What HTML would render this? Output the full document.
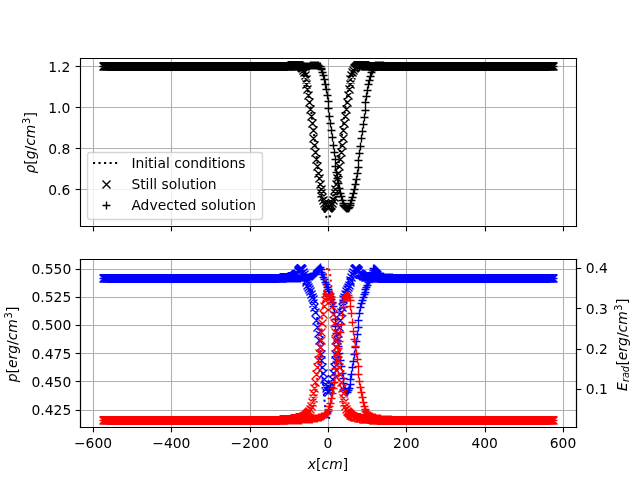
<!DOCTYPE html>
<html><head><meta charset="utf-8"><title>plot</title>
<style>html,body{margin:0;padding:0;background:#fff;overflow:hidden}svg{display:block}</style></head>
<body>
<svg width="640" height="480" viewBox="0 0 460.8 345.6"><defs><style type="text/css">*{stroke-linejoin: round; stroke-linecap: butt}</style></defs><g id="figure_1"><g id="patch_1"><path d="M 0 345.6  L 460.8 345.6  L 460.8 0  L 0 0  z " style="fill: #ffffff"/></g><g id="axes_1"><g id="patch_2"><path d="M 57.6 162.432  L 414.72 162.432  L 414.72 41.472  L 57.6 41.472  z " style="fill: #ffffff"/></g><g id="matplotlib.axis_1"><g id="xtick_1"><g id="line2d_1"><path d="M67.32 163.08L67.32 42.12" clip-path="url(#p5a04fdbafb)" style="fill: none; stroke: #b0b0b0; stroke-width: 0.8; stroke-linecap: square"/></g><g id="line2d_2"><defs><path id="mcf58b00b4e" d="M 0 0  L 0 3.5  " style="stroke: #000000; stroke-width: 0.8"/></defs><g><use href="#mcf58b00b4e" x="67.32" y="163.08" style="stroke: #000000; stroke-width: 0.8"/></g></g></g><g id="xtick_2"><g id="line2d_3"><path d="M123.48 163.08L123.48 42.12" clip-path="url(#p5a04fdbafb)" style="fill: none; stroke: #b0b0b0; stroke-width: 0.8; stroke-linecap: square"/></g><g id="line2d_4"><g><use href="#mcf58b00b4e" x="123.48" y="163.08" style="stroke: #000000; stroke-width: 0.8"/></g></g></g><g id="xtick_3"><g id="line2d_5"><path d="M180.36 163.08L180.36 42.12" clip-path="url(#p5a04fdbafb)" style="fill: none; stroke: #b0b0b0; stroke-width: 0.8; stroke-linecap: square"/></g><g id="line2d_6"><g><use href="#mcf58b00b4e" x="180.36" y="163.08" style="stroke: #000000; stroke-width: 0.8"/></g></g></g><g id="xtick_4"><g id="line2d_7"><path d="M236.52 163.08L236.52 42.12" clip-path="url(#p5a04fdbafb)" style="fill: none; stroke: #b0b0b0; stroke-width: 0.8; stroke-linecap: square"/></g><g id="line2d_8"><g><use href="#mcf58b00b4e" x="236.52" y="163.08" style="stroke: #000000; stroke-width: 0.8"/></g></g></g><g id="xtick_5"><g id="line2d_9"><path d="M292.68 163.08L292.68 42.12" clip-path="url(#p5a04fdbafb)" style="fill: none; stroke: #b0b0b0; stroke-width: 0.8; stroke-linecap: square"/></g><g id="line2d_10"><g><use href="#mcf58b00b4e" x="292.68" y="163.08" style="stroke: #000000; stroke-width: 0.8"/></g></g></g><g id="xtick_6"><g id="line2d_11"><path d="M349.56 163.08L349.56 42.12" clip-path="url(#p5a04fdbafb)" style="fill: none; stroke: #b0b0b0; stroke-width: 0.8; stroke-linecap: square"/></g><g id="line2d_12"><g><use href="#mcf58b00b4e" x="349.56" y="163.08" style="stroke: #000000; stroke-width: 0.8"/></g></g></g><g id="xtick_7"><g id="line2d_13"><path d="M405.72 163.08L405.72 42.12" clip-path="url(#p5a04fdbafb)" style="fill: none; stroke: #b0b0b0; stroke-width: 0.8; stroke-linecap: square"/></g><g id="line2d_14"><g><use href="#mcf58b00b4e" x="405.72" y="163.08" style="stroke: #000000; stroke-width: 0.8"/></g></g></g></g><g id="matplotlib.axis_2"><g id="ytick_1"><g id="line2d_15"><path d="M57.96 136.44L415.08 136.44" clip-path="url(#p5a04fdbafb)" style="fill: none; stroke: #b0b0b0; stroke-width: 0.8; stroke-linecap: square"/></g><g id="line2d_16"><defs><path id="m69bea41861" d="M 0 0  L -3.5 0  " style="stroke: #000000; stroke-width: 0.8"/></defs><g><use href="#m69bea41861" x="57.96" y="136.44" style="stroke: #000000; stroke-width: 0.8"/></g></g><g id="text_1"><text style="font-size: 10px; font-family: 'DejaVu Sans', sans-serif; text-anchor: end" x="50.6" y="140.061">0.6</text></g></g><g id="ytick_2"><g id="line2d_17"><path d="M57.96 106.92L415.08 106.92" clip-path="url(#p5a04fdbafb)" style="fill: none; stroke: #b0b0b0; stroke-width: 0.8; stroke-linecap: square"/></g><g id="line2d_18"><g><use href="#m69bea41861" x="57.96" y="106.92" style="stroke: #000000; stroke-width: 0.8"/></g></g><g id="text_2"><text style="font-size: 10px; font-family: 'DejaVu Sans', sans-serif; text-anchor: end" x="50.6" y="110.541">0.8</text></g></g><g id="ytick_3"><g id="line2d_19"><path d="M57.96 77.4L415.08 77.4" clip-path="url(#p5a04fdbafb)" style="fill: none; stroke: #b0b0b0; stroke-width: 0.8; stroke-linecap: square"/></g><g id="line2d_20"><g><use href="#m69bea41861" x="57.96" y="77.4" style="stroke: #000000; stroke-width: 0.8"/></g></g><g id="text_3"><text style="font-size: 10px; font-family: 'DejaVu Sans', sans-serif; text-anchor: end" x="50.6" y="81.02">1.0</text></g></g><g id="ytick_4"><g id="line2d_21"><path d="M57.96 47.88L415.08 47.88" clip-path="url(#p5a04fdbafb)" style="fill: none; stroke: #b0b0b0; stroke-width: 0.8; stroke-linecap: square"/></g><g id="line2d_22"><g><use href="#m69bea41861" x="57.96" y="47.88" style="stroke: #000000; stroke-width: 0.8"/></g></g><g id="text_4"><text style="font-size: 10px; font-family: 'DejaVu Sans', sans-serif; text-anchor: end" x="50.6" y="51.5">1.2</text></g></g><g id="text_5"><g transform="translate(26.437 124.966) rotate(-90)"><text><tspan x="0" y="-0.976" style="font-style: oblique; font-size: 10px; font-family: 'DejaVu Sans', sans-serif">ρ</tspan><tspan x="10.249" y="-0.976" style="font-style: oblique; font-size: 10px; font-family: 'DejaVu Sans', sans-serif">g</tspan><tspan x="19.965" y="-0.976" style="font-style: oblique; font-size: 10px; font-family: 'DejaVu Sans', sans-serif">c</tspan><tspan x="25.463" y="-0.976" style="font-style: oblique; font-size: 10px; font-family: 'DejaVu Sans', sans-serif">m</tspan><tspan x="6.347" y="-0.976" style="font-size: 10px; font-family: 'DejaVu Sans', sans-serif">[</tspan><tspan x="16.596" y="-0.976" style="font-size: 10px; font-family: 'DejaVu Sans', sans-serif">/</tspan><tspan x="40.396" y="-0.976" style="font-size: 10px; font-family: 'DejaVu Sans', sans-serif">]</tspan><tspan x="35.669" y="-4.804" style="font-size: 7px; font-family: 'DejaVu Sans', sans-serif">3</tspan></text></g></g></g><g id="line2d_23"><path d="M 73.842 47.700  L 209.795 47.797  L 211.701 47.978  L 212.971 48.238  L 214.242 48.702  L 215.513 49.502  L 216.148 50.082  L 216.783 50.818  L 217.418 51.743  L 218.054 52.891  L 218.689 54.297  L 219.324 55.998  L 220.595 60.419  L 221.865 66.367  L 223.136 73.915  L 224.407 82.935  L 226.312 98.472  L 230.124 130.635  L 231.395 139.865  L 232.665 147.574  L 233.936 153.303  L 234.571 155.293  L 235.207 156.644  L 235.842 157.327  L 236.477 157.327  L 237.112 156.644  L 237.748 155.293  L 238.383 153.303  L 239.018 150.714  L 240.289 143.939  L 241.559 135.411  L 243.465 120.345  L 247.912 82.935  L 249.183 73.915  L 250.454 66.367  L 251.724 60.419  L 252.995 55.998  L 254.265 52.891  L 255.536 50.818  L 256.806 49.502  L 258.077 48.702  L 259.348 48.238  L 261.254 47.897  L 263.795 47.746  L 270.148 47.701  L 398.477 47.700  L 398.477 47.700  " clip-path="url(#p5a04fdbafb)" style="fill: none; stroke-dasharray: 1.5,2.475; stroke-dashoffset: 0; stroke: #000000; stroke-width: 1.5"/></g><g id="line2d_24"><path clip-path="url(#p5a04fdbafb)" d="M71.64 45l5.76 5.76m-5.76 0l5.76 -5.76M71.64 45l5.76 5.76m-5.76 0l5.76 -5.76M72.36 45l5.76 5.76m-5.76 0l5.76 -5.76M73.08 45l5.76 5.76m-5.76 0l5.76 -5.76M73.8 45l5.76 5.76m-5.76 0l5.76 -5.76M74.52 45l5.76 5.76m-5.76 0l5.76 -5.76M75.24 45l5.76 5.76m-5.76 0l5.76 -5.76M75.96 45l5.76 5.76m-5.76 0l5.76 -5.76M76.68 45l5.76 5.76m-5.76 0l5.76 -5.76M77.4 45l5.76 5.76m-5.76 0l5.76 -5.76M77.4 45l5.76 5.76m-5.76 0l5.76 -5.76M78.12 45l5.76 5.76m-5.76 0l5.76 -5.76M78.84 45l5.76 5.76m-5.76 0l5.76 -5.76M79.56 45l5.76 5.76m-5.76 0l5.76 -5.76M80.28 45l5.76 5.76m-5.76 0l5.76 -5.76M81 45l5.76 5.76m-5.76 0l5.76 -5.76M81.72 45l5.76 5.76m-5.76 0l5.76 -5.76M82.44 45l5.76 5.76m-5.76 0l5.76 -5.76M82.44 45l5.76 5.76m-5.76 0l5.76 -5.76M83.16 45l5.76 5.76m-5.76 0l5.76 -5.76M83.88 45l5.76 5.76m-5.76 0l5.76 -5.76M84.6 45l5.76 5.76m-5.76 0l5.76 -5.76M85.32 45l5.76 5.76m-5.76 0l5.76 -5.76M86.04 45l5.76 5.76m-5.76 0l5.76 -5.76M86.76 45l5.76 5.76m-5.76 0l5.76 -5.76M87.48 45l5.76 5.76m-5.76 0l5.76 -5.76M88.2 45l5.76 5.76m-5.76 0l5.76 -5.76M88.2 45l5.76 5.76m-5.76 0l5.76 -5.76M88.92 45l5.76 5.76m-5.76 0l5.76 -5.76M89.64 45l5.76 5.76m-5.76 0l5.76 -5.76M90.36 45l5.76 5.76m-5.76 0l5.76 -5.76M91.08 45l5.76 5.76m-5.76 0l5.76 -5.76M91.8 45l5.76 5.76m-5.76 0l5.76 -5.76M92.52 45l5.76 5.76m-5.76 0l5.76 -5.76M93.24 45l5.76 5.76m-5.76 0l5.76 -5.76M93.24 45l5.76 5.76m-5.76 0l5.76 -5.76M93.96 45l5.76 5.76m-5.76 0l5.76 -5.76M94.68 45l5.76 5.76m-5.76 0l5.76 -5.76M95.4 45l5.76 5.76m-5.76 0l5.76 -5.76M96.12 45l5.76 5.76m-5.76 0l5.76 -5.76M96.84 45l5.76 5.76m-5.76 0l5.76 -5.76M97.56 45l5.76 5.76m-5.76 0l5.76 -5.76M98.28 45l5.76 5.76m-5.76 0l5.76 -5.76M99 45l5.76 5.76m-5.76 0l5.76 -5.76M99 45l5.76 5.76m-5.76 0l5.76 -5.76M99.72 45l5.76 5.76m-5.76 0l5.76 -5.76M100.44 45l5.76 5.76m-5.76 0l5.76 -5.76M101.16 45l5.76 5.76m-5.76 0l5.76 -5.76M101.88 45l5.76 5.76m-5.76 0l5.76 -5.76M102.6 45l5.76 5.76m-5.76 0l5.76 -5.76M103.32 45l5.76 5.76m-5.76 0l5.76 -5.76M104.04 45l5.76 5.76m-5.76 0l5.76 -5.76M104.04 45l5.76 5.76m-5.76 0l5.76 -5.76M104.76 45l5.76 5.76m-5.76 0l5.76 -5.76M105.48 45l5.76 5.76m-5.76 0l5.76 -5.76M106.2 45l5.76 5.76m-5.76 0l5.76 -5.76M106.92 45l5.76 5.76m-5.76 0l5.76 -5.76M107.64 45l5.76 5.76m-5.76 0l5.76 -5.76M108.36 45l5.76 5.76m-5.76 0l5.76 -5.76M109.08 45l5.76 5.76m-5.76 0l5.76 -5.76M109.8 45l5.76 5.76m-5.76 0l5.76 -5.76M109.8 45l5.76 5.76m-5.76 0l5.76 -5.76M110.52 45l5.76 5.76m-5.76 0l5.76 -5.76M111.24 45l5.76 5.76m-5.76 0l5.76 -5.76M111.96 45l5.76 5.76m-5.76 0l5.76 -5.76M112.68 45l5.76 5.76m-5.76 0l5.76 -5.76M113.4 45l5.76 5.76m-5.76 0l5.76 -5.76M114.12 45l5.76 5.76m-5.76 0l5.76 -5.76M114.84 45l5.76 5.76m-5.76 0l5.76 -5.76M114.84 45l5.76 5.76m-5.76 0l5.76 -5.76M115.56 45l5.76 5.76m-5.76 0l5.76 -5.76M116.28 45l5.76 5.76m-5.76 0l5.76 -5.76M117 45l5.76 5.76m-5.76 0l5.76 -5.76M117.72 45l5.76 5.76m-5.76 0l5.76 -5.76M118.44 45l5.76 5.76m-5.76 0l5.76 -5.76M119.16 45l5.76 5.76m-5.76 0l5.76 -5.76M119.88 45l5.76 5.76m-5.76 0l5.76 -5.76M120.6 45l5.76 5.76m-5.76 0l5.76 -5.76M120.6 45l5.76 5.76m-5.76 0l5.76 -5.76M121.32 45l5.76 5.76m-5.76 0l5.76 -5.76M122.04 45l5.76 5.76m-5.76 0l5.76 -5.76M122.76 45l5.76 5.76m-5.76 0l5.76 -5.76M123.48 45l5.76 5.76m-5.76 0l5.76 -5.76M124.2 45l5.76 5.76m-5.76 0l5.76 -5.76M124.92 45l5.76 5.76m-5.76 0l5.76 -5.76M125.64 45l5.76 5.76m-5.76 0l5.76 -5.76M125.64 45l5.76 5.76m-5.76 0l5.76 -5.76M126.36 45l5.76 5.76m-5.76 0l5.76 -5.76M127.08 45l5.76 5.76m-5.76 0l5.76 -5.76M127.8 45l5.76 5.76m-5.76 0l5.76 -5.76M128.52 45l5.76 5.76m-5.76 0l5.76 -5.76M129.24 45l5.76 5.76m-5.76 0l5.76 -5.76M129.96 45l5.76 5.76m-5.76 0l5.76 -5.76M130.68 45l5.76 5.76m-5.76 0l5.76 -5.76M131.4 45l5.76 5.76m-5.76 0l5.76 -5.76M131.4 45l5.76 5.76m-5.76 0l5.76 -5.76M132.12 45l5.76 5.76m-5.76 0l5.76 -5.76M132.84 45l5.76 5.76m-5.76 0l5.76 -5.76M133.56 45l5.76 5.76m-5.76 0l5.76 -5.76M134.28 45l5.76 5.76m-5.76 0l5.76 -5.76M135 45l5.76 5.76m-5.76 0l5.76 -5.76M135.72 45l5.76 5.76m-5.76 0l5.76 -5.76M136.44 45l5.76 5.76m-5.76 0l5.76 -5.76M136.44 45l5.76 5.76m-5.76 0l5.76 -5.76M137.16 45l5.76 5.76m-5.76 0l5.76 -5.76M137.88 45l5.76 5.76m-5.76 0l5.76 -5.76M138.6 45l5.76 5.76m-5.76 0l5.76 -5.76M139.32 45l5.76 5.76m-5.76 0l5.76 -5.76M140.04 45l5.76 5.76m-5.76 0l5.76 -5.76M140.76 45l5.76 5.76m-5.76 0l5.76 -5.76M141.48 45l5.76 5.76m-5.76 0l5.76 -5.76M142.2 45l5.76 5.76m-5.76 0l5.76 -5.76M142.2 45l5.76 5.76m-5.76 0l5.76 -5.76M142.92 45l5.76 5.76m-5.76 0l5.76 -5.76M143.64 45l5.76 5.76m-5.76 0l5.76 -5.76M144.36 45l5.76 5.76m-5.76 0l5.76 -5.76M145.08 45l5.76 5.76m-5.76 0l5.76 -5.76M145.8 45l5.76 5.76m-5.76 0l5.76 -5.76M146.52 45l5.76 5.76m-5.76 0l5.76 -5.76M147.24 45l5.76 5.76m-5.76 0l5.76 -5.76M147.24 45l5.76 5.76m-5.76 0l5.76 -5.76M147.96 45l5.76 5.76m-5.76 0l5.76 -5.76M148.68 45l5.76 5.76m-5.76 0l5.76 -5.76M149.4 45l5.76 5.76m-5.76 0l5.76 -5.76M150.12 45l5.76 5.76m-5.76 0l5.76 -5.76M150.84 45l5.76 5.76m-5.76 0l5.76 -5.76M151.56 45l5.76 5.76m-5.76 0l5.76 -5.76M152.28 45l5.76 5.76m-5.76 0l5.76 -5.76M153 45l5.76 5.76m-5.76 0l5.76 -5.76M153 45l5.76 5.76m-5.76 0l5.76 -5.76M153.72 45l5.76 5.76m-5.76 0l5.76 -5.76M154.44 45l5.76 5.76m-5.76 0l5.76 -5.76M155.16 45l5.76 5.76m-5.76 0l5.76 -5.76M155.88 45l5.76 5.76m-5.76 0l5.76 -5.76M156.6 45l5.76 5.76m-5.76 0l5.76 -5.76M157.32 45l5.76 5.76m-5.76 0l5.76 -5.76M158.04 45l5.76 5.76m-5.76 0l5.76 -5.76M158.04 45l5.76 5.76m-5.76 0l5.76 -5.76M158.76 45l5.76 5.76m-5.76 0l5.76 -5.76M159.48 45l5.76 5.76m-5.76 0l5.76 -5.76M160.2 45l5.76 5.76m-5.76 0l5.76 -5.76M160.92 45l5.76 5.76m-5.76 0l5.76 -5.76M161.64 45l5.76 5.76m-5.76 0l5.76 -5.76M162.36 45l5.76 5.76m-5.76 0l5.76 -5.76M163.08 45l5.76 5.76m-5.76 0l5.76 -5.76M163.8 45l5.76 5.76m-5.76 0l5.76 -5.76M163.8 45l5.76 5.76m-5.76 0l5.76 -5.76M164.52 45l5.76 5.76m-5.76 0l5.76 -5.76M165.24 45l5.76 5.76m-5.76 0l5.76 -5.76M165.96 45l5.76 5.76m-5.76 0l5.76 -5.76M166.68 45l5.76 5.76m-5.76 0l5.76 -5.76M167.4 45l5.76 5.76m-5.76 0l5.76 -5.76M168.12 45l5.76 5.76m-5.76 0l5.76 -5.76M168.84 45l5.76 5.76m-5.76 0l5.76 -5.76M168.84 45l5.76 5.76m-5.76 0l5.76 -5.76M169.56 45l5.76 5.76m-5.76 0l5.76 -5.76M170.28 45l5.76 5.76m-5.76 0l5.76 -5.76M171 45l5.76 5.76m-5.76 0l5.76 -5.76M171.72 45l5.76 5.76m-5.76 0l5.76 -5.76M172.44 45l5.76 5.76m-5.76 0l5.76 -5.76M173.16 45l5.76 5.76m-5.76 0l5.76 -5.76M173.88 45l5.76 5.76m-5.76 0l5.76 -5.76M174.6 45l5.76 5.76m-5.76 0l5.76 -5.76M174.6 45l5.76 5.76m-5.76 0l5.76 -5.76M175.32 45l5.76 5.76m-5.76 0l5.76 -5.76M176.04 45l5.76 5.76m-5.76 0l5.76 -5.76M176.76 45l5.76 5.76m-5.76 0l5.76 -5.76M177.48 45l5.76 5.76m-5.76 0l5.76 -5.76M178.2 45l5.76 5.76m-5.76 0l5.76 -5.76M178.92 45l5.76 5.76m-5.76 0l5.76 -5.76M179.64 45l5.76 5.76m-5.76 0l5.76 -5.76M179.64 45l5.76 5.76m-5.76 0l5.76 -5.76M180.36 45l5.76 5.76m-5.76 0l5.76 -5.76M181.08 45l5.76 5.76m-5.76 0l5.76 -5.76M181.8 45l5.76 5.76m-5.76 0l5.76 -5.76M182.52 45l5.76 5.76m-5.76 0l5.76 -5.76M183.24 45l5.76 5.76m-5.76 0l5.76 -5.76M183.96 45l5.76 5.76m-5.76 0l5.76 -5.76M184.68 45l5.76 5.76m-5.76 0l5.76 -5.76M185.4 45l5.76 5.76m-5.76 0l5.76 -5.76M185.4 45l5.76 5.76m-5.76 0l5.76 -5.76M186.12 45l5.76 5.76m-5.76 0l5.76 -5.76M186.84 45l5.76 5.76m-5.76 0l5.76 -5.76M187.56 45l5.76 5.76m-5.76 0l5.76 -5.76M188.28 45l5.76 5.76m-5.76 0l5.76 -5.76M189 45l5.76 5.76m-5.76 0l5.76 -5.76M189.72 45l5.76 5.76m-5.76 0l5.76 -5.76M190.44 45l5.76 5.76m-5.76 0l5.76 -5.76M190.44 45l5.76 5.76m-5.76 0l5.76 -5.76M191.16 45l5.76 5.76m-5.76 0l5.76 -5.76M191.88 45l5.76 5.76m-5.76 0l5.76 -5.76M192.6 45l5.76 5.76m-5.76 0l5.76 -5.76M193.32 45l5.76 5.76m-5.76 0l5.76 -5.76M194.04 45l5.76 5.76m-5.76 0l5.76 -5.76M194.76 45l5.76 5.76m-5.76 0l5.76 -5.76M195.48 45l5.76 5.76m-5.76 0l5.76 -5.76M196.2 45l5.76 5.76m-5.76 0l5.76 -5.76M196.2 45l5.76 5.76m-5.76 0l5.76 -5.76M196.92 45l5.76 5.76m-5.76 0l5.76 -5.76M197.64 45l5.76 5.76m-5.76 0l5.76 -5.76M198.36 45l5.76 5.76m-5.76 0l5.76 -5.76M199.08 45l5.76 5.76m-5.76 0l5.76 -5.76M199.8 45l5.76 5.76m-5.76 0l5.76 -5.76M200.52 45l5.76 5.76m-5.76 0l5.76 -5.76M201.24 45l5.76 5.76m-5.76 0l5.76 -5.76M201.24 45l5.76 5.76m-5.76 0l5.76 -5.76M201.96 45l5.76 5.76m-5.76 0l5.76 -5.76M202.68 45l5.76 5.76m-5.76 0l5.76 -5.76M203.4 45l5.76 5.76m-5.76 0l5.76 -5.76M204.12 45l5.76 5.76m-5.76 0l5.76 -5.76M204.84 45l5.76 5.76m-5.76 0l5.76 -5.76M205.56 45l5.76 5.76m-5.76 0l5.76 -5.76M206.28 45l5.76 5.76m-5.76 0l5.76 -5.76M207 45l5.76 5.76m-5.76 0l5.76 -5.76M207 44.28l5.76 5.76m-5.76 0l5.76 -5.76M207.72 44.28l5.76 5.76m-5.76 0l5.76 -5.76M208.44 44.28l5.76 5.76m-5.76 0l5.76 -5.76M209.16 44.28l5.76 5.76m-5.76 0l5.76 -5.76M209.88 44.28l5.76 5.76m-5.76 0l5.76 -5.76M210.6 44.28l5.76 5.76m-5.76 0l5.76 -5.76M211.32 44.28l5.76 5.76m-5.76 0l5.76 -5.76M212.04 44.28l5.76 5.76m-5.76 0l5.76 -5.76M212.04 44.28l5.76 5.76m-5.76 0l5.76 -5.76M212.76 44.28l5.76 5.76m-5.76 0l5.76 -5.76M213.48 45l5.76 5.76m-5.76 0l5.76 -5.76M214.2 45.72l5.76 5.76m-5.76 0l5.76 -5.76M214.92 46.44l5.76 5.76m-5.76 0l5.76 -5.76M215.64 47.88l5.76 5.76m-5.76 0l5.76 -5.76M216.36 49.32l5.76 5.76m-5.76 0l5.76 -5.76M217.08 51.48l5.76 5.76m-5.76 0l5.76 -5.76M217.8 54.36l5.76 5.76m-5.76 0l5.76 -5.76M217.8 57.96l5.76 5.76m-5.76 0l5.76 -5.76M218.52 61.56l5.76 5.76m-5.76 0l5.76 -5.76M219.24 65.88l5.76 5.76m-5.76 0l5.76 -5.76M219.96 70.92l5.76 5.76m-5.76 0l5.76 -5.76M220.68 75.96l5.76 5.76m-5.76 0l5.76 -5.76M221.4 81l5.76 5.76m-5.76 0l5.76 -5.76M222.12 86.04l5.76 5.76m-5.76 0l5.76 -5.76M222.84 91.08l5.76 5.76m-5.76 0l5.76 -5.76M222.84 96.84l5.76 5.76m-5.76 0l5.76 -5.76M223.56 101.88l5.76 5.76m-5.76 0l5.76 -5.76M224.28 106.92l5.76 5.76m-5.76 0l5.76 -5.76M225 111.96l5.76 5.76m-5.76 0l5.76 -5.76M225.72 117l5.76 5.76m-5.76 0l5.76 -5.76M226.44 122.04l5.76 5.76m-5.76 0l5.76 -5.76M227.16 125.64l5.76 5.76m-5.76 0l5.76 -5.76M227.88 129.96l5.76 5.76m-5.76 0l5.76 -5.76M228.6 133.56l5.76 5.76m-5.76 0l5.76 -5.76M228.6 136.44l5.76 5.76m-5.76 0l5.76 -5.76M229.32 139.32l5.76 5.76m-5.76 0l5.76 -5.76M230.04 141.48l5.76 5.76m-5.76 0l5.76 -5.76M230.76 143.64l5.76 5.76m-5.76 0l5.76 -5.76M231.48 145.08l5.76 5.76m-5.76 0l5.76 -5.76M232.2 145.8l5.76 5.76m-5.76 0l5.76 -5.76M232.92 146.52l5.76 5.76m-5.76 0l5.76 -5.76M233.64 147.24l5.76 5.76m-5.76 0l5.76 -5.76M233.64 147.24l5.76 5.76m-5.76 0l5.76 -5.76M234.36 146.52l5.76 5.76m-5.76 0l5.76 -5.76M235.08 145.8l5.76 5.76m-5.76 0l5.76 -5.76M235.8 145.08l5.76 5.76m-5.76 0l5.76 -5.76M236.52 143.64l5.76 5.76m-5.76 0l5.76 -5.76M237.24 141.48l5.76 5.76m-5.76 0l5.76 -5.76M237.96 139.32l5.76 5.76m-5.76 0l5.76 -5.76M238.68 136.44l5.76 5.76m-5.76 0l5.76 -5.76M238.68 133.56l5.76 5.76m-5.76 0l5.76 -5.76M239.4 129.96l5.76 5.76m-5.76 0l5.76 -5.76M240.12 125.64l5.76 5.76m-5.76 0l5.76 -5.76M240.84 122.04l5.76 5.76m-5.76 0l5.76 -5.76M241.56 117l5.76 5.76m-5.76 0l5.76 -5.76M242.28 111.96l5.76 5.76m-5.76 0l5.76 -5.76M243 106.92l5.76 5.76m-5.76 0l5.76 -5.76M243.72 101.88l5.76 5.76m-5.76 0l5.76 -5.76M244.44 96.84l5.76 5.76m-5.76 0l5.76 -5.76M244.44 91.08l5.76 5.76m-5.76 0l5.76 -5.76M245.16 86.04l5.76 5.76m-5.76 0l5.76 -5.76M245.88 81l5.76 5.76m-5.76 0l5.76 -5.76M246.6 75.96l5.76 5.76m-5.76 0l5.76 -5.76M247.32 70.92l5.76 5.76m-5.76 0l5.76 -5.76M248.04 65.88l5.76 5.76m-5.76 0l5.76 -5.76M248.76 61.56l5.76 5.76m-5.76 0l5.76 -5.76M249.48 57.96l5.76 5.76m-5.76 0l5.76 -5.76M249.48 54.36l5.76 5.76m-5.76 0l5.76 -5.76M250.2 51.48l5.76 5.76m-5.76 0l5.76 -5.76M250.92 49.32l5.76 5.76m-5.76 0l5.76 -5.76M251.64 47.88l5.76 5.76m-5.76 0l5.76 -5.76M252.36 46.44l5.76 5.76m-5.76 0l5.76 -5.76M253.08 45.72l5.76 5.76m-5.76 0l5.76 -5.76M253.8 45l5.76 5.76m-5.76 0l5.76 -5.76M254.52 44.28l5.76 5.76m-5.76 0l5.76 -5.76M255.24 44.28l5.76 5.76m-5.76 0l5.76 -5.76M255.24 44.28l5.76 5.76m-5.76 0l5.76 -5.76M255.96 44.28l5.76 5.76m-5.76 0l5.76 -5.76M256.68 44.28l5.76 5.76m-5.76 0l5.76 -5.76M257.4 44.28l5.76 5.76m-5.76 0l5.76 -5.76M258.12 44.28l5.76 5.76m-5.76 0l5.76 -5.76M258.84 44.28l5.76 5.76m-5.76 0l5.76 -5.76M259.56 44.28l5.76 5.76m-5.76 0l5.76 -5.76M260.28 44.28l5.76 5.76m-5.76 0l5.76 -5.76M260.28 45l5.76 5.76m-5.76 0l5.76 -5.76M261 45l5.76 5.76m-5.76 0l5.76 -5.76M261.72 45l5.76 5.76m-5.76 0l5.76 -5.76M262.44 45l5.76 5.76m-5.76 0l5.76 -5.76M263.16 45l5.76 5.76m-5.76 0l5.76 -5.76M263.88 45l5.76 5.76m-5.76 0l5.76 -5.76M264.6 45l5.76 5.76m-5.76 0l5.76 -5.76M265.32 45l5.76 5.76m-5.76 0l5.76 -5.76M266.04 45l5.76 5.76m-5.76 0l5.76 -5.76M266.04 45l5.76 5.76m-5.76 0l5.76 -5.76M266.76 45l5.76 5.76m-5.76 0l5.76 -5.76M267.48 45l5.76 5.76m-5.76 0l5.76 -5.76M268.2 45l5.76 5.76m-5.76 0l5.76 -5.76M268.92 45l5.76 5.76m-5.76 0l5.76 -5.76M269.64 45l5.76 5.76m-5.76 0l5.76 -5.76M270.36 45l5.76 5.76m-5.76 0l5.76 -5.76M271.08 45l5.76 5.76m-5.76 0l5.76 -5.76M271.08 45l5.76 5.76m-5.76 0l5.76 -5.76M271.8 45l5.76 5.76m-5.76 0l5.76 -5.76M272.52 45l5.76 5.76m-5.76 0l5.76 -5.76M273.24 45l5.76 5.76m-5.76 0l5.76 -5.76M273.96 45l5.76 5.76m-5.76 0l5.76 -5.76M274.68 45l5.76 5.76m-5.76 0l5.76 -5.76M275.4 45l5.76 5.76m-5.76 0l5.76 -5.76M276.12 45l5.76 5.76m-5.76 0l5.76 -5.76M276.84 45l5.76 5.76m-5.76 0l5.76 -5.76M276.84 45l5.76 5.76m-5.76 0l5.76 -5.76M277.56 45l5.76 5.76m-5.76 0l5.76 -5.76M278.28 45l5.76 5.76m-5.76 0l5.76 -5.76M279 45l5.76 5.76m-5.76 0l5.76 -5.76M279.72 45l5.76 5.76m-5.76 0l5.76 -5.76M280.44 45l5.76 5.76m-5.76 0l5.76 -5.76M281.16 45l5.76 5.76m-5.76 0l5.76 -5.76M281.88 45l5.76 5.76m-5.76 0l5.76 -5.76M281.88 45l5.76 5.76m-5.76 0l5.76 -5.76M282.6 45l5.76 5.76m-5.76 0l5.76 -5.76M283.32 45l5.76 5.76m-5.76 0l5.76 -5.76M284.04 45l5.76 5.76m-5.76 0l5.76 -5.76M284.76 45l5.76 5.76m-5.76 0l5.76 -5.76M285.48 45l5.76 5.76m-5.76 0l5.76 -5.76M286.2 45l5.76 5.76m-5.76 0l5.76 -5.76M286.92 45l5.76 5.76m-5.76 0l5.76 -5.76M287.64 45l5.76 5.76m-5.76 0l5.76 -5.76M287.64 45l5.76 5.76m-5.76 0l5.76 -5.76M288.36 45l5.76 5.76m-5.76 0l5.76 -5.76M289.08 45l5.76 5.76m-5.76 0l5.76 -5.76M289.8 45l5.76 5.76m-5.76 0l5.76 -5.76M290.52 45l5.76 5.76m-5.76 0l5.76 -5.76M291.24 45l5.76 5.76m-5.76 0l5.76 -5.76M291.96 45l5.76 5.76m-5.76 0l5.76 -5.76M292.68 45l5.76 5.76m-5.76 0l5.76 -5.76M292.68 45l5.76 5.76m-5.76 0l5.76 -5.76M293.4 45l5.76 5.76m-5.76 0l5.76 -5.76M294.12 45l5.76 5.76m-5.76 0l5.76 -5.76M294.84 45l5.76 5.76m-5.76 0l5.76 -5.76M295.56 45l5.76 5.76m-5.76 0l5.76 -5.76M296.28 45l5.76 5.76m-5.76 0l5.76 -5.76M297 45l5.76 5.76m-5.76 0l5.76 -5.76M297.72 45l5.76 5.76m-5.76 0l5.76 -5.76M298.44 45l5.76 5.76m-5.76 0l5.76 -5.76M298.44 45l5.76 5.76m-5.76 0l5.76 -5.76M299.16 45l5.76 5.76m-5.76 0l5.76 -5.76M299.88 45l5.76 5.76m-5.76 0l5.76 -5.76M300.6 45l5.76 5.76m-5.76 0l5.76 -5.76M301.32 45l5.76 5.76m-5.76 0l5.76 -5.76M302.04 45l5.76 5.76m-5.76 0l5.76 -5.76M302.76 45l5.76 5.76m-5.76 0l5.76 -5.76M303.48 45l5.76 5.76m-5.76 0l5.76 -5.76M303.48 45l5.76 5.76m-5.76 0l5.76 -5.76M304.2 45l5.76 5.76m-5.76 0l5.76 -5.76M304.92 45l5.76 5.76m-5.76 0l5.76 -5.76M305.64 45l5.76 5.76m-5.76 0l5.76 -5.76M306.36 45l5.76 5.76m-5.76 0l5.76 -5.76M307.08 45l5.76 5.76m-5.76 0l5.76 -5.76M307.8 45l5.76 5.76m-5.76 0l5.76 -5.76M308.52 45l5.76 5.76m-5.76 0l5.76 -5.76M309.24 45l5.76 5.76m-5.76 0l5.76 -5.76M309.24 45l5.76 5.76m-5.76 0l5.76 -5.76M309.96 45l5.76 5.76m-5.76 0l5.76 -5.76M310.68 45l5.76 5.76m-5.76 0l5.76 -5.76M311.4 45l5.76 5.76m-5.76 0l5.76 -5.76M312.12 45l5.76 5.76m-5.76 0l5.76 -5.76M312.84 45l5.76 5.76m-5.76 0l5.76 -5.76M313.56 45l5.76 5.76m-5.76 0l5.76 -5.76M314.28 45l5.76 5.76m-5.76 0l5.76 -5.76M314.28 45l5.76 5.76m-5.76 0l5.76 -5.76M315 45l5.76 5.76m-5.76 0l5.76 -5.76M315.72 45l5.76 5.76m-5.76 0l5.76 -5.76M316.44 45l5.76 5.76m-5.76 0l5.76 -5.76M317.16 45l5.76 5.76m-5.76 0l5.76 -5.76M317.88 45l5.76 5.76m-5.76 0l5.76 -5.76M318.6 45l5.76 5.76m-5.76 0l5.76 -5.76M319.32 45l5.76 5.76m-5.76 0l5.76 -5.76M320.04 45l5.76 5.76m-5.76 0l5.76 -5.76M320.04 45l5.76 5.76m-5.76 0l5.76 -5.76M320.76 45l5.76 5.76m-5.76 0l5.76 -5.76M321.48 45l5.76 5.76m-5.76 0l5.76 -5.76M322.2 45l5.76 5.76m-5.76 0l5.76 -5.76M322.92 45l5.76 5.76m-5.76 0l5.76 -5.76M323.64 45l5.76 5.76m-5.76 0l5.76 -5.76M324.36 45l5.76 5.76m-5.76 0l5.76 -5.76M325.08 45l5.76 5.76m-5.76 0l5.76 -5.76M325.08 45l5.76 5.76m-5.76 0l5.76 -5.76M325.8 45l5.76 5.76m-5.76 0l5.76 -5.76M326.52 45l5.76 5.76m-5.76 0l5.76 -5.76M327.24 45l5.76 5.76m-5.76 0l5.76 -5.76M327.96 45l5.76 5.76m-5.76 0l5.76 -5.76M328.68 45l5.76 5.76m-5.76 0l5.76 -5.76M329.4 45l5.76 5.76m-5.76 0l5.76 -5.76M330.12 45l5.76 5.76m-5.76 0l5.76 -5.76M330.84 45l5.76 5.76m-5.76 0l5.76 -5.76M330.84 45l5.76 5.76m-5.76 0l5.76 -5.76M331.56 45l5.76 5.76m-5.76 0l5.76 -5.76M332.28 45l5.76 5.76m-5.76 0l5.76 -5.76M333 45l5.76 5.76m-5.76 0l5.76 -5.76M333.72 45l5.76 5.76m-5.76 0l5.76 -5.76M334.44 45l5.76 5.76m-5.76 0l5.76 -5.76M335.16 45l5.76 5.76m-5.76 0l5.76 -5.76M335.88 45l5.76 5.76m-5.76 0l5.76 -5.76M335.88 45l5.76 5.76m-5.76 0l5.76 -5.76M336.6 45l5.76 5.76m-5.76 0l5.76 -5.76M337.32 45l5.76 5.76m-5.76 0l5.76 -5.76M338.04 45l5.76 5.76m-5.76 0l5.76 -5.76M338.76 45l5.76 5.76m-5.76 0l5.76 -5.76M339.48 45l5.76 5.76m-5.76 0l5.76 -5.76M340.2 45l5.76 5.76m-5.76 0l5.76 -5.76M340.92 45l5.76 5.76m-5.76 0l5.76 -5.76M341.64 45l5.76 5.76m-5.76 0l5.76 -5.76M341.64 45l5.76 5.76m-5.76 0l5.76 -5.76M342.36 45l5.76 5.76m-5.76 0l5.76 -5.76M343.08 45l5.76 5.76m-5.76 0l5.76 -5.76M343.8 45l5.76 5.76m-5.76 0l5.76 -5.76M344.52 45l5.76 5.76m-5.76 0l5.76 -5.76M345.24 45l5.76 5.76m-5.76 0l5.76 -5.76M345.96 45l5.76 5.76m-5.76 0l5.76 -5.76M346.68 45l5.76 5.76m-5.76 0l5.76 -5.76M346.68 45l5.76 5.76m-5.76 0l5.76 -5.76M347.4 45l5.76 5.76m-5.76 0l5.76 -5.76M348.12 45l5.76 5.76m-5.76 0l5.76 -5.76M348.84 45l5.76 5.76m-5.76 0l5.76 -5.76M349.56 45l5.76 5.76m-5.76 0l5.76 -5.76M350.28 45l5.76 5.76m-5.76 0l5.76 -5.76M351 45l5.76 5.76m-5.76 0l5.76 -5.76M351.72 45l5.76 5.76m-5.76 0l5.76 -5.76M352.44 45l5.76 5.76m-5.76 0l5.76 -5.76M352.44 45l5.76 5.76m-5.76 0l5.76 -5.76M353.16 45l5.76 5.76m-5.76 0l5.76 -5.76M353.88 45l5.76 5.76m-5.76 0l5.76 -5.76M354.6 45l5.76 5.76m-5.76 0l5.76 -5.76M355.32 45l5.76 5.76m-5.76 0l5.76 -5.76M356.04 45l5.76 5.76m-5.76 0l5.76 -5.76M356.76 45l5.76 5.76m-5.76 0l5.76 -5.76M357.48 45l5.76 5.76m-5.76 0l5.76 -5.76M357.48 45l5.76 5.76m-5.76 0l5.76 -5.76M358.2 45l5.76 5.76m-5.76 0l5.76 -5.76M358.92 45l5.76 5.76m-5.76 0l5.76 -5.76M359.64 45l5.76 5.76m-5.76 0l5.76 -5.76M360.36 45l5.76 5.76m-5.76 0l5.76 -5.76M361.08 45l5.76 5.76m-5.76 0l5.76 -5.76M361.8 45l5.76 5.76m-5.76 0l5.76 -5.76M362.52 45l5.76 5.76m-5.76 0l5.76 -5.76M363.24 45l5.76 5.76m-5.76 0l5.76 -5.76M363.24 45l5.76 5.76m-5.76 0l5.76 -5.76M363.96 45l5.76 5.76m-5.76 0l5.76 -5.76M364.68 45l5.76 5.76m-5.76 0l5.76 -5.76M365.4 45l5.76 5.76m-5.76 0l5.76 -5.76M366.12 45l5.76 5.76m-5.76 0l5.76 -5.76M366.84 45l5.76 5.76m-5.76 0l5.76 -5.76M367.56 45l5.76 5.76m-5.76 0l5.76 -5.76M368.28 45l5.76 5.76m-5.76 0l5.76 -5.76M368.28 45l5.76 5.76m-5.76 0l5.76 -5.76M369 45l5.76 5.76m-5.76 0l5.76 -5.76M369.72 45l5.76 5.76m-5.76 0l5.76 -5.76M370.44 45l5.76 5.76m-5.76 0l5.76 -5.76M371.16 45l5.76 5.76m-5.76 0l5.76 -5.76M371.88 45l5.76 5.76m-5.76 0l5.76 -5.76M372.6 45l5.76 5.76m-5.76 0l5.76 -5.76M373.32 45l5.76 5.76m-5.76 0l5.76 -5.76M374.04 45l5.76 5.76m-5.76 0l5.76 -5.76M374.04 45l5.76 5.76m-5.76 0l5.76 -5.76M374.76 45l5.76 5.76m-5.76 0l5.76 -5.76M375.48 45l5.76 5.76m-5.76 0l5.76 -5.76M376.2 45l5.76 5.76m-5.76 0l5.76 -5.76M376.92 45l5.76 5.76m-5.76 0l5.76 -5.76M377.64 45l5.76 5.76m-5.76 0l5.76 -5.76M378.36 45l5.76 5.76m-5.76 0l5.76 -5.76M379.08 45l5.76 5.76m-5.76 0l5.76 -5.76M379.08 45l5.76 5.76m-5.76 0l5.76 -5.76M379.8 45l5.76 5.76m-5.76 0l5.76 -5.76M380.52 45l5.76 5.76m-5.76 0l5.76 -5.76M381.24 45l5.76 5.76m-5.76 0l5.76 -5.76M381.96 45l5.76 5.76m-5.76 0l5.76 -5.76M382.68 45l5.76 5.76m-5.76 0l5.76 -5.76M383.4 45l5.76 5.76m-5.76 0l5.76 -5.76M384.12 45l5.76 5.76m-5.76 0l5.76 -5.76M384.84 45l5.76 5.76m-5.76 0l5.76 -5.76M384.84 45l5.76 5.76m-5.76 0l5.76 -5.76M385.56 45l5.76 5.76m-5.76 0l5.76 -5.76M386.28 45l5.76 5.76m-5.76 0l5.76 -5.76M387 45l5.76 5.76m-5.76 0l5.76 -5.76M387.72 45l5.76 5.76m-5.76 0l5.76 -5.76M388.44 45l5.76 5.76m-5.76 0l5.76 -5.76M389.16 45l5.76 5.76m-5.76 0l5.76 -5.76M389.88 45l5.76 5.76m-5.76 0l5.76 -5.76M389.88 45l5.76 5.76m-5.76 0l5.76 -5.76M390.6 45l5.76 5.76m-5.76 0l5.76 -5.76M391.32 45l5.76 5.76m-5.76 0l5.76 -5.76M392.04 45l5.76 5.76m-5.76 0l5.76 -5.76M392.76 45l5.76 5.76m-5.76 0l5.76 -5.76M393.48 45l5.76 5.76m-5.76 0l5.76 -5.76M394.2 45l5.76 5.76m-5.76 0l5.76 -5.76M394.92 45l5.76 5.76m-5.76 0l5.76 -5.76M395.64 45l5.76 5.76m-5.76 0l5.76 -5.76M395.64 45l5.76 5.76m-5.76 0l5.76 -5.76" style="fill: none; stroke: #000000; stroke-width: 1"/></g><g id="line2d_25"><path clip-path="url(#p5a04fdbafb)" d="M71.64 47.88h5.76m-2.88 -2.88v5.76M71.64 47.88h5.76m-2.88 -2.88v5.76M72.36 47.88h5.76m-2.88 -2.88v5.76M73.08 47.88h5.76m-2.88 -2.88v5.76M73.8 47.88h5.76m-2.88 -2.88v5.76M74.52 47.88h5.76m-2.88 -2.88v5.76M75.24 47.88h5.76m-2.88 -2.88v5.76M75.96 47.88h5.76m-2.88 -2.88v5.76M76.68 47.88h5.76m-2.88 -2.88v5.76M77.4 47.88h5.76m-2.88 -2.88v5.76M77.4 47.88h5.76m-2.88 -2.88v5.76M78.12 47.88h5.76m-2.88 -2.88v5.76M78.84 47.88h5.76m-2.88 -2.88v5.76M79.56 47.88h5.76m-2.88 -2.88v5.76M80.28 47.88h5.76m-2.88 -2.88v5.76M81 47.88h5.76m-2.88 -2.88v5.76M81.72 47.88h5.76m-2.88 -2.88v5.76M82.44 47.88h5.76m-2.88 -2.88v5.76M82.44 47.88h5.76m-2.88 -2.88v5.76M83.16 47.88h5.76m-2.88 -2.88v5.76M83.88 47.88h5.76m-2.88 -2.88v5.76M84.6 47.88h5.76m-2.88 -2.88v5.76M85.32 47.88h5.76m-2.88 -2.88v5.76M86.04 47.88h5.76m-2.88 -2.88v5.76M86.76 47.88h5.76m-2.88 -2.88v5.76M87.48 47.88h5.76m-2.88 -2.88v5.76M88.2 47.88h5.76m-2.88 -2.88v5.76M88.2 47.88h5.76m-2.88 -2.88v5.76M88.92 47.88h5.76m-2.88 -2.88v5.76M89.64 47.88h5.76m-2.88 -2.88v5.76M90.36 47.88h5.76m-2.88 -2.88v5.76M91.08 47.88h5.76m-2.88 -2.88v5.76M91.8 47.88h5.76m-2.88 -2.88v5.76M92.52 47.88h5.76m-2.88 -2.88v5.76M93.24 47.88h5.76m-2.88 -2.88v5.76M93.24 47.88h5.76m-2.88 -2.88v5.76M93.96 47.88h5.76m-2.88 -2.88v5.76M94.68 47.88h5.76m-2.88 -2.88v5.76M95.4 47.88h5.76m-2.88 -2.88v5.76M96.12 47.88h5.76m-2.88 -2.88v5.76M96.84 47.88h5.76m-2.88 -2.88v5.76M97.56 47.88h5.76m-2.88 -2.88v5.76M98.28 47.88h5.76m-2.88 -2.88v5.76M99 47.88h5.76m-2.88 -2.88v5.76M99 47.88h5.76m-2.88 -2.88v5.76M99.72 47.88h5.76m-2.88 -2.88v5.76M100.44 47.88h5.76m-2.88 -2.88v5.76M101.16 47.88h5.76m-2.88 -2.88v5.76M101.88 47.88h5.76m-2.88 -2.88v5.76M102.6 47.88h5.76m-2.88 -2.88v5.76M103.32 47.88h5.76m-2.88 -2.88v5.76M104.04 47.88h5.76m-2.88 -2.88v5.76M104.04 47.88h5.76m-2.88 -2.88v5.76M104.76 47.88h5.76m-2.88 -2.88v5.76M105.48 47.88h5.76m-2.88 -2.88v5.76M106.2 47.88h5.76m-2.88 -2.88v5.76M106.92 47.88h5.76m-2.88 -2.88v5.76M107.64 47.88h5.76m-2.88 -2.88v5.76M108.36 47.88h5.76m-2.88 -2.88v5.76M109.08 47.88h5.76m-2.88 -2.88v5.76M109.8 47.88h5.76m-2.88 -2.88v5.76M109.8 47.88h5.76m-2.88 -2.88v5.76M110.52 47.88h5.76m-2.88 -2.88v5.76M111.24 47.88h5.76m-2.88 -2.88v5.76M111.96 47.88h5.76m-2.88 -2.88v5.76M112.68 47.88h5.76m-2.88 -2.88v5.76M113.4 47.88h5.76m-2.88 -2.88v5.76M114.12 47.88h5.76m-2.88 -2.88v5.76M114.84 47.88h5.76m-2.88 -2.88v5.76M114.84 47.88h5.76m-2.88 -2.88v5.76M115.56 47.88h5.76m-2.88 -2.88v5.76M116.28 47.88h5.76m-2.88 -2.88v5.76M117 47.88h5.76m-2.88 -2.88v5.76M117.72 47.88h5.76m-2.88 -2.88v5.76M118.44 47.88h5.76m-2.88 -2.88v5.76M119.16 47.88h5.76m-2.88 -2.88v5.76M119.88 47.88h5.76m-2.88 -2.88v5.76M120.6 47.88h5.76m-2.88 -2.88v5.76M120.6 47.88h5.76m-2.88 -2.88v5.76M121.32 47.88h5.76m-2.88 -2.88v5.76M122.04 47.88h5.76m-2.88 -2.88v5.76M122.76 47.88h5.76m-2.88 -2.88v5.76M123.48 47.88h5.76m-2.88 -2.88v5.76M124.2 47.88h5.76m-2.88 -2.88v5.76M124.92 47.88h5.76m-2.88 -2.88v5.76M125.64 47.88h5.76m-2.88 -2.88v5.76M125.64 47.88h5.76m-2.88 -2.88v5.76M126.36 47.88h5.76m-2.88 -2.88v5.76M127.08 47.88h5.76m-2.88 -2.88v5.76M127.8 47.88h5.76m-2.88 -2.88v5.76M128.52 47.88h5.76m-2.88 -2.88v5.76M129.24 47.88h5.76m-2.88 -2.88v5.76M129.96 47.88h5.76m-2.88 -2.88v5.76M130.68 47.88h5.76m-2.88 -2.88v5.76M131.4 47.88h5.76m-2.88 -2.88v5.76M131.4 47.88h5.76m-2.88 -2.88v5.76M132.12 47.88h5.76m-2.88 -2.88v5.76M132.84 47.88h5.76m-2.88 -2.88v5.76M133.56 47.88h5.76m-2.88 -2.88v5.76M134.28 47.88h5.76m-2.88 -2.88v5.76M135 47.88h5.76m-2.88 -2.88v5.76M135.72 47.88h5.76m-2.88 -2.88v5.76M136.44 47.88h5.76m-2.88 -2.88v5.76M136.44 47.88h5.76m-2.88 -2.88v5.76M137.16 47.88h5.76m-2.88 -2.88v5.76M137.88 47.88h5.76m-2.88 -2.88v5.76M138.6 47.88h5.76m-2.88 -2.88v5.76M139.32 47.88h5.76m-2.88 -2.88v5.76M140.04 47.88h5.76m-2.88 -2.88v5.76M140.76 47.88h5.76m-2.88 -2.88v5.76M141.48 47.88h5.76m-2.88 -2.88v5.76M142.2 47.88h5.76m-2.88 -2.88v5.76M142.2 47.88h5.76m-2.88 -2.88v5.76M142.92 47.88h5.76m-2.88 -2.88v5.76M143.64 47.88h5.76m-2.88 -2.88v5.76M144.36 47.88h5.76m-2.88 -2.88v5.76M145.08 47.88h5.76m-2.88 -2.88v5.76M145.8 47.88h5.76m-2.88 -2.88v5.76M146.52 47.88h5.76m-2.88 -2.88v5.76M147.24 47.88h5.76m-2.88 -2.88v5.76M147.24 47.88h5.76m-2.88 -2.88v5.76M147.96 47.88h5.76m-2.88 -2.88v5.76M148.68 47.88h5.76m-2.88 -2.88v5.76M149.4 47.88h5.76m-2.88 -2.88v5.76M150.12 47.88h5.76m-2.88 -2.88v5.76M150.84 47.88h5.76m-2.88 -2.88v5.76M151.56 47.88h5.76m-2.88 -2.88v5.76M152.28 47.88h5.76m-2.88 -2.88v5.76M153 47.88h5.76m-2.88 -2.88v5.76M153 47.88h5.76m-2.88 -2.88v5.76M153.72 47.88h5.76m-2.88 -2.88v5.76M154.44 47.88h5.76m-2.88 -2.88v5.76M155.16 47.88h5.76m-2.88 -2.88v5.76M155.88 47.88h5.76m-2.88 -2.88v5.76M156.6 47.88h5.76m-2.88 -2.88v5.76M157.32 47.88h5.76m-2.88 -2.88v5.76M158.04 47.88h5.76m-2.88 -2.88v5.76M158.04 47.88h5.76m-2.88 -2.88v5.76M158.76 47.88h5.76m-2.88 -2.88v5.76M159.48 47.88h5.76m-2.88 -2.88v5.76M160.2 47.88h5.76m-2.88 -2.88v5.76M160.92 47.88h5.76m-2.88 -2.88v5.76M161.64 47.88h5.76m-2.88 -2.88v5.76M162.36 47.88h5.76m-2.88 -2.88v5.76M163.08 47.88h5.76m-2.88 -2.88v5.76M163.8 47.88h5.76m-2.88 -2.88v5.76M163.8 47.88h5.76m-2.88 -2.88v5.76M164.52 47.88h5.76m-2.88 -2.88v5.76M165.24 47.88h5.76m-2.88 -2.88v5.76M165.96 47.88h5.76m-2.88 -2.88v5.76M166.68 47.88h5.76m-2.88 -2.88v5.76M167.4 47.88h5.76m-2.88 -2.88v5.76M168.12 47.88h5.76m-2.88 -2.88v5.76M168.84 47.88h5.76m-2.88 -2.88v5.76M168.84 47.88h5.76m-2.88 -2.88v5.76M169.56 47.88h5.76m-2.88 -2.88v5.76M170.28 47.88h5.76m-2.88 -2.88v5.76M171 47.88h5.76m-2.88 -2.88v5.76M171.72 47.88h5.76m-2.88 -2.88v5.76M172.44 47.88h5.76m-2.88 -2.88v5.76M173.16 47.88h5.76m-2.88 -2.88v5.76M173.88 47.88h5.76m-2.88 -2.88v5.76M174.6 47.88h5.76m-2.88 -2.88v5.76M174.6 47.88h5.76m-2.88 -2.88v5.76M175.32 47.88h5.76m-2.88 -2.88v5.76M176.04 47.88h5.76m-2.88 -2.88v5.76M176.76 47.88h5.76m-2.88 -2.88v5.76M177.48 47.88h5.76m-2.88 -2.88v5.76M178.2 47.88h5.76m-2.88 -2.88v5.76M178.92 47.88h5.76m-2.88 -2.88v5.76M179.64 47.88h5.76m-2.88 -2.88v5.76M179.64 47.88h5.76m-2.88 -2.88v5.76M180.36 47.88h5.76m-2.88 -2.88v5.76M181.08 47.88h5.76m-2.88 -2.88v5.76M181.8 47.88h5.76m-2.88 -2.88v5.76M182.52 47.88h5.76m-2.88 -2.88v5.76M183.24 47.88h5.76m-2.88 -2.88v5.76M183.96 47.88h5.76m-2.88 -2.88v5.76M184.68 47.88h5.76m-2.88 -2.88v5.76M185.4 47.88h5.76m-2.88 -2.88v5.76M185.4 47.88h5.76m-2.88 -2.88v5.76M186.12 47.88h5.76m-2.88 -2.88v5.76M186.84 47.88h5.76m-2.88 -2.88v5.76M187.56 47.88h5.76m-2.88 -2.88v5.76M188.28 47.88h5.76m-2.88 -2.88v5.76M189 47.88h5.76m-2.88 -2.88v5.76M189.72 47.88h5.76m-2.88 -2.88v5.76M190.44 47.88h5.76m-2.88 -2.88v5.76M190.44 47.88h5.76m-2.88 -2.88v5.76M191.16 47.88h5.76m-2.88 -2.88v5.76M191.88 47.88h5.76m-2.88 -2.88v5.76M192.6 47.88h5.76m-2.88 -2.88v5.76M193.32 47.88h5.76m-2.88 -2.88v5.76M194.04 47.88h5.76m-2.88 -2.88v5.76M194.76 47.88h5.76m-2.88 -2.88v5.76M195.48 47.88h5.76m-2.88 -2.88v5.76M196.2 47.88h5.76m-2.88 -2.88v5.76M196.2 47.88h5.76m-2.88 -2.88v5.76M196.92 47.88h5.76m-2.88 -2.88v5.76M197.64 47.88h5.76m-2.88 -2.88v5.76M198.36 47.88h5.76m-2.88 -2.88v5.76M199.08 47.88h5.76m-2.88 -2.88v5.76M199.8 47.88h5.76m-2.88 -2.88v5.76M200.52 47.88h5.76m-2.88 -2.88v5.76M201.24 47.88h5.76m-2.88 -2.88v5.76M201.24 47.88h5.76m-2.88 -2.88v5.76M201.96 47.88h5.76m-2.88 -2.88v5.76M202.68 47.88h5.76m-2.88 -2.88v5.76M203.4 47.88h5.76m-2.88 -2.88v5.76M204.12 47.88h5.76m-2.88 -2.88v5.76M204.84 47.88h5.76m-2.88 -2.88v5.76M205.56 47.88h5.76m-2.88 -2.88v5.76M206.28 47.88h5.76m-2.88 -2.88v5.76M207 47.88h5.76m-2.88 -2.88v5.76M207 47.88h5.76m-2.88 -2.88v5.76M207.72 47.88h5.76m-2.88 -2.88v5.76M208.44 47.88h5.76m-2.88 -2.88v5.76M209.16 47.88h5.76m-2.88 -2.88v5.76M209.88 47.88h5.76m-2.88 -2.88v5.76M210.6 47.88h5.76m-2.88 -2.88v5.76M211.32 47.88h5.76m-2.88 -2.88v5.76M212.04 47.88h5.76m-2.88 -2.88v5.76M212.04 47.88h5.76m-2.88 -2.88v5.76M212.76 47.88h5.76m-2.88 -2.88v5.76M213.48 47.88h5.76m-2.88 -2.88v5.76M214.2 47.88h5.76m-2.88 -2.88v5.76M214.92 47.88h5.76m-2.88 -2.88v5.76M215.64 47.88h5.76m-2.88 -2.88v5.76M216.36 47.88h5.76m-2.88 -2.88v5.76M217.08 47.88h5.76m-2.88 -2.88v5.76M217.8 47.88h5.76m-2.88 -2.88v5.76M217.8 47.88h5.76m-2.88 -2.88v5.76M218.52 47.88h5.76m-2.88 -2.88v5.76M219.24 47.88h5.76m-2.88 -2.88v5.76M219.96 47.88h5.76m-2.88 -2.88v5.76M220.68 47.16h5.76m-2.88 -2.88v5.76M221.4 47.16h5.76m-2.88 -2.88v5.76M222.12 47.16h5.76m-2.88 -2.88v5.76M222.84 47.16h5.76m-2.88 -2.88v5.76M222.84 47.16h5.76m-2.88 -2.88v5.76M223.56 47.16h5.76m-2.88 -2.88v5.76M224.28 47.16h5.76m-2.88 -2.88v5.76M225 47.16h5.76m-2.88 -2.88v5.76M225.72 47.16h5.76m-2.88 -2.88v5.76M226.44 47.16h5.76m-2.88 -2.88v5.76M227.16 47.88h5.76m-2.88 -2.88v5.76M227.88 47.88h5.76m-2.88 -2.88v5.76M228.6 49.32h5.76m-2.88 -2.88v5.76M228.6 50.04h5.76m-2.88 -2.88v5.76M229.32 52.2h5.76m-2.88 -2.88v5.76M230.04 54.36h5.76m-2.88 -2.88v5.76M230.76 57.24h5.76m-2.88 -2.88v5.76M231.48 60.84h5.76m-2.88 -2.88v5.76M232.2 64.44h5.76m-2.88 -2.88v5.76M232.92 68.76h5.76m-2.88 -2.88v5.76M233.64 73.08h5.76m-2.88 -2.88v5.76M233.64 78.12h5.76m-2.88 -2.88v5.76M234.36 83.88h5.76m-2.88 -2.88v5.76M235.08 88.92h5.76m-2.88 -2.88v5.76M235.8 93.96h5.76m-2.88 -2.88v5.76M236.52 99h5.76m-2.88 -2.88v5.76M237.24 104.76h5.76m-2.88 -2.88v5.76M237.96 109.8h5.76m-2.88 -2.88v5.76M238.68 114.84h5.76m-2.88 -2.88v5.76M238.68 119.88h5.76m-2.88 -2.88v5.76M239.4 124.2h5.76m-2.88 -2.88v5.76M240.12 128.52h5.76m-2.88 -2.88v5.76M240.84 132.12h5.76m-2.88 -2.88v5.76M241.56 135.72h5.76m-2.88 -2.88v5.76M242.28 139.32h5.76m-2.88 -2.88v5.76M243 141.48h5.76m-2.88 -2.88v5.76M243.72 144.36h5.76m-2.88 -2.88v5.76M244.44 146.52h5.76m-2.88 -2.88v5.76M244.44 147.96h5.76m-2.88 -2.88v5.76M245.16 148.68h5.76m-2.88 -2.88v5.76M245.88 149.4h5.76m-2.88 -2.88v5.76M246.6 150.12h5.76m-2.88 -2.88v5.76M247.32 150.12h5.76m-2.88 -2.88v5.76M248.04 150.12h5.76m-2.88 -2.88v5.76M248.76 149.4h5.76m-2.88 -2.88v5.76M249.48 147.96h5.76m-2.88 -2.88v5.76M249.48 146.52h5.76m-2.88 -2.88v5.76M250.2 144.36h5.76m-2.88 -2.88v5.76M250.92 142.2h5.76m-2.88 -2.88v5.76M251.64 139.32h5.76m-2.88 -2.88v5.76M252.36 136.44h5.76m-2.88 -2.88v5.76M253.08 132.84h5.76m-2.88 -2.88v5.76M253.8 129.24h5.76m-2.88 -2.88v5.76M254.52 124.92h5.76m-2.88 -2.88v5.76M255.24 120.6h5.76m-2.88 -2.88v5.76M255.24 115.56h5.76m-2.88 -2.88v5.76M255.96 110.52h5.76m-2.88 -2.88v5.76M256.68 105.48h5.76m-2.88 -2.88v5.76M257.4 99.72h5.76m-2.88 -2.88v5.76M258.12 94.68h5.76m-2.88 -2.88v5.76M258.84 89.64h5.76m-2.88 -2.88v5.76M259.56 84.6h5.76m-2.88 -2.88v5.76M260.28 79.56h5.76m-2.88 -2.88v5.76M260.28 73.8h5.76m-2.88 -2.88v5.76M261 69.48h5.76m-2.88 -2.88v5.76M261.72 65.16h5.76m-2.88 -2.88v5.76M262.44 60.84h5.76m-2.88 -2.88v5.76M263.16 57.96h5.76m-2.88 -2.88v5.76M263.88 55.08h5.76m-2.88 -2.88v5.76M264.6 52.2h5.76m-2.88 -2.88v5.76M265.32 50.76h5.76m-2.88 -2.88v5.76M266.04 49.32h5.76m-2.88 -2.88v5.76M266.04 48.6h5.76m-2.88 -2.88v5.76M266.76 47.88h5.76m-2.88 -2.88v5.76M267.48 47.16h5.76m-2.88 -2.88v5.76M268.2 47.16h5.76m-2.88 -2.88v5.76M268.92 47.16h5.76m-2.88 -2.88v5.76M269.64 47.16h5.76m-2.88 -2.88v5.76M270.36 47.16h5.76m-2.88 -2.88v5.76M271.08 47.16h5.76m-2.88 -2.88v5.76M271.08 47.16h5.76m-2.88 -2.88v5.76M271.8 47.16h5.76m-2.88 -2.88v5.76M272.52 47.16h5.76m-2.88 -2.88v5.76M273.24 47.16h5.76m-2.88 -2.88v5.76M273.96 47.88h5.76m-2.88 -2.88v5.76M274.68 47.88h5.76m-2.88 -2.88v5.76M275.4 47.88h5.76m-2.88 -2.88v5.76M276.12 47.88h5.76m-2.88 -2.88v5.76M276.84 47.88h5.76m-2.88 -2.88v5.76M276.84 47.88h5.76m-2.88 -2.88v5.76M277.56 47.88h5.76m-2.88 -2.88v5.76M278.28 47.88h5.76m-2.88 -2.88v5.76M279 47.88h5.76m-2.88 -2.88v5.76M279.72 47.88h5.76m-2.88 -2.88v5.76M280.44 47.88h5.76m-2.88 -2.88v5.76M281.16 47.88h5.76m-2.88 -2.88v5.76M281.88 47.88h5.76m-2.88 -2.88v5.76M281.88 47.88h5.76m-2.88 -2.88v5.76M282.6 47.88h5.76m-2.88 -2.88v5.76M283.32 47.88h5.76m-2.88 -2.88v5.76M284.04 47.88h5.76m-2.88 -2.88v5.76M284.76 47.88h5.76m-2.88 -2.88v5.76M285.48 47.88h5.76m-2.88 -2.88v5.76M286.2 47.88h5.76m-2.88 -2.88v5.76M286.92 47.88h5.76m-2.88 -2.88v5.76M287.64 47.88h5.76m-2.88 -2.88v5.76M287.64 47.88h5.76m-2.88 -2.88v5.76M288.36 47.88h5.76m-2.88 -2.88v5.76M289.08 47.88h5.76m-2.88 -2.88v5.76M289.8 47.88h5.76m-2.88 -2.88v5.76M290.52 47.88h5.76m-2.88 -2.88v5.76M291.24 47.88h5.76m-2.88 -2.88v5.76M291.96 47.88h5.76m-2.88 -2.88v5.76M292.68 47.88h5.76m-2.88 -2.88v5.76M292.68 47.88h5.76m-2.88 -2.88v5.76M293.4 47.88h5.76m-2.88 -2.88v5.76M294.12 47.88h5.76m-2.88 -2.88v5.76M294.84 47.88h5.76m-2.88 -2.88v5.76M295.56 47.88h5.76m-2.88 -2.88v5.76M296.28 47.88h5.76m-2.88 -2.88v5.76M297 47.88h5.76m-2.88 -2.88v5.76M297.72 47.88h5.76m-2.88 -2.88v5.76M298.44 47.88h5.76m-2.88 -2.88v5.76M298.44 47.88h5.76m-2.88 -2.88v5.76M299.16 47.88h5.76m-2.88 -2.88v5.76M299.88 47.88h5.76m-2.88 -2.88v5.76M300.6 47.88h5.76m-2.88 -2.88v5.76M301.32 47.88h5.76m-2.88 -2.88v5.76M302.04 47.88h5.76m-2.88 -2.88v5.76M302.76 47.88h5.76m-2.88 -2.88v5.76M303.48 47.88h5.76m-2.88 -2.88v5.76M303.48 47.88h5.76m-2.88 -2.88v5.76M304.2 47.88h5.76m-2.88 -2.88v5.76M304.92 47.88h5.76m-2.88 -2.88v5.76M305.64 47.88h5.76m-2.88 -2.88v5.76M306.36 47.88h5.76m-2.88 -2.88v5.76M307.08 47.88h5.76m-2.88 -2.88v5.76M307.8 47.88h5.76m-2.88 -2.88v5.76M308.52 47.88h5.76m-2.88 -2.88v5.76M309.24 47.88h5.76m-2.88 -2.88v5.76M309.24 47.88h5.76m-2.88 -2.88v5.76M309.96 47.88h5.76m-2.88 -2.88v5.76M310.68 47.88h5.76m-2.88 -2.88v5.76M311.4 47.88h5.76m-2.88 -2.88v5.76M312.12 47.88h5.76m-2.88 -2.88v5.76M312.84 47.88h5.76m-2.88 -2.88v5.76M313.56 47.88h5.76m-2.88 -2.88v5.76M314.28 47.88h5.76m-2.88 -2.88v5.76M314.28 47.88h5.76m-2.88 -2.88v5.76M315 47.88h5.76m-2.88 -2.88v5.76M315.72 47.88h5.76m-2.88 -2.88v5.76M316.44 47.88h5.76m-2.88 -2.88v5.76M317.16 47.88h5.76m-2.88 -2.88v5.76M317.88 47.88h5.76m-2.88 -2.88v5.76M318.6 47.88h5.76m-2.88 -2.88v5.76M319.32 47.88h5.76m-2.88 -2.88v5.76M320.04 47.88h5.76m-2.88 -2.88v5.76M320.04 47.88h5.76m-2.88 -2.88v5.76M320.76 47.88h5.76m-2.88 -2.88v5.76M321.48 47.88h5.76m-2.88 -2.88v5.76M322.2 47.88h5.76m-2.88 -2.88v5.76M322.92 47.88h5.76m-2.88 -2.88v5.76M323.64 47.88h5.76m-2.88 -2.88v5.76M324.36 47.88h5.76m-2.88 -2.88v5.76M325.08 47.88h5.76m-2.88 -2.88v5.76M325.08 47.88h5.76m-2.88 -2.88v5.76M325.8 47.88h5.76m-2.88 -2.88v5.76M326.52 47.88h5.76m-2.88 -2.88v5.76M327.24 47.88h5.76m-2.88 -2.88v5.76M327.96 47.88h5.76m-2.88 -2.88v5.76M328.68 47.88h5.76m-2.88 -2.88v5.76M329.4 47.88h5.76m-2.88 -2.88v5.76M330.12 47.88h5.76m-2.88 -2.88v5.76M330.84 47.88h5.76m-2.88 -2.88v5.76M330.84 47.88h5.76m-2.88 -2.88v5.76M331.56 47.88h5.76m-2.88 -2.88v5.76M332.28 47.88h5.76m-2.88 -2.88v5.76M333 47.88h5.76m-2.88 -2.88v5.76M333.72 47.88h5.76m-2.88 -2.88v5.76M334.44 47.88h5.76m-2.88 -2.88v5.76M335.16 47.88h5.76m-2.88 -2.88v5.76M335.88 47.88h5.76m-2.88 -2.88v5.76M335.88 47.88h5.76m-2.88 -2.88v5.76M336.6 47.88h5.76m-2.88 -2.88v5.76M337.32 47.88h5.76m-2.88 -2.88v5.76M338.04 47.88h5.76m-2.88 -2.88v5.76M338.76 47.88h5.76m-2.88 -2.88v5.76M339.48 47.88h5.76m-2.88 -2.88v5.76M340.2 47.88h5.76m-2.88 -2.88v5.76M340.92 47.88h5.76m-2.88 -2.88v5.76M341.64 47.88h5.76m-2.88 -2.88v5.76M341.64 47.88h5.76m-2.88 -2.88v5.76M342.36 47.88h5.76m-2.88 -2.88v5.76M343.08 47.88h5.76m-2.88 -2.88v5.76M343.8 47.88h5.76m-2.88 -2.88v5.76M344.52 47.88h5.76m-2.88 -2.88v5.76M345.24 47.88h5.76m-2.88 -2.88v5.76M345.96 47.88h5.76m-2.88 -2.88v5.76M346.68 47.88h5.76m-2.88 -2.88v5.76M346.68 47.88h5.76m-2.88 -2.88v5.76M347.4 47.88h5.76m-2.88 -2.88v5.76M348.12 47.88h5.76m-2.88 -2.88v5.76M348.84 47.88h5.76m-2.88 -2.88v5.76M349.56 47.88h5.76m-2.88 -2.88v5.76M350.28 47.88h5.76m-2.88 -2.88v5.76M351 47.88h5.76m-2.88 -2.88v5.76M351.72 47.88h5.76m-2.88 -2.88v5.76M352.44 47.88h5.76m-2.88 -2.88v5.76M352.44 47.88h5.76m-2.88 -2.88v5.76M353.16 47.88h5.76m-2.88 -2.88v5.76M353.88 47.88h5.76m-2.88 -2.88v5.76M354.6 47.88h5.76m-2.88 -2.88v5.76M355.32 47.88h5.76m-2.88 -2.88v5.76M356.04 47.88h5.76m-2.88 -2.88v5.76M356.76 47.88h5.76m-2.88 -2.88v5.76M357.48 47.88h5.76m-2.88 -2.88v5.76M357.48 47.88h5.76m-2.88 -2.88v5.76M358.2 47.88h5.76m-2.88 -2.88v5.76M358.92 47.88h5.76m-2.88 -2.88v5.76M359.64 47.88h5.76m-2.88 -2.88v5.76M360.36 47.88h5.76m-2.88 -2.88v5.76M361.08 47.88h5.76m-2.88 -2.88v5.76M361.8 47.88h5.76m-2.88 -2.88v5.76M362.52 47.88h5.76m-2.88 -2.88v5.76M363.24 47.88h5.76m-2.88 -2.88v5.76M363.24 47.88h5.76m-2.88 -2.88v5.76M363.96 47.88h5.76m-2.88 -2.88v5.76M364.68 47.88h5.76m-2.88 -2.88v5.76M365.4 47.88h5.76m-2.88 -2.88v5.76M366.12 47.88h5.76m-2.88 -2.88v5.76M366.84 47.88h5.76m-2.88 -2.88v5.76M367.56 47.88h5.76m-2.88 -2.88v5.76M368.28 47.88h5.76m-2.88 -2.88v5.76M368.28 47.88h5.76m-2.88 -2.88v5.76M369 47.88h5.76m-2.88 -2.88v5.76M369.72 47.88h5.76m-2.88 -2.88v5.76M370.44 47.88h5.76m-2.88 -2.88v5.76M371.16 47.88h5.76m-2.88 -2.88v5.76M371.88 47.88h5.76m-2.88 -2.88v5.76M372.6 47.88h5.76m-2.88 -2.88v5.76M373.32 47.88h5.76m-2.88 -2.88v5.76M374.04 47.88h5.76m-2.88 -2.88v5.76M374.04 47.88h5.76m-2.88 -2.88v5.76M374.76 47.88h5.76m-2.88 -2.88v5.76M375.48 47.88h5.76m-2.88 -2.88v5.76M376.2 47.88h5.76m-2.88 -2.88v5.76M376.92 47.88h5.76m-2.88 -2.88v5.76M377.64 47.88h5.76m-2.88 -2.88v5.76M378.36 47.88h5.76m-2.88 -2.88v5.76M379.08 47.88h5.76m-2.88 -2.88v5.76M379.08 47.88h5.76m-2.88 -2.88v5.76M379.8 47.88h5.76m-2.88 -2.88v5.76M380.52 47.88h5.76m-2.88 -2.88v5.76M381.24 47.88h5.76m-2.88 -2.88v5.76M381.96 47.88h5.76m-2.88 -2.88v5.76M382.68 47.88h5.76m-2.88 -2.88v5.76M383.4 47.88h5.76m-2.88 -2.88v5.76M384.12 47.88h5.76m-2.88 -2.88v5.76M384.84 47.88h5.76m-2.88 -2.88v5.76M384.84 47.88h5.76m-2.88 -2.88v5.76M385.56 47.88h5.76m-2.88 -2.88v5.76M386.28 47.88h5.76m-2.88 -2.88v5.76M387 47.88h5.76m-2.88 -2.88v5.76M387.72 47.88h5.76m-2.88 -2.88v5.76M388.44 47.88h5.76m-2.88 -2.88v5.76M389.16 47.88h5.76m-2.88 -2.88v5.76M389.88 47.88h5.76m-2.88 -2.88v5.76M389.88 47.88h5.76m-2.88 -2.88v5.76M390.6 47.88h5.76m-2.88 -2.88v5.76M391.32 47.88h5.76m-2.88 -2.88v5.76M392.04 47.88h5.76m-2.88 -2.88v5.76M392.76 47.88h5.76m-2.88 -2.88v5.76M393.48 47.88h5.76m-2.88 -2.88v5.76M394.2 47.88h5.76m-2.88 -2.88v5.76M394.92 47.88h5.76m-2.88 -2.88v5.76M395.64 47.88h5.76m-2.88 -2.88v5.76M395.64 47.88h5.76m-2.88 -2.88v5.76" style="fill: none; stroke: #000000; stroke-width: 1"/></g><g id="patch_3"><path d="M57.96 163.08L57.96 42.12" style="fill: none; stroke: #000000; stroke-width: 0.8; stroke-linejoin: miter; stroke-linecap: square"/></g><g id="patch_4"><path d="M415.08 163.08L415.08 42.12" style="fill: none; stroke: #000000; stroke-width: 0.8; stroke-linejoin: miter; stroke-linecap: square"/></g><g id="patch_5"><path d="M57.96 163.08L415.08 163.08" style="fill: none; stroke: #000000; stroke-width: 0.8; stroke-linejoin: miter; stroke-linecap: square"/></g><g id="patch_6"><path d="M57.96 42.12L415.08 42.12" style="fill: none; stroke: #000000; stroke-width: 0.8; stroke-linejoin: miter; stroke-linecap: square"/></g><g id="legend_1"><path d="M65 158.04H187Q189 158.04 189 156.04V111.8Q189 109.8 187 109.8H65Q63 109.8 63 111.8V156.04Q63 158.04 65 158.04z" style="fill: #ffffff; opacity: 0.8; stroke: #cccccc; stroke-linejoin: miter"/><path d="M66.96 117.36H86.4" style="fill: none; stroke-dasharray: 1.5,2.475; stroke-dashoffset: 0; stroke: #000000; stroke-width: 1.5"/><path d="M73.8 129.96l5.76 5.76m-5.76 0l5.76 -5.76" style="fill: none; stroke: #000000; stroke-width: 1"/><path d="M73.8 147.96h5.76m-2.88 -2.88v5.76" style="fill: none; stroke: #000000; stroke-width: 1"/><text style="font-size: 10px; font-family: 'DejaVu Sans', sans-serif; text-anchor: start" x="94.6" y="121.112">Initial conditions</text><text style="font-size: 10px; font-family: 'DejaVu Sans', sans-serif; text-anchor: start" x="94.6" y="136.192">Still solution</text><text style="font-size: 10px; font-family: 'DejaVu Sans', sans-serif; text-anchor: start" x="94.6" y="151.272">Advected solution</text></g></g><g id="axes_2"><g id="patch_8"><path d="M 57.6 307.584  L 414.72 307.584  L 414.72 186.624  L 57.6 186.624  z " style="fill: #ffffff"/></g><g id="matplotlib.axis_3"><g id="xtick_8"><g id="line2d_29"><path d="M67.32 307.8L67.32 186.84" clip-path="url(#pf1b9fc8d7d)" style="fill: none; stroke: #b0b0b0; stroke-width: 0.8; stroke-linecap: square"/></g><g id="line2d_30"><g><use href="#mcf58b00b4e" x="67.32" y="307.8" style="stroke: #000000; stroke-width: 0.8"/></g></g><g id="text_9"><text style="font-size: 10px; font-family: 'DejaVu Sans', sans-serif; text-anchor: middle" x="66.962" y="322.902">−600</text></g></g><g id="xtick_9"><g id="line2d_31"><path d="M123.48 307.8L123.48 186.84" clip-path="url(#pf1b9fc8d7d)" style="fill: none; stroke: #b0b0b0; stroke-width: 0.8; stroke-linecap: square"/></g><g id="line2d_32"><g><use href="#mcf58b00b4e" x="123.48" y="307.8" style="stroke: #000000; stroke-width: 0.8"/></g></g><g id="text_10"><text style="font-size: 10px; font-family: 'DejaVu Sans', sans-serif; text-anchor: middle" x="123.362" y="322.902">−400</text></g></g><g id="xtick_10"><g id="line2d_33"><path d="M180.36 307.8L180.36 186.84" clip-path="url(#pf1b9fc8d7d)" style="fill: none; stroke: #b0b0b0; stroke-width: 0.8; stroke-linecap: square"/></g><g id="line2d_34"><g><use href="#mcf58b00b4e" x="180.36" y="307.8" style="stroke: #000000; stroke-width: 0.8"/></g></g><g id="text_11"><text style="font-size: 10px; font-family: 'DejaVu Sans', sans-serif; text-anchor: middle" x="179.761" y="322.902">−200</text></g></g><g id="xtick_11"><g id="line2d_35"><path d="M236.52 307.8L236.52 186.84" clip-path="url(#pf1b9fc8d7d)" style="fill: none; stroke: #b0b0b0; stroke-width: 0.8; stroke-linecap: square"/></g><g id="line2d_36"><g><use href="#mcf58b00b4e" x="236.52" y="307.8" style="stroke: #000000; stroke-width: 0.8"/></g></g><g id="text_12"><text style="font-size: 10px; font-family: 'DejaVu Sans', sans-serif; text-anchor: middle" x="236.16" y="322.902">0</text></g></g><g id="xtick_12"><g id="line2d_37"><path d="M292.68 307.8L292.68 186.84" clip-path="url(#pf1b9fc8d7d)" style="fill: none; stroke: #b0b0b0; stroke-width: 0.8; stroke-linecap: square"/></g><g id="line2d_38"><g><use href="#mcf58b00b4e" x="292.68" y="307.8" style="stroke: #000000; stroke-width: 0.8"/></g></g><g id="text_13"><text style="font-size: 10px; font-family: 'DejaVu Sans', sans-serif; text-anchor: middle" x="292.559" y="322.902">200</text></g></g><g id="xtick_13"><g id="line2d_39"><path d="M349.56 307.8L349.56 186.84" clip-path="url(#pf1b9fc8d7d)" style="fill: none; stroke: #b0b0b0; stroke-width: 0.8; stroke-linecap: square"/></g><g id="line2d_40"><g><use href="#mcf58b00b4e" x="349.56" y="307.8" style="stroke: #000000; stroke-width: 0.8"/></g></g><g id="text_14"><text style="font-size: 10px; font-family: 'DejaVu Sans', sans-serif; text-anchor: middle" x="348.958" y="322.902">400</text></g></g><g id="xtick_14"><g id="line2d_41"><path d="M405.72 307.8L405.72 186.84" clip-path="url(#pf1b9fc8d7d)" style="fill: none; stroke: #b0b0b0; stroke-width: 0.8; stroke-linecap: square"/></g><g id="line2d_42"><g><use href="#mcf58b00b4e" x="405.72" y="307.8" style="stroke: #000000; stroke-width: 0.8"/></g></g><g id="text_15"><text style="font-size: 10px; font-family: 'DejaVu Sans', sans-serif; text-anchor: middle" x="405.358" y="322.902">600</text></g></g><g id="text_16"><g transform="translate(221.66 338.021)"><text><tspan x="0" y="-0.406" style="font-style: oblique; font-size: 10px; font-family: 'DejaVu Sans', sans-serif">x</tspan><tspan x="9.819" y="-0.406" style="font-style: oblique; font-size: 10px; font-family: 'DejaVu Sans', sans-serif">c</tspan><tspan x="15.317" y="-0.406" style="font-style: oblique; font-size: 10px; font-family: 'DejaVu Sans', sans-serif">m</tspan><tspan x="5.917" y="-0.406" style="font-size: 10px; font-family: 'DejaVu Sans', sans-serif">[</tspan><tspan x="25.058" y="-0.406" style="font-size: 10px; font-family: 'DejaVu Sans', sans-serif">]</tspan></text></g></g></g><g id="matplotlib.axis_4"><g id="ytick_5"><g id="line2d_43"><path d="M57.96 295.56L415.08 295.56" clip-path="url(#pf1b9fc8d7d)" style="fill: none; stroke: #b0b0b0; stroke-width: 0.8; stroke-linecap: square"/></g><g id="line2d_44"><g><use href="#m69bea41861" x="57.96" y="295.56" style="stroke: #000000; stroke-width: 0.8"/></g></g><g id="text_17"><text style="font-size: 10px; font-family: 'DejaVu Sans', sans-serif; text-anchor: end" x="51.32" y="298.675">0.425</text></g></g><g id="ytick_6"><g id="line2d_45"><path d="M57.96 274.68L415.08 274.68" clip-path="url(#pf1b9fc8d7d)" style="fill: none; stroke: #b0b0b0; stroke-width: 0.8; stroke-linecap: square"/></g><g id="line2d_46"><g><use href="#m69bea41861" x="57.96" y="274.68" style="stroke: #000000; stroke-width: 0.8"/></g></g><g id="text_18"><text style="font-size: 10px; font-family: 'DejaVu Sans', sans-serif; text-anchor: end" x="51.32" y="278.407">0.450</text></g></g><g id="ytick_7"><g id="line2d_47"><path d="M57.96 254.52L415.08 254.52" clip-path="url(#pf1b9fc8d7d)" style="fill: none; stroke: #b0b0b0; stroke-width: 0.8; stroke-linecap: square"/></g><g id="line2d_48"><g><use href="#m69bea41861" x="57.96" y="254.52" style="stroke: #000000; stroke-width: 0.8"/></g></g><g id="text_19"><text style="font-size: 10px; font-family: 'DejaVu Sans', sans-serif; text-anchor: end" x="51.32" y="258.139">0.475</text></g></g><g id="ytick_8"><g id="line2d_49"><path d="M57.96 234.36L415.08 234.36" clip-path="url(#pf1b9fc8d7d)" style="fill: none; stroke: #b0b0b0; stroke-width: 0.8; stroke-linecap: square"/></g><g id="line2d_50"><g><use href="#m69bea41861" x="57.96" y="234.36" style="stroke: #000000; stroke-width: 0.8"/></g></g><g id="text_20"><text style="font-size: 10px; font-family: 'DejaVu Sans', sans-serif; text-anchor: end" x="51.32" y="237.871">0.500</text></g></g><g id="ytick_9"><g id="line2d_51"><path d="M57.96 214.2L415.08 214.2" clip-path="url(#pf1b9fc8d7d)" style="fill: none; stroke: #b0b0b0; stroke-width: 0.8; stroke-linecap: square"/></g><g id="line2d_52"><g><use href="#m69bea41861" x="57.96" y="214.2" style="stroke: #000000; stroke-width: 0.8"/></g></g><g id="text_21"><text style="font-size: 10px; font-family: 'DejaVu Sans', sans-serif; text-anchor: end" x="51.32" y="217.603">0.525</text></g></g><g id="ytick_10"><g id="line2d_53"><path d="M57.96 194.04L415.08 194.04" clip-path="url(#pf1b9fc8d7d)" style="fill: none; stroke: #b0b0b0; stroke-width: 0.8; stroke-linecap: square"/></g><g id="line2d_54"><g><use href="#m69bea41861" x="57.96" y="194.04" style="stroke: #000000; stroke-width: 0.8"/></g></g><g id="text_22"><text style="font-size: 10px; font-family: 'DejaVu Sans', sans-serif; text-anchor: end" x="51.32" y="197.335">0.550</text></g></g><g id="text_23"><g transform="translate(13.496 275.268) rotate(-90)"><text><tspan x="0" y="-0.976" style="font-style: oblique; font-size: 10px; font-family: 'DejaVu Sans', sans-serif">p</tspan><tspan x="10.249" y="-0.976" style="font-style: oblique; font-size: 10px; font-family: 'DejaVu Sans', sans-serif">e</tspan><tspan x="16.401" y="-0.976" style="font-style: oblique; font-size: 10px; font-family: 'DejaVu Sans', sans-serif">r</tspan><tspan x="20.512" y="-0.976" style="font-style: oblique; font-size: 10px; font-family: 'DejaVu Sans', sans-serif">g</tspan><tspan x="30.229" y="-0.976" style="font-style: oblique; font-size: 10px; font-family: 'DejaVu Sans', sans-serif">c</tspan><tspan x="35.727" y="-0.976" style="font-style: oblique; font-size: 10px; font-family: 'DejaVu Sans', sans-serif">m</tspan><tspan x="6.347" y="-0.976" style="font-size: 10px; font-family: 'DejaVu Sans', sans-serif">[</tspan><tspan x="26.860" y="-0.976" style="font-size: 10px; font-family: 'DejaVu Sans', sans-serif">/</tspan><tspan x="50.659" y="-0.976" style="font-size: 10px; font-family: 'DejaVu Sans', sans-serif">]</tspan><tspan x="45.932" y="-4.804" style="font-size: 7px; font-family: 'DejaVu Sans', sans-serif">3</tspan></text></g></g></g><g id="line2d_55"><path d="M 73.842 200.103  L 213.607 200.207  L 216.148 200.448  L 218.054 200.883  L 219.324 201.403  L 220.595 202.222  L 221.865 203.489  L 222.501 204.357  L 223.136 205.427  L 223.771 206.741  L 224.407 208.352  L 225.042 210.316  L 225.677 212.699  L 226.312 215.571  L 226.948 219.005  L 228.218 227.819  L 229.489 239.484  L 230.760 253.794  L 233.301 284.827  L 233.936 291.304  L 234.571 296.545  L 235.207 300.235  L 235.842 302.142  L 236.477 302.142  L 237.112 300.235  L 237.748 296.545  L 238.383 291.304  L 239.654 277.478  L 242.830 239.484  L 244.101 227.819  L 245.371 219.005  L 246.642 212.699  L 247.912 208.352  L 249.183 205.427  L 250.454 203.489  L 251.724 202.222  L 252.995 201.403  L 254.265 200.883  L 256.171 200.448  L 258.712 200.207  L 263.159 200.112  L 288.571 200.103  L 398.477 200.103  L 398.477 200.103  " clip-path="url(#pf1b9fc8d7d)" style="fill: none; stroke-dasharray: 1.5,2.475; stroke-dashoffset: 0; stroke: #0000ff; stroke-width: 1.5"/></g><g id="line2d_56"><path clip-path="url(#pf1b9fc8d7d)" d="M71.64 197.64l5.76 5.76m-5.76 0l5.76 -5.76M71.64 197.64l5.76 5.76m-5.76 0l5.76 -5.76M72.36 197.64l5.76 5.76m-5.76 0l5.76 -5.76M73.08 197.64l5.76 5.76m-5.76 0l5.76 -5.76M73.8 197.64l5.76 5.76m-5.76 0l5.76 -5.76M74.52 197.64l5.76 5.76m-5.76 0l5.76 -5.76M75.24 197.64l5.76 5.76m-5.76 0l5.76 -5.76M75.96 197.64l5.76 5.76m-5.76 0l5.76 -5.76M76.68 197.64l5.76 5.76m-5.76 0l5.76 -5.76M77.4 197.64l5.76 5.76m-5.76 0l5.76 -5.76M77.4 197.64l5.76 5.76m-5.76 0l5.76 -5.76M78.12 197.64l5.76 5.76m-5.76 0l5.76 -5.76M78.84 197.64l5.76 5.76m-5.76 0l5.76 -5.76M79.56 197.64l5.76 5.76m-5.76 0l5.76 -5.76M80.28 197.64l5.76 5.76m-5.76 0l5.76 -5.76M81 197.64l5.76 5.76m-5.76 0l5.76 -5.76M81.72 197.64l5.76 5.76m-5.76 0l5.76 -5.76M82.44 197.64l5.76 5.76m-5.76 0l5.76 -5.76M82.44 197.64l5.76 5.76m-5.76 0l5.76 -5.76M83.16 197.64l5.76 5.76m-5.76 0l5.76 -5.76M83.88 197.64l5.76 5.76m-5.76 0l5.76 -5.76M84.6 197.64l5.76 5.76m-5.76 0l5.76 -5.76M85.32 197.64l5.76 5.76m-5.76 0l5.76 -5.76M86.04 197.64l5.76 5.76m-5.76 0l5.76 -5.76M86.76 197.64l5.76 5.76m-5.76 0l5.76 -5.76M87.48 197.64l5.76 5.76m-5.76 0l5.76 -5.76M88.2 197.64l5.76 5.76m-5.76 0l5.76 -5.76M88.2 197.64l5.76 5.76m-5.76 0l5.76 -5.76M88.92 197.64l5.76 5.76m-5.76 0l5.76 -5.76M89.64 197.64l5.76 5.76m-5.76 0l5.76 -5.76M90.36 197.64l5.76 5.76m-5.76 0l5.76 -5.76M91.08 197.64l5.76 5.76m-5.76 0l5.76 -5.76M91.8 197.64l5.76 5.76m-5.76 0l5.76 -5.76M92.52 197.64l5.76 5.76m-5.76 0l5.76 -5.76M93.24 197.64l5.76 5.76m-5.76 0l5.76 -5.76M93.24 197.64l5.76 5.76m-5.76 0l5.76 -5.76M93.96 197.64l5.76 5.76m-5.76 0l5.76 -5.76M94.68 197.64l5.76 5.76m-5.76 0l5.76 -5.76M95.4 197.64l5.76 5.76m-5.76 0l5.76 -5.76M96.12 197.64l5.76 5.76m-5.76 0l5.76 -5.76M96.84 197.64l5.76 5.76m-5.76 0l5.76 -5.76M97.56 197.64l5.76 5.76m-5.76 0l5.76 -5.76M98.28 197.64l5.76 5.76m-5.76 0l5.76 -5.76M99 197.64l5.76 5.76m-5.76 0l5.76 -5.76M99 197.64l5.76 5.76m-5.76 0l5.76 -5.76M99.72 197.64l5.76 5.76m-5.76 0l5.76 -5.76M100.44 197.64l5.76 5.76m-5.76 0l5.76 -5.76M101.16 197.64l5.76 5.76m-5.76 0l5.76 -5.76M101.88 197.64l5.76 5.76m-5.76 0l5.76 -5.76M102.6 197.64l5.76 5.76m-5.76 0l5.76 -5.76M103.32 197.64l5.76 5.76m-5.76 0l5.76 -5.76M104.04 197.64l5.76 5.76m-5.76 0l5.76 -5.76M104.04 197.64l5.76 5.76m-5.76 0l5.76 -5.76M104.76 197.64l5.76 5.76m-5.76 0l5.76 -5.76M105.48 197.64l5.76 5.76m-5.76 0l5.76 -5.76M106.2 197.64l5.76 5.76m-5.76 0l5.76 -5.76M106.92 197.64l5.76 5.76m-5.76 0l5.76 -5.76M107.64 197.64l5.76 5.76m-5.76 0l5.76 -5.76M108.36 197.64l5.76 5.76m-5.76 0l5.76 -5.76M109.08 197.64l5.76 5.76m-5.76 0l5.76 -5.76M109.8 197.64l5.76 5.76m-5.76 0l5.76 -5.76M109.8 197.64l5.76 5.76m-5.76 0l5.76 -5.76M110.52 197.64l5.76 5.76m-5.76 0l5.76 -5.76M111.24 197.64l5.76 5.76m-5.76 0l5.76 -5.76M111.96 197.64l5.76 5.76m-5.76 0l5.76 -5.76M112.68 197.64l5.76 5.76m-5.76 0l5.76 -5.76M113.4 197.64l5.76 5.76m-5.76 0l5.76 -5.76M114.12 197.64l5.76 5.76m-5.76 0l5.76 -5.76M114.84 197.64l5.76 5.76m-5.76 0l5.76 -5.76M114.84 197.64l5.76 5.76m-5.76 0l5.76 -5.76M115.56 197.64l5.76 5.76m-5.76 0l5.76 -5.76M116.28 197.64l5.76 5.76m-5.76 0l5.76 -5.76M117 197.64l5.76 5.76m-5.76 0l5.76 -5.76M117.72 197.64l5.76 5.76m-5.76 0l5.76 -5.76M118.44 197.64l5.76 5.76m-5.76 0l5.76 -5.76M119.16 197.64l5.76 5.76m-5.76 0l5.76 -5.76M119.88 197.64l5.76 5.76m-5.76 0l5.76 -5.76M120.6 197.64l5.76 5.76m-5.76 0l5.76 -5.76M120.6 197.64l5.76 5.76m-5.76 0l5.76 -5.76M121.32 197.64l5.76 5.76m-5.76 0l5.76 -5.76M122.04 197.64l5.76 5.76m-5.76 0l5.76 -5.76M122.76 197.64l5.76 5.76m-5.76 0l5.76 -5.76M123.48 197.64l5.76 5.76m-5.76 0l5.76 -5.76M124.2 197.64l5.76 5.76m-5.76 0l5.76 -5.76M124.92 197.64l5.76 5.76m-5.76 0l5.76 -5.76M125.64 197.64l5.76 5.76m-5.76 0l5.76 -5.76M125.64 197.64l5.76 5.76m-5.76 0l5.76 -5.76M126.36 197.64l5.76 5.76m-5.76 0l5.76 -5.76M127.08 197.64l5.76 5.76m-5.76 0l5.76 -5.76M127.8 197.64l5.76 5.76m-5.76 0l5.76 -5.76M128.52 197.64l5.76 5.76m-5.76 0l5.76 -5.76M129.24 197.64l5.76 5.76m-5.76 0l5.76 -5.76M129.96 197.64l5.76 5.76m-5.76 0l5.76 -5.76M130.68 197.64l5.76 5.76m-5.76 0l5.76 -5.76M131.4 197.64l5.76 5.76m-5.76 0l5.76 -5.76M131.4 197.64l5.76 5.76m-5.76 0l5.76 -5.76M132.12 197.64l5.76 5.76m-5.76 0l5.76 -5.76M132.84 197.64l5.76 5.76m-5.76 0l5.76 -5.76M133.56 197.64l5.76 5.76m-5.76 0l5.76 -5.76M134.28 197.64l5.76 5.76m-5.76 0l5.76 -5.76M135 197.64l5.76 5.76m-5.76 0l5.76 -5.76M135.72 197.64l5.76 5.76m-5.76 0l5.76 -5.76M136.44 197.64l5.76 5.76m-5.76 0l5.76 -5.76M136.44 197.64l5.76 5.76m-5.76 0l5.76 -5.76M137.16 197.64l5.76 5.76m-5.76 0l5.76 -5.76M137.88 197.64l5.76 5.76m-5.76 0l5.76 -5.76M138.6 197.64l5.76 5.76m-5.76 0l5.76 -5.76M139.32 197.64l5.76 5.76m-5.76 0l5.76 -5.76M140.04 197.64l5.76 5.76m-5.76 0l5.76 -5.76M140.76 197.64l5.76 5.76m-5.76 0l5.76 -5.76M141.48 197.64l5.76 5.76m-5.76 0l5.76 -5.76M142.2 197.64l5.76 5.76m-5.76 0l5.76 -5.76M142.2 197.64l5.76 5.76m-5.76 0l5.76 -5.76M142.92 197.64l5.76 5.76m-5.76 0l5.76 -5.76M143.64 197.64l5.76 5.76m-5.76 0l5.76 -5.76M144.36 197.64l5.76 5.76m-5.76 0l5.76 -5.76M145.08 197.64l5.76 5.76m-5.76 0l5.76 -5.76M145.8 197.64l5.76 5.76m-5.76 0l5.76 -5.76M146.52 197.64l5.76 5.76m-5.76 0l5.76 -5.76M147.24 197.64l5.76 5.76m-5.76 0l5.76 -5.76M147.24 197.64l5.76 5.76m-5.76 0l5.76 -5.76M147.96 197.64l5.76 5.76m-5.76 0l5.76 -5.76M148.68 197.64l5.76 5.76m-5.76 0l5.76 -5.76M149.4 197.64l5.76 5.76m-5.76 0l5.76 -5.76M150.12 197.64l5.76 5.76m-5.76 0l5.76 -5.76M150.84 197.64l5.76 5.76m-5.76 0l5.76 -5.76M151.56 197.64l5.76 5.76m-5.76 0l5.76 -5.76M152.28 197.64l5.76 5.76m-5.76 0l5.76 -5.76M153 197.64l5.76 5.76m-5.76 0l5.76 -5.76M153 197.64l5.76 5.76m-5.76 0l5.76 -5.76M153.72 197.64l5.76 5.76m-5.76 0l5.76 -5.76M154.44 197.64l5.76 5.76m-5.76 0l5.76 -5.76M155.16 197.64l5.76 5.76m-5.76 0l5.76 -5.76M155.88 197.64l5.76 5.76m-5.76 0l5.76 -5.76M156.6 197.64l5.76 5.76m-5.76 0l5.76 -5.76M157.32 197.64l5.76 5.76m-5.76 0l5.76 -5.76M158.04 197.64l5.76 5.76m-5.76 0l5.76 -5.76M158.04 197.64l5.76 5.76m-5.76 0l5.76 -5.76M158.76 197.64l5.76 5.76m-5.76 0l5.76 -5.76M159.48 197.64l5.76 5.76m-5.76 0l5.76 -5.76M160.2 197.64l5.76 5.76m-5.76 0l5.76 -5.76M160.92 197.64l5.76 5.76m-5.76 0l5.76 -5.76M161.64 197.64l5.76 5.76m-5.76 0l5.76 -5.76M162.36 197.64l5.76 5.76m-5.76 0l5.76 -5.76M163.08 197.64l5.76 5.76m-5.76 0l5.76 -5.76M163.8 197.64l5.76 5.76m-5.76 0l5.76 -5.76M163.8 197.64l5.76 5.76m-5.76 0l5.76 -5.76M164.52 197.64l5.76 5.76m-5.76 0l5.76 -5.76M165.24 197.64l5.76 5.76m-5.76 0l5.76 -5.76M165.96 197.64l5.76 5.76m-5.76 0l5.76 -5.76M166.68 197.64l5.76 5.76m-5.76 0l5.76 -5.76M167.4 197.64l5.76 5.76m-5.76 0l5.76 -5.76M168.12 197.64l5.76 5.76m-5.76 0l5.76 -5.76M168.84 197.64l5.76 5.76m-5.76 0l5.76 -5.76M168.84 197.64l5.76 5.76m-5.76 0l5.76 -5.76M169.56 197.64l5.76 5.76m-5.76 0l5.76 -5.76M170.28 197.64l5.76 5.76m-5.76 0l5.76 -5.76M171 197.64l5.76 5.76m-5.76 0l5.76 -5.76M171.72 197.64l5.76 5.76m-5.76 0l5.76 -5.76M172.44 197.64l5.76 5.76m-5.76 0l5.76 -5.76M173.16 197.64l5.76 5.76m-5.76 0l5.76 -5.76M173.88 197.64l5.76 5.76m-5.76 0l5.76 -5.76M174.6 197.64l5.76 5.76m-5.76 0l5.76 -5.76M174.6 197.64l5.76 5.76m-5.76 0l5.76 -5.76M175.32 197.64l5.76 5.76m-5.76 0l5.76 -5.76M176.04 197.64l5.76 5.76m-5.76 0l5.76 -5.76M176.76 197.64l5.76 5.76m-5.76 0l5.76 -5.76M177.48 197.64l5.76 5.76m-5.76 0l5.76 -5.76M178.2 197.64l5.76 5.76m-5.76 0l5.76 -5.76M178.92 197.64l5.76 5.76m-5.76 0l5.76 -5.76M179.64 197.64l5.76 5.76m-5.76 0l5.76 -5.76M179.64 197.64l5.76 5.76m-5.76 0l5.76 -5.76M180.36 197.64l5.76 5.76m-5.76 0l5.76 -5.76M181.08 197.64l5.76 5.76m-5.76 0l5.76 -5.76M181.8 197.64l5.76 5.76m-5.76 0l5.76 -5.76M182.52 197.64l5.76 5.76m-5.76 0l5.76 -5.76M183.24 197.64l5.76 5.76m-5.76 0l5.76 -5.76M183.96 197.64l5.76 5.76m-5.76 0l5.76 -5.76M184.68 197.64l5.76 5.76m-5.76 0l5.76 -5.76M185.4 197.64l5.76 5.76m-5.76 0l5.76 -5.76M185.4 197.64l5.76 5.76m-5.76 0l5.76 -5.76M186.12 197.64l5.76 5.76m-5.76 0l5.76 -5.76M186.84 197.64l5.76 5.76m-5.76 0l5.76 -5.76M187.56 197.64l5.76 5.76m-5.76 0l5.76 -5.76M188.28 197.64l5.76 5.76m-5.76 0l5.76 -5.76M189 197.64l5.76 5.76m-5.76 0l5.76 -5.76M189.72 197.64l5.76 5.76m-5.76 0l5.76 -5.76M190.44 197.64l5.76 5.76m-5.76 0l5.76 -5.76M190.44 197.64l5.76 5.76m-5.76 0l5.76 -5.76M191.16 197.64l5.76 5.76m-5.76 0l5.76 -5.76M191.88 197.64l5.76 5.76m-5.76 0l5.76 -5.76M192.6 197.64l5.76 5.76m-5.76 0l5.76 -5.76M193.32 197.64l5.76 5.76m-5.76 0l5.76 -5.76M194.04 197.64l5.76 5.76m-5.76 0l5.76 -5.76M194.76 197.64l5.76 5.76m-5.76 0l5.76 -5.76M195.48 197.64l5.76 5.76m-5.76 0l5.76 -5.76M196.2 197.64l5.76 5.76m-5.76 0l5.76 -5.76M196.2 197.64l5.76 5.76m-5.76 0l5.76 -5.76M196.92 197.64l5.76 5.76m-5.76 0l5.76 -5.76M197.64 197.64l5.76 5.76m-5.76 0l5.76 -5.76M198.36 197.64l5.76 5.76m-5.76 0l5.76 -5.76M199.08 197.64l5.76 5.76m-5.76 0l5.76 -5.76M199.8 197.64l5.76 5.76m-5.76 0l5.76 -5.76M200.52 197.64l5.76 5.76m-5.76 0l5.76 -5.76M201.24 196.92l5.76 5.76m-5.76 0l5.76 -5.76M201.24 196.92l5.76 5.76m-5.76 0l5.76 -5.76M201.96 196.92l5.76 5.76m-5.76 0l5.76 -5.76M202.68 196.92l5.76 5.76m-5.76 0l5.76 -5.76M203.4 196.92l5.76 5.76m-5.76 0l5.76 -5.76M204.12 196.92l5.76 5.76m-5.76 0l5.76 -5.76M204.84 196.92l5.76 5.76m-5.76 0l5.76 -5.76M205.56 196.92l5.76 5.76m-5.76 0l5.76 -5.76M206.28 196.92l5.76 5.76m-5.76 0l5.76 -5.76M207 196.92l5.76 5.76m-5.76 0l5.76 -5.76M207 196.2l5.76 5.76m-5.76 0l5.76 -5.76M207.72 196.2l5.76 5.76m-5.76 0l5.76 -5.76M208.44 196.2l5.76 5.76m-5.76 0l5.76 -5.76M209.16 195.48l5.76 5.76m-5.76 0l5.76 -5.76M209.88 194.76l5.76 5.76m-5.76 0l5.76 -5.76M210.6 194.76l5.76 5.76m-5.76 0l5.76 -5.76M211.32 194.04l5.76 5.76m-5.76 0l5.76 -5.76M212.04 192.6l5.76 5.76m-5.76 0l5.76 -5.76M212.04 191.88l5.76 5.76m-5.76 0l5.76 -5.76M212.76 191.16l5.76 5.76m-5.76 0l5.76 -5.76M213.48 190.44l5.76 5.76m-5.76 0l5.76 -5.76M214.2 190.44l5.76 5.76m-5.76 0l5.76 -5.76M214.92 191.16l5.76 5.76m-5.76 0l5.76 -5.76M215.64 193.32l5.76 5.76m-5.76 0l5.76 -5.76M216.36 194.76l5.76 5.76m-5.76 0l5.76 -5.76M217.08 196.92l5.76 5.76m-5.76 0l5.76 -5.76M217.8 199.08l5.76 5.76m-5.76 0l5.76 -5.76M217.8 200.52l5.76 5.76m-5.76 0l5.76 -5.76M218.52 202.68l5.76 5.76m-5.76 0l5.76 -5.76M219.24 204.12l5.76 5.76m-5.76 0l5.76 -5.76M219.96 205.56l5.76 5.76m-5.76 0l5.76 -5.76M220.68 207l5.76 5.76m-5.76 0l5.76 -5.76M221.4 209.16l5.76 5.76m-5.76 0l5.76 -5.76M222.12 211.32l5.76 5.76m-5.76 0l5.76 -5.76M222.84 212.76l5.76 5.76m-5.76 0l5.76 -5.76M222.84 215.64l5.76 5.76m-5.76 0l5.76 -5.76M223.56 218.52l5.76 5.76m-5.76 0l5.76 -5.76M224.28 222.12l5.76 5.76m-5.76 0l5.76 -5.76M225 227.88l5.76 5.76m-5.76 0l5.76 -5.76M225.72 232.92l5.76 5.76m-5.76 0l5.76 -5.76M226.44 237.24l5.76 5.76m-5.76 0l5.76 -5.76M227.16 242.28l5.76 5.76m-5.76 0l5.76 -5.76M227.88 247.32l5.76 5.76m-5.76 0l5.76 -5.76M228.6 252.36l5.76 5.76m-5.76 0l5.76 -5.76M228.6 256.68l5.76 5.76m-5.76 0l5.76 -5.76M229.32 261.72l5.76 5.76m-5.76 0l5.76 -5.76M230.04 266.04l5.76 5.76m-5.76 0l5.76 -5.76M230.76 270.36l5.76 5.76m-5.76 0l5.76 -5.76M231.48 273.96l5.76 5.76m-5.76 0l5.76 -5.76M232.2 276.84l5.76 5.76m-5.76 0l5.76 -5.76M232.92 278.28l5.76 5.76m-5.76 0l5.76 -5.76M233.64 279.72l5.76 5.76m-5.76 0l5.76 -5.76M233.64 279.72l5.76 5.76m-5.76 0l5.76 -5.76M234.36 278.28l5.76 5.76m-5.76 0l5.76 -5.76M235.08 276.84l5.76 5.76m-5.76 0l5.76 -5.76M235.8 273.96l5.76 5.76m-5.76 0l5.76 -5.76M236.52 270.36l5.76 5.76m-5.76 0l5.76 -5.76M237.24 266.04l5.76 5.76m-5.76 0l5.76 -5.76M237.96 261.72l5.76 5.76m-5.76 0l5.76 -5.76M238.68 256.68l5.76 5.76m-5.76 0l5.76 -5.76M238.68 252.36l5.76 5.76m-5.76 0l5.76 -5.76M239.4 247.32l5.76 5.76m-5.76 0l5.76 -5.76M240.12 242.28l5.76 5.76m-5.76 0l5.76 -5.76M240.84 237.24l5.76 5.76m-5.76 0l5.76 -5.76M241.56 232.92l5.76 5.76m-5.76 0l5.76 -5.76M242.28 227.88l5.76 5.76m-5.76 0l5.76 -5.76M243 222.12l5.76 5.76m-5.76 0l5.76 -5.76M243.72 218.52l5.76 5.76m-5.76 0l5.76 -5.76M244.44 215.64l5.76 5.76m-5.76 0l5.76 -5.76M244.44 212.76l5.76 5.76m-5.76 0l5.76 -5.76M245.16 211.32l5.76 5.76m-5.76 0l5.76 -5.76M245.88 209.16l5.76 5.76m-5.76 0l5.76 -5.76M246.6 207l5.76 5.76m-5.76 0l5.76 -5.76M247.32 205.56l5.76 5.76m-5.76 0l5.76 -5.76M248.04 204.12l5.76 5.76m-5.76 0l5.76 -5.76M248.76 202.68l5.76 5.76m-5.76 0l5.76 -5.76M249.48 200.52l5.76 5.76m-5.76 0l5.76 -5.76M249.48 199.08l5.76 5.76m-5.76 0l5.76 -5.76M250.2 196.92l5.76 5.76m-5.76 0l5.76 -5.76M250.92 194.76l5.76 5.76m-5.76 0l5.76 -5.76M251.64 193.32l5.76 5.76m-5.76 0l5.76 -5.76M252.36 191.16l5.76 5.76m-5.76 0l5.76 -5.76M253.08 190.44l5.76 5.76m-5.76 0l5.76 -5.76M253.8 190.44l5.76 5.76m-5.76 0l5.76 -5.76M254.52 191.16l5.76 5.76m-5.76 0l5.76 -5.76M255.24 191.88l5.76 5.76m-5.76 0l5.76 -5.76M255.24 192.6l5.76 5.76m-5.76 0l5.76 -5.76M255.96 194.04l5.76 5.76m-5.76 0l5.76 -5.76M256.68 194.76l5.76 5.76m-5.76 0l5.76 -5.76M257.4 194.76l5.76 5.76m-5.76 0l5.76 -5.76M258.12 195.48l5.76 5.76m-5.76 0l5.76 -5.76M258.84 196.2l5.76 5.76m-5.76 0l5.76 -5.76M259.56 196.2l5.76 5.76m-5.76 0l5.76 -5.76M260.28 196.2l5.76 5.76m-5.76 0l5.76 -5.76M260.28 196.92l5.76 5.76m-5.76 0l5.76 -5.76M261 196.92l5.76 5.76m-5.76 0l5.76 -5.76M261.72 196.92l5.76 5.76m-5.76 0l5.76 -5.76M262.44 196.92l5.76 5.76m-5.76 0l5.76 -5.76M263.16 196.92l5.76 5.76m-5.76 0l5.76 -5.76M263.88 196.92l5.76 5.76m-5.76 0l5.76 -5.76M264.6 196.92l5.76 5.76m-5.76 0l5.76 -5.76M265.32 196.92l5.76 5.76m-5.76 0l5.76 -5.76M266.04 196.92l5.76 5.76m-5.76 0l5.76 -5.76M266.04 196.92l5.76 5.76m-5.76 0l5.76 -5.76M266.76 197.64l5.76 5.76m-5.76 0l5.76 -5.76M267.48 197.64l5.76 5.76m-5.76 0l5.76 -5.76M268.2 197.64l5.76 5.76m-5.76 0l5.76 -5.76M268.92 197.64l5.76 5.76m-5.76 0l5.76 -5.76M269.64 197.64l5.76 5.76m-5.76 0l5.76 -5.76M270.36 197.64l5.76 5.76m-5.76 0l5.76 -5.76M271.08 197.64l5.76 5.76m-5.76 0l5.76 -5.76M271.08 197.64l5.76 5.76m-5.76 0l5.76 -5.76M271.8 197.64l5.76 5.76m-5.76 0l5.76 -5.76M272.52 197.64l5.76 5.76m-5.76 0l5.76 -5.76M273.24 197.64l5.76 5.76m-5.76 0l5.76 -5.76M273.96 197.64l5.76 5.76m-5.76 0l5.76 -5.76M274.68 197.64l5.76 5.76m-5.76 0l5.76 -5.76M275.4 197.64l5.76 5.76m-5.76 0l5.76 -5.76M276.12 197.64l5.76 5.76m-5.76 0l5.76 -5.76M276.84 197.64l5.76 5.76m-5.76 0l5.76 -5.76M276.84 197.64l5.76 5.76m-5.76 0l5.76 -5.76M277.56 197.64l5.76 5.76m-5.76 0l5.76 -5.76M278.28 197.64l5.76 5.76m-5.76 0l5.76 -5.76M279 197.64l5.76 5.76m-5.76 0l5.76 -5.76M279.72 197.64l5.76 5.76m-5.76 0l5.76 -5.76M280.44 197.64l5.76 5.76m-5.76 0l5.76 -5.76M281.16 197.64l5.76 5.76m-5.76 0l5.76 -5.76M281.88 197.64l5.76 5.76m-5.76 0l5.76 -5.76M281.88 197.64l5.76 5.76m-5.76 0l5.76 -5.76M282.6 197.64l5.76 5.76m-5.76 0l5.76 -5.76M283.32 197.64l5.76 5.76m-5.76 0l5.76 -5.76M284.04 197.64l5.76 5.76m-5.76 0l5.76 -5.76M284.76 197.64l5.76 5.76m-5.76 0l5.76 -5.76M285.48 197.64l5.76 5.76m-5.76 0l5.76 -5.76M286.2 197.64l5.76 5.76m-5.76 0l5.76 -5.76M286.92 197.64l5.76 5.76m-5.76 0l5.76 -5.76M287.64 197.64l5.76 5.76m-5.76 0l5.76 -5.76M287.64 197.64l5.76 5.76m-5.76 0l5.76 -5.76M288.36 197.64l5.76 5.76m-5.76 0l5.76 -5.76M289.08 197.64l5.76 5.76m-5.76 0l5.76 -5.76M289.8 197.64l5.76 5.76m-5.76 0l5.76 -5.76M290.52 197.64l5.76 5.76m-5.76 0l5.76 -5.76M291.24 197.64l5.76 5.76m-5.76 0l5.76 -5.76M291.96 197.64l5.76 5.76m-5.76 0l5.76 -5.76M292.68 197.64l5.76 5.76m-5.76 0l5.76 -5.76M292.68 197.64l5.76 5.76m-5.76 0l5.76 -5.76M293.4 197.64l5.76 5.76m-5.76 0l5.76 -5.76M294.12 197.64l5.76 5.76m-5.76 0l5.76 -5.76M294.84 197.64l5.76 5.76m-5.76 0l5.76 -5.76M295.56 197.64l5.76 5.76m-5.76 0l5.76 -5.76M296.28 197.64l5.76 5.76m-5.76 0l5.76 -5.76M297 197.64l5.76 5.76m-5.76 0l5.76 -5.76M297.72 197.64l5.76 5.76m-5.76 0l5.76 -5.76M298.44 197.64l5.76 5.76m-5.76 0l5.76 -5.76M298.44 197.64l5.76 5.76m-5.76 0l5.76 -5.76M299.16 197.64l5.76 5.76m-5.76 0l5.76 -5.76M299.88 197.64l5.76 5.76m-5.76 0l5.76 -5.76M300.6 197.64l5.76 5.76m-5.76 0l5.76 -5.76M301.32 197.64l5.76 5.76m-5.76 0l5.76 -5.76M302.04 197.64l5.76 5.76m-5.76 0l5.76 -5.76M302.76 197.64l5.76 5.76m-5.76 0l5.76 -5.76M303.48 197.64l5.76 5.76m-5.76 0l5.76 -5.76M303.48 197.64l5.76 5.76m-5.76 0l5.76 -5.76M304.2 197.64l5.76 5.76m-5.76 0l5.76 -5.76M304.92 197.64l5.76 5.76m-5.76 0l5.76 -5.76M305.64 197.64l5.76 5.76m-5.76 0l5.76 -5.76M306.36 197.64l5.76 5.76m-5.76 0l5.76 -5.76M307.08 197.64l5.76 5.76m-5.76 0l5.76 -5.76M307.8 197.64l5.76 5.76m-5.76 0l5.76 -5.76M308.52 197.64l5.76 5.76m-5.76 0l5.76 -5.76M309.24 197.64l5.76 5.76m-5.76 0l5.76 -5.76M309.24 197.64l5.76 5.76m-5.76 0l5.76 -5.76M309.96 197.64l5.76 5.76m-5.76 0l5.76 -5.76M310.68 197.64l5.76 5.76m-5.76 0l5.76 -5.76M311.4 197.64l5.76 5.76m-5.76 0l5.76 -5.76M312.12 197.64l5.76 5.76m-5.76 0l5.76 -5.76M312.84 197.64l5.76 5.76m-5.76 0l5.76 -5.76M313.56 197.64l5.76 5.76m-5.76 0l5.76 -5.76M314.28 197.64l5.76 5.76m-5.76 0l5.76 -5.76M314.28 197.64l5.76 5.76m-5.76 0l5.76 -5.76M315 197.64l5.76 5.76m-5.76 0l5.76 -5.76M315.72 197.64l5.76 5.76m-5.76 0l5.76 -5.76M316.44 197.64l5.76 5.76m-5.76 0l5.76 -5.76M317.16 197.64l5.76 5.76m-5.76 0l5.76 -5.76M317.88 197.64l5.76 5.76m-5.76 0l5.76 -5.76M318.6 197.64l5.76 5.76m-5.76 0l5.76 -5.76M319.32 197.64l5.76 5.76m-5.76 0l5.76 -5.76M320.04 197.64l5.76 5.76m-5.76 0l5.76 -5.76M320.04 197.64l5.76 5.76m-5.76 0l5.76 -5.76M320.76 197.64l5.76 5.76m-5.76 0l5.76 -5.76M321.48 197.64l5.76 5.76m-5.76 0l5.76 -5.76M322.2 197.64l5.76 5.76m-5.76 0l5.76 -5.76M322.92 197.64l5.76 5.76m-5.76 0l5.76 -5.76M323.64 197.64l5.76 5.76m-5.76 0l5.76 -5.76M324.36 197.64l5.76 5.76m-5.76 0l5.76 -5.76M325.08 197.64l5.76 5.76m-5.76 0l5.76 -5.76M325.08 197.64l5.76 5.76m-5.76 0l5.76 -5.76M325.8 197.64l5.76 5.76m-5.76 0l5.76 -5.76M326.52 197.64l5.76 5.76m-5.76 0l5.76 -5.76M327.24 197.64l5.76 5.76m-5.76 0l5.76 -5.76M327.96 197.64l5.76 5.76m-5.76 0l5.76 -5.76M328.68 197.64l5.76 5.76m-5.76 0l5.76 -5.76M329.4 197.64l5.76 5.76m-5.76 0l5.76 -5.76M330.12 197.64l5.76 5.76m-5.76 0l5.76 -5.76M330.84 197.64l5.76 5.76m-5.76 0l5.76 -5.76M330.84 197.64l5.76 5.76m-5.76 0l5.76 -5.76M331.56 197.64l5.76 5.76m-5.76 0l5.76 -5.76M332.28 197.64l5.76 5.76m-5.76 0l5.76 -5.76M333 197.64l5.76 5.76m-5.76 0l5.76 -5.76M333.72 197.64l5.76 5.76m-5.76 0l5.76 -5.76M334.44 197.64l5.76 5.76m-5.76 0l5.76 -5.76M335.16 197.64l5.76 5.76m-5.76 0l5.76 -5.76M335.88 197.64l5.76 5.76m-5.76 0l5.76 -5.76M335.88 197.64l5.76 5.76m-5.76 0l5.76 -5.76M336.6 197.64l5.76 5.76m-5.76 0l5.76 -5.76M337.32 197.64l5.76 5.76m-5.76 0l5.76 -5.76M338.04 197.64l5.76 5.76m-5.76 0l5.76 -5.76M338.76 197.64l5.76 5.76m-5.76 0l5.76 -5.76M339.48 197.64l5.76 5.76m-5.76 0l5.76 -5.76M340.2 197.64l5.76 5.76m-5.76 0l5.76 -5.76M340.92 197.64l5.76 5.76m-5.76 0l5.76 -5.76M341.64 197.64l5.76 5.76m-5.76 0l5.76 -5.76M341.64 197.64l5.76 5.76m-5.76 0l5.76 -5.76M342.36 197.64l5.76 5.76m-5.76 0l5.76 -5.76M343.08 197.64l5.76 5.76m-5.76 0l5.76 -5.76M343.8 197.64l5.76 5.76m-5.76 0l5.76 -5.76M344.52 197.64l5.76 5.76m-5.76 0l5.76 -5.76M345.24 197.64l5.76 5.76m-5.76 0l5.76 -5.76M345.96 197.64l5.76 5.76m-5.76 0l5.76 -5.76M346.68 197.64l5.76 5.76m-5.76 0l5.76 -5.76M346.68 197.64l5.76 5.76m-5.76 0l5.76 -5.76M347.4 197.64l5.76 5.76m-5.76 0l5.76 -5.76M348.12 197.64l5.76 5.76m-5.76 0l5.76 -5.76M348.84 197.64l5.76 5.76m-5.76 0l5.76 -5.76M349.56 197.64l5.76 5.76m-5.76 0l5.76 -5.76M350.28 197.64l5.76 5.76m-5.76 0l5.76 -5.76M351 197.64l5.76 5.76m-5.76 0l5.76 -5.76M351.72 197.64l5.76 5.76m-5.76 0l5.76 -5.76M352.44 197.64l5.76 5.76m-5.76 0l5.76 -5.76M352.44 197.64l5.76 5.76m-5.76 0l5.76 -5.76M353.16 197.64l5.76 5.76m-5.76 0l5.76 -5.76M353.88 197.64l5.76 5.76m-5.76 0l5.76 -5.76M354.6 197.64l5.76 5.76m-5.76 0l5.76 -5.76M355.32 197.64l5.76 5.76m-5.76 0l5.76 -5.76M356.04 197.64l5.76 5.76m-5.76 0l5.76 -5.76M356.76 197.64l5.76 5.76m-5.76 0l5.76 -5.76M357.48 197.64l5.76 5.76m-5.76 0l5.76 -5.76M357.48 197.64l5.76 5.76m-5.76 0l5.76 -5.76M358.2 197.64l5.76 5.76m-5.76 0l5.76 -5.76M358.92 197.64l5.76 5.76m-5.76 0l5.76 -5.76M359.64 197.64l5.76 5.76m-5.76 0l5.76 -5.76M360.36 197.64l5.76 5.76m-5.76 0l5.76 -5.76M361.08 197.64l5.76 5.76m-5.76 0l5.76 -5.76M361.8 197.64l5.76 5.76m-5.76 0l5.76 -5.76M362.52 197.64l5.76 5.76m-5.76 0l5.76 -5.76M363.24 197.64l5.76 5.76m-5.76 0l5.76 -5.76M363.24 197.64l5.76 5.76m-5.76 0l5.76 -5.76M363.96 197.64l5.76 5.76m-5.76 0l5.76 -5.76M364.68 197.64l5.76 5.76m-5.76 0l5.76 -5.76M365.4 197.64l5.76 5.76m-5.76 0l5.76 -5.76M366.12 197.64l5.76 5.76m-5.76 0l5.76 -5.76M366.84 197.64l5.76 5.76m-5.76 0l5.76 -5.76M367.56 197.64l5.76 5.76m-5.76 0l5.76 -5.76M368.28 197.64l5.76 5.76m-5.76 0l5.76 -5.76M368.28 197.64l5.76 5.76m-5.76 0l5.76 -5.76M369 197.64l5.76 5.76m-5.76 0l5.76 -5.76M369.72 197.64l5.76 5.76m-5.76 0l5.76 -5.76M370.44 197.64l5.76 5.76m-5.76 0l5.76 -5.76M371.16 197.64l5.76 5.76m-5.76 0l5.76 -5.76M371.88 197.64l5.76 5.76m-5.76 0l5.76 -5.76M372.6 197.64l5.76 5.76m-5.76 0l5.76 -5.76M373.32 197.64l5.76 5.76m-5.76 0l5.76 -5.76M374.04 197.64l5.76 5.76m-5.76 0l5.76 -5.76M374.04 197.64l5.76 5.76m-5.76 0l5.76 -5.76M374.76 197.64l5.76 5.76m-5.76 0l5.76 -5.76M375.48 197.64l5.76 5.76m-5.76 0l5.76 -5.76M376.2 197.64l5.76 5.76m-5.76 0l5.76 -5.76M376.92 197.64l5.76 5.76m-5.76 0l5.76 -5.76M377.64 197.64l5.76 5.76m-5.76 0l5.76 -5.76M378.36 197.64l5.76 5.76m-5.76 0l5.76 -5.76M379.08 197.64l5.76 5.76m-5.76 0l5.76 -5.76M379.08 197.64l5.76 5.76m-5.76 0l5.76 -5.76M379.8 197.64l5.76 5.76m-5.76 0l5.76 -5.76M380.52 197.64l5.76 5.76m-5.76 0l5.76 -5.76M381.24 197.64l5.76 5.76m-5.76 0l5.76 -5.76M381.96 197.64l5.76 5.76m-5.76 0l5.76 -5.76M382.68 197.64l5.76 5.76m-5.76 0l5.76 -5.76M383.4 197.64l5.76 5.76m-5.76 0l5.76 -5.76M384.12 197.64l5.76 5.76m-5.76 0l5.76 -5.76M384.84 197.64l5.76 5.76m-5.76 0l5.76 -5.76M384.84 197.64l5.76 5.76m-5.76 0l5.76 -5.76M385.56 197.64l5.76 5.76m-5.76 0l5.76 -5.76M386.28 197.64l5.76 5.76m-5.76 0l5.76 -5.76M387 197.64l5.76 5.76m-5.76 0l5.76 -5.76M387.72 197.64l5.76 5.76m-5.76 0l5.76 -5.76M388.44 197.64l5.76 5.76m-5.76 0l5.76 -5.76M389.16 197.64l5.76 5.76m-5.76 0l5.76 -5.76M389.88 197.64l5.76 5.76m-5.76 0l5.76 -5.76M389.88 197.64l5.76 5.76m-5.76 0l5.76 -5.76M390.6 197.64l5.76 5.76m-5.76 0l5.76 -5.76M391.32 197.64l5.76 5.76m-5.76 0l5.76 -5.76M392.04 197.64l5.76 5.76m-5.76 0l5.76 -5.76M392.76 197.64l5.76 5.76m-5.76 0l5.76 -5.76M393.48 197.64l5.76 5.76m-5.76 0l5.76 -5.76M394.2 197.64l5.76 5.76m-5.76 0l5.76 -5.76M394.92 197.64l5.76 5.76m-5.76 0l5.76 -5.76M395.64 197.64l5.76 5.76m-5.76 0l5.76 -5.76M395.64 197.64l5.76 5.76m-5.76 0l5.76 -5.76" style="fill: none; fill: #0000ff; stroke: #0000ff; stroke-width: 1"/></g><g id="line2d_57"><path clip-path="url(#pf1b9fc8d7d)" d="M71.64 200.52h5.76m-2.88 -2.88v5.76M71.64 200.52h5.76m-2.88 -2.88v5.76M72.36 200.52h5.76m-2.88 -2.88v5.76M73.08 200.52h5.76m-2.88 -2.88v5.76M73.8 200.52h5.76m-2.88 -2.88v5.76M74.52 200.52h5.76m-2.88 -2.88v5.76M75.24 200.52h5.76m-2.88 -2.88v5.76M75.96 200.52h5.76m-2.88 -2.88v5.76M76.68 200.52h5.76m-2.88 -2.88v5.76M77.4 200.52h5.76m-2.88 -2.88v5.76M77.4 200.52h5.76m-2.88 -2.88v5.76M78.12 200.52h5.76m-2.88 -2.88v5.76M78.84 200.52h5.76m-2.88 -2.88v5.76M79.56 200.52h5.76m-2.88 -2.88v5.76M80.28 200.52h5.76m-2.88 -2.88v5.76M81 200.52h5.76m-2.88 -2.88v5.76M81.72 200.52h5.76m-2.88 -2.88v5.76M82.44 200.52h5.76m-2.88 -2.88v5.76M82.44 200.52h5.76m-2.88 -2.88v5.76M83.16 200.52h5.76m-2.88 -2.88v5.76M83.88 200.52h5.76m-2.88 -2.88v5.76M84.6 200.52h5.76m-2.88 -2.88v5.76M85.32 200.52h5.76m-2.88 -2.88v5.76M86.04 200.52h5.76m-2.88 -2.88v5.76M86.76 200.52h5.76m-2.88 -2.88v5.76M87.48 200.52h5.76m-2.88 -2.88v5.76M88.2 200.52h5.76m-2.88 -2.88v5.76M88.2 200.52h5.76m-2.88 -2.88v5.76M88.92 200.52h5.76m-2.88 -2.88v5.76M89.64 200.52h5.76m-2.88 -2.88v5.76M90.36 200.52h5.76m-2.88 -2.88v5.76M91.08 200.52h5.76m-2.88 -2.88v5.76M91.8 200.52h5.76m-2.88 -2.88v5.76M92.52 200.52h5.76m-2.88 -2.88v5.76M93.24 200.52h5.76m-2.88 -2.88v5.76M93.24 200.52h5.76m-2.88 -2.88v5.76M93.96 200.52h5.76m-2.88 -2.88v5.76M94.68 200.52h5.76m-2.88 -2.88v5.76M95.4 200.52h5.76m-2.88 -2.88v5.76M96.12 200.52h5.76m-2.88 -2.88v5.76M96.84 200.52h5.76m-2.88 -2.88v5.76M97.56 200.52h5.76m-2.88 -2.88v5.76M98.28 200.52h5.76m-2.88 -2.88v5.76M99 200.52h5.76m-2.88 -2.88v5.76M99 200.52h5.76m-2.88 -2.88v5.76M99.72 200.52h5.76m-2.88 -2.88v5.76M100.44 200.52h5.76m-2.88 -2.88v5.76M101.16 200.52h5.76m-2.88 -2.88v5.76M101.88 200.52h5.76m-2.88 -2.88v5.76M102.6 200.52h5.76m-2.88 -2.88v5.76M103.32 200.52h5.76m-2.88 -2.88v5.76M104.04 200.52h5.76m-2.88 -2.88v5.76M104.04 200.52h5.76m-2.88 -2.88v5.76M104.76 200.52h5.76m-2.88 -2.88v5.76M105.48 200.52h5.76m-2.88 -2.88v5.76M106.2 200.52h5.76m-2.88 -2.88v5.76M106.92 200.52h5.76m-2.88 -2.88v5.76M107.64 200.52h5.76m-2.88 -2.88v5.76M108.36 200.52h5.76m-2.88 -2.88v5.76M109.08 200.52h5.76m-2.88 -2.88v5.76M109.8 200.52h5.76m-2.88 -2.88v5.76M109.8 200.52h5.76m-2.88 -2.88v5.76M110.52 200.52h5.76m-2.88 -2.88v5.76M111.24 200.52h5.76m-2.88 -2.88v5.76M111.96 200.52h5.76m-2.88 -2.88v5.76M112.68 200.52h5.76m-2.88 -2.88v5.76M113.4 200.52h5.76m-2.88 -2.88v5.76M114.12 200.52h5.76m-2.88 -2.88v5.76M114.84 200.52h5.76m-2.88 -2.88v5.76M114.84 200.52h5.76m-2.88 -2.88v5.76M115.56 200.52h5.76m-2.88 -2.88v5.76M116.28 200.52h5.76m-2.88 -2.88v5.76M117 200.52h5.76m-2.88 -2.88v5.76M117.72 200.52h5.76m-2.88 -2.88v5.76M118.44 200.52h5.76m-2.88 -2.88v5.76M119.16 200.52h5.76m-2.88 -2.88v5.76M119.88 200.52h5.76m-2.88 -2.88v5.76M120.6 200.52h5.76m-2.88 -2.88v5.76M120.6 200.52h5.76m-2.88 -2.88v5.76M121.32 200.52h5.76m-2.88 -2.88v5.76M122.04 200.52h5.76m-2.88 -2.88v5.76M122.76 200.52h5.76m-2.88 -2.88v5.76M123.48 200.52h5.76m-2.88 -2.88v5.76M124.2 200.52h5.76m-2.88 -2.88v5.76M124.92 200.52h5.76m-2.88 -2.88v5.76M125.64 200.52h5.76m-2.88 -2.88v5.76M125.64 200.52h5.76m-2.88 -2.88v5.76M126.36 200.52h5.76m-2.88 -2.88v5.76M127.08 200.52h5.76m-2.88 -2.88v5.76M127.8 200.52h5.76m-2.88 -2.88v5.76M128.52 200.52h5.76m-2.88 -2.88v5.76M129.24 200.52h5.76m-2.88 -2.88v5.76M129.96 200.52h5.76m-2.88 -2.88v5.76M130.68 200.52h5.76m-2.88 -2.88v5.76M131.4 200.52h5.76m-2.88 -2.88v5.76M131.4 200.52h5.76m-2.88 -2.88v5.76M132.12 200.52h5.76m-2.88 -2.88v5.76M132.84 200.52h5.76m-2.88 -2.88v5.76M133.56 200.52h5.76m-2.88 -2.88v5.76M134.28 200.52h5.76m-2.88 -2.88v5.76M135 200.52h5.76m-2.88 -2.88v5.76M135.72 200.52h5.76m-2.88 -2.88v5.76M136.44 200.52h5.76m-2.88 -2.88v5.76M136.44 200.52h5.76m-2.88 -2.88v5.76M137.16 200.52h5.76m-2.88 -2.88v5.76M137.88 200.52h5.76m-2.88 -2.88v5.76M138.6 200.52h5.76m-2.88 -2.88v5.76M139.32 200.52h5.76m-2.88 -2.88v5.76M140.04 200.52h5.76m-2.88 -2.88v5.76M140.76 200.52h5.76m-2.88 -2.88v5.76M141.48 200.52h5.76m-2.88 -2.88v5.76M142.2 200.52h5.76m-2.88 -2.88v5.76M142.2 200.52h5.76m-2.88 -2.88v5.76M142.92 200.52h5.76m-2.88 -2.88v5.76M143.64 200.52h5.76m-2.88 -2.88v5.76M144.36 200.52h5.76m-2.88 -2.88v5.76M145.08 200.52h5.76m-2.88 -2.88v5.76M145.8 200.52h5.76m-2.88 -2.88v5.76M146.52 200.52h5.76m-2.88 -2.88v5.76M147.24 200.52h5.76m-2.88 -2.88v5.76M147.24 200.52h5.76m-2.88 -2.88v5.76M147.96 200.52h5.76m-2.88 -2.88v5.76M148.68 200.52h5.76m-2.88 -2.88v5.76M149.4 200.52h5.76m-2.88 -2.88v5.76M150.12 200.52h5.76m-2.88 -2.88v5.76M150.84 200.52h5.76m-2.88 -2.88v5.76M151.56 200.52h5.76m-2.88 -2.88v5.76M152.28 200.52h5.76m-2.88 -2.88v5.76M153 200.52h5.76m-2.88 -2.88v5.76M153 200.52h5.76m-2.88 -2.88v5.76M153.72 200.52h5.76m-2.88 -2.88v5.76M154.44 200.52h5.76m-2.88 -2.88v5.76M155.16 200.52h5.76m-2.88 -2.88v5.76M155.88 200.52h5.76m-2.88 -2.88v5.76M156.6 200.52h5.76m-2.88 -2.88v5.76M157.32 200.52h5.76m-2.88 -2.88v5.76M158.04 200.52h5.76m-2.88 -2.88v5.76M158.04 200.52h5.76m-2.88 -2.88v5.76M158.76 200.52h5.76m-2.88 -2.88v5.76M159.48 200.52h5.76m-2.88 -2.88v5.76M160.2 200.52h5.76m-2.88 -2.88v5.76M160.92 200.52h5.76m-2.88 -2.88v5.76M161.64 200.52h5.76m-2.88 -2.88v5.76M162.36 200.52h5.76m-2.88 -2.88v5.76M163.08 200.52h5.76m-2.88 -2.88v5.76M163.8 200.52h5.76m-2.88 -2.88v5.76M163.8 200.52h5.76m-2.88 -2.88v5.76M164.52 200.52h5.76m-2.88 -2.88v5.76M165.24 200.52h5.76m-2.88 -2.88v5.76M165.96 200.52h5.76m-2.88 -2.88v5.76M166.68 200.52h5.76m-2.88 -2.88v5.76M167.4 200.52h5.76m-2.88 -2.88v5.76M168.12 200.52h5.76m-2.88 -2.88v5.76M168.84 200.52h5.76m-2.88 -2.88v5.76M168.84 200.52h5.76m-2.88 -2.88v5.76M169.56 200.52h5.76m-2.88 -2.88v5.76M170.28 200.52h5.76m-2.88 -2.88v5.76M171 200.52h5.76m-2.88 -2.88v5.76M171.72 200.52h5.76m-2.88 -2.88v5.76M172.44 200.52h5.76m-2.88 -2.88v5.76M173.16 200.52h5.76m-2.88 -2.88v5.76M173.88 200.52h5.76m-2.88 -2.88v5.76M174.6 200.52h5.76m-2.88 -2.88v5.76M174.6 200.52h5.76m-2.88 -2.88v5.76M175.32 200.52h5.76m-2.88 -2.88v5.76M176.04 200.52h5.76m-2.88 -2.88v5.76M176.76 200.52h5.76m-2.88 -2.88v5.76M177.48 200.52h5.76m-2.88 -2.88v5.76M178.2 200.52h5.76m-2.88 -2.88v5.76M178.92 200.52h5.76m-2.88 -2.88v5.76M179.64 200.52h5.76m-2.88 -2.88v5.76M179.64 200.52h5.76m-2.88 -2.88v5.76M180.36 200.52h5.76m-2.88 -2.88v5.76M181.08 200.52h5.76m-2.88 -2.88v5.76M181.8 200.52h5.76m-2.88 -2.88v5.76M182.52 200.52h5.76m-2.88 -2.88v5.76M183.24 200.52h5.76m-2.88 -2.88v5.76M183.96 200.52h5.76m-2.88 -2.88v5.76M184.68 200.52h5.76m-2.88 -2.88v5.76M185.4 200.52h5.76m-2.88 -2.88v5.76M185.4 200.52h5.76m-2.88 -2.88v5.76M186.12 200.52h5.76m-2.88 -2.88v5.76M186.84 200.52h5.76m-2.88 -2.88v5.76M187.56 200.52h5.76m-2.88 -2.88v5.76M188.28 200.52h5.76m-2.88 -2.88v5.76M189 200.52h5.76m-2.88 -2.88v5.76M189.72 200.52h5.76m-2.88 -2.88v5.76M190.44 200.52h5.76m-2.88 -2.88v5.76M190.44 200.52h5.76m-2.88 -2.88v5.76M191.16 200.52h5.76m-2.88 -2.88v5.76M191.88 200.52h5.76m-2.88 -2.88v5.76M192.6 200.52h5.76m-2.88 -2.88v5.76M193.32 200.52h5.76m-2.88 -2.88v5.76M194.04 200.52h5.76m-2.88 -2.88v5.76M194.76 200.52h5.76m-2.88 -2.88v5.76M195.48 200.52h5.76m-2.88 -2.88v5.76M196.2 200.52h5.76m-2.88 -2.88v5.76M196.2 200.52h5.76m-2.88 -2.88v5.76M196.92 200.52h5.76m-2.88 -2.88v5.76M197.64 200.52h5.76m-2.88 -2.88v5.76M198.36 200.52h5.76m-2.88 -2.88v5.76M199.08 200.52h5.76m-2.88 -2.88v5.76M199.8 200.52h5.76m-2.88 -2.88v5.76M200.52 200.52h5.76m-2.88 -2.88v5.76M201.24 200.52h5.76m-2.88 -2.88v5.76M201.24 200.52h5.76m-2.88 -2.88v5.76M201.96 200.52h5.76m-2.88 -2.88v5.76M202.68 200.52h5.76m-2.88 -2.88v5.76M203.4 200.52h5.76m-2.88 -2.88v5.76M204.12 200.52h5.76m-2.88 -2.88v5.76M204.84 200.52h5.76m-2.88 -2.88v5.76M205.56 200.52h5.76m-2.88 -2.88v5.76M206.28 200.52h5.76m-2.88 -2.88v5.76M207 200.52h5.76m-2.88 -2.88v5.76M207 200.52h5.76m-2.88 -2.88v5.76M207.72 200.52h5.76m-2.88 -2.88v5.76M208.44 200.52h5.76m-2.88 -2.88v5.76M209.16 200.52h5.76m-2.88 -2.88v5.76M209.88 200.52h5.76m-2.88 -2.88v5.76M210.6 200.52h5.76m-2.88 -2.88v5.76M211.32 200.52h5.76m-2.88 -2.88v5.76M212.04 200.52h5.76m-2.88 -2.88v5.76M212.04 200.52h5.76m-2.88 -2.88v5.76M212.76 200.52h5.76m-2.88 -2.88v5.76M213.48 200.52h5.76m-2.88 -2.88v5.76M214.2 199.8h5.76m-2.88 -2.88v5.76M214.92 199.8h5.76m-2.88 -2.88v5.76M215.64 199.8h5.76m-2.88 -2.88v5.76M216.36 199.8h5.76m-2.88 -2.88v5.76M217.08 199.8h5.76m-2.88 -2.88v5.76M217.8 199.8h5.76m-2.88 -2.88v5.76M217.8 199.8h5.76m-2.88 -2.88v5.76M218.52 199.8h5.76m-2.88 -2.88v5.76M219.24 199.8h5.76m-2.88 -2.88v5.76M219.96 199.8h5.76m-2.88 -2.88v5.76M220.68 199.08h5.76m-2.88 -2.88v5.76M221.4 199.08h5.76m-2.88 -2.88v5.76M222.12 199.08h5.76m-2.88 -2.88v5.76M222.84 198.36h5.76m-2.88 -2.88v5.76M222.84 197.64h5.76m-2.88 -2.88v5.76M223.56 197.64h5.76m-2.88 -2.88v5.76M224.28 196.92h5.76m-2.88 -2.88v5.76M225 196.2h5.76m-2.88 -2.88v5.76M225.72 194.76h5.76m-2.88 -2.88v5.76M226.44 194.04h5.76m-2.88 -2.88v5.76M227.16 193.32h5.76m-2.88 -2.88v5.76M227.88 192.6h5.76m-2.88 -2.88v5.76M228.6 194.04h5.76m-2.88 -2.88v5.76M228.6 196.2h5.76m-2.88 -2.88v5.76M229.32 197.64h5.76m-2.88 -2.88v5.76M230.04 199.8h5.76m-2.88 -2.88v5.76M230.76 201.24h5.76m-2.88 -2.88v5.76M231.48 203.4h5.76m-2.88 -2.88v5.76M232.2 204.84h5.76m-2.88 -2.88v5.76M232.92 207h5.76m-2.88 -2.88v5.76M233.64 208.44h5.76m-2.88 -2.88v5.76M233.64 209.88h5.76m-2.88 -2.88v5.76M234.36 212.04h5.76m-2.88 -2.88v5.76M235.08 213.48h5.76m-2.88 -2.88v5.76M235.8 215.64h5.76m-2.88 -2.88v5.76M236.52 217.8h5.76m-2.88 -2.88v5.76M237.24 220.68h5.76m-2.88 -2.88v5.76M237.96 225h5.76m-2.88 -2.88v5.76M238.68 230.04h5.76m-2.88 -2.88v5.76M238.68 235.08h5.76m-2.88 -2.88v5.76M239.4 240.12h5.76m-2.88 -2.88v5.76M240.12 245.16h5.76m-2.88 -2.88v5.76M240.84 249.48h5.76m-2.88 -2.88v5.76M241.56 254.52h5.76m-2.88 -2.88v5.76M242.28 259.56h5.76m-2.88 -2.88v5.76M243 263.88h5.76m-2.88 -2.88v5.76M243.72 268.92h5.76m-2.88 -2.88v5.76M244.44 272.52h5.76m-2.88 -2.88v5.76M244.44 276.12h5.76m-2.88 -2.88v5.76M245.16 279.72h5.76m-2.88 -2.88v5.76M245.88 281.16h5.76m-2.88 -2.88v5.76M246.6 282.6h5.76m-2.88 -2.88v5.76M247.32 282.6h5.76m-2.88 -2.88v5.76M248.04 281.16h5.76m-2.88 -2.88v5.76M248.76 279.72h5.76m-2.88 -2.88v5.76M249.48 276.84h5.76m-2.88 -2.88v5.76M249.48 273.24h5.76m-2.88 -2.88v5.76M250.2 269.64h5.76m-2.88 -2.88v5.76M250.92 264.6h5.76m-2.88 -2.88v5.76M251.64 260.28h5.76m-2.88 -2.88v5.76M252.36 255.24h5.76m-2.88 -2.88v5.76M253.08 250.2h5.76m-2.88 -2.88v5.76M253.8 245.88h5.76m-2.88 -2.88v5.76M254.52 240.84h5.76m-2.88 -2.88v5.76M255.24 235.8h5.76m-2.88 -2.88v5.76M255.24 230.76h5.76m-2.88 -2.88v5.76M255.96 225.72h5.76m-2.88 -2.88v5.76M256.68 221.4h5.76m-2.88 -2.88v5.76M257.4 218.52h5.76m-2.88 -2.88v5.76M258.12 216.36h5.76m-2.88 -2.88v5.76M258.84 214.2h5.76m-2.88 -2.88v5.76M259.56 212.04h5.76m-2.88 -2.88v5.76M260.28 210.6h5.76m-2.88 -2.88v5.76M260.28 208.44h5.76m-2.88 -2.88v5.76M261 207h5.76m-2.88 -2.88v5.76M261.72 205.56h5.76m-2.88 -2.88v5.76M262.44 203.4h5.76m-2.88 -2.88v5.76M263.16 201.96h5.76m-2.88 -2.88v5.76M263.88 199.8h5.76m-2.88 -2.88v5.76M264.6 198.36h5.76m-2.88 -2.88v5.76M265.32 196.2h5.76m-2.88 -2.88v5.76M266.04 194.76h5.76m-2.88 -2.88v5.76M266.04 193.32h5.76m-2.88 -2.88v5.76M266.76 193.32h5.76m-2.88 -2.88v5.76M267.48 194.04h5.76m-2.88 -2.88v5.76M268.2 194.76h5.76m-2.88 -2.88v5.76M268.92 195.48h5.76m-2.88 -2.88v5.76M269.64 196.92h5.76m-2.88 -2.88v5.76M270.36 197.64h5.76m-2.88 -2.88v5.76M271.08 197.64h5.76m-2.88 -2.88v5.76M271.08 198.36h5.76m-2.88 -2.88v5.76M271.8 199.08h5.76m-2.88 -2.88v5.76M272.52 199.08h5.76m-2.88 -2.88v5.76M273.24 199.08h5.76m-2.88 -2.88v5.76M273.96 199.8h5.76m-2.88 -2.88v5.76M274.68 199.8h5.76m-2.88 -2.88v5.76M275.4 199.8h5.76m-2.88 -2.88v5.76M276.12 199.8h5.76m-2.88 -2.88v5.76M276.84 199.8h5.76m-2.88 -2.88v5.76M276.84 199.8h5.76m-2.88 -2.88v5.76M277.56 199.8h5.76m-2.88 -2.88v5.76M278.28 199.8h5.76m-2.88 -2.88v5.76M279 199.8h5.76m-2.88 -2.88v5.76M279.72 199.8h5.76m-2.88 -2.88v5.76M280.44 200.52h5.76m-2.88 -2.88v5.76M281.16 200.52h5.76m-2.88 -2.88v5.76M281.88 200.52h5.76m-2.88 -2.88v5.76M281.88 200.52h5.76m-2.88 -2.88v5.76M282.6 200.52h5.76m-2.88 -2.88v5.76M283.32 200.52h5.76m-2.88 -2.88v5.76M284.04 200.52h5.76m-2.88 -2.88v5.76M284.76 200.52h5.76m-2.88 -2.88v5.76M285.48 200.52h5.76m-2.88 -2.88v5.76M286.2 200.52h5.76m-2.88 -2.88v5.76M286.92 200.52h5.76m-2.88 -2.88v5.76M287.64 200.52h5.76m-2.88 -2.88v5.76M287.64 200.52h5.76m-2.88 -2.88v5.76M288.36 200.52h5.76m-2.88 -2.88v5.76M289.08 200.52h5.76m-2.88 -2.88v5.76M289.8 200.52h5.76m-2.88 -2.88v5.76M290.52 200.52h5.76m-2.88 -2.88v5.76M291.24 200.52h5.76m-2.88 -2.88v5.76M291.96 200.52h5.76m-2.88 -2.88v5.76M292.68 200.52h5.76m-2.88 -2.88v5.76M292.68 200.52h5.76m-2.88 -2.88v5.76M293.4 200.52h5.76m-2.88 -2.88v5.76M294.12 200.52h5.76m-2.88 -2.88v5.76M294.84 200.52h5.76m-2.88 -2.88v5.76M295.56 200.52h5.76m-2.88 -2.88v5.76M296.28 200.52h5.76m-2.88 -2.88v5.76M297 200.52h5.76m-2.88 -2.88v5.76M297.72 200.52h5.76m-2.88 -2.88v5.76M298.44 200.52h5.76m-2.88 -2.88v5.76M298.44 200.52h5.76m-2.88 -2.88v5.76M299.16 200.52h5.76m-2.88 -2.88v5.76M299.88 200.52h5.76m-2.88 -2.88v5.76M300.6 200.52h5.76m-2.88 -2.88v5.76M301.32 200.52h5.76m-2.88 -2.88v5.76M302.04 200.52h5.76m-2.88 -2.88v5.76M302.76 200.52h5.76m-2.88 -2.88v5.76M303.48 200.52h5.76m-2.88 -2.88v5.76M303.48 200.52h5.76m-2.88 -2.88v5.76M304.2 200.52h5.76m-2.88 -2.88v5.76M304.92 200.52h5.76m-2.88 -2.88v5.76M305.64 200.52h5.76m-2.88 -2.88v5.76M306.36 200.52h5.76m-2.88 -2.88v5.76M307.08 200.52h5.76m-2.88 -2.88v5.76M307.8 200.52h5.76m-2.88 -2.88v5.76M308.52 200.52h5.76m-2.88 -2.88v5.76M309.24 200.52h5.76m-2.88 -2.88v5.76M309.24 200.52h5.76m-2.88 -2.88v5.76M309.96 200.52h5.76m-2.88 -2.88v5.76M310.68 200.52h5.76m-2.88 -2.88v5.76M311.4 200.52h5.76m-2.88 -2.88v5.76M312.12 200.52h5.76m-2.88 -2.88v5.76M312.84 200.52h5.76m-2.88 -2.88v5.76M313.56 200.52h5.76m-2.88 -2.88v5.76M314.28 200.52h5.76m-2.88 -2.88v5.76M314.28 200.52h5.76m-2.88 -2.88v5.76M315 200.52h5.76m-2.88 -2.88v5.76M315.72 200.52h5.76m-2.88 -2.88v5.76M316.44 200.52h5.76m-2.88 -2.88v5.76M317.16 200.52h5.76m-2.88 -2.88v5.76M317.88 200.52h5.76m-2.88 -2.88v5.76M318.6 200.52h5.76m-2.88 -2.88v5.76M319.32 200.52h5.76m-2.88 -2.88v5.76M320.04 200.52h5.76m-2.88 -2.88v5.76M320.04 200.52h5.76m-2.88 -2.88v5.76M320.76 200.52h5.76m-2.88 -2.88v5.76M321.48 200.52h5.76m-2.88 -2.88v5.76M322.2 200.52h5.76m-2.88 -2.88v5.76M322.92 200.52h5.76m-2.88 -2.88v5.76M323.64 200.52h5.76m-2.88 -2.88v5.76M324.36 200.52h5.76m-2.88 -2.88v5.76M325.08 200.52h5.76m-2.88 -2.88v5.76M325.08 200.52h5.76m-2.88 -2.88v5.76M325.8 200.52h5.76m-2.88 -2.88v5.76M326.52 200.52h5.76m-2.88 -2.88v5.76M327.24 200.52h5.76m-2.88 -2.88v5.76M327.96 200.52h5.76m-2.88 -2.88v5.76M328.68 200.52h5.76m-2.88 -2.88v5.76M329.4 200.52h5.76m-2.88 -2.88v5.76M330.12 200.52h5.76m-2.88 -2.88v5.76M330.84 200.52h5.76m-2.88 -2.88v5.76M330.84 200.52h5.76m-2.88 -2.88v5.76M331.56 200.52h5.76m-2.88 -2.88v5.76M332.28 200.52h5.76m-2.88 -2.88v5.76M333 200.52h5.76m-2.88 -2.88v5.76M333.72 200.52h5.76m-2.88 -2.88v5.76M334.44 200.52h5.76m-2.88 -2.88v5.76M335.16 200.52h5.76m-2.88 -2.88v5.76M335.88 200.52h5.76m-2.88 -2.88v5.76M335.88 200.52h5.76m-2.88 -2.88v5.76M336.6 200.52h5.76m-2.88 -2.88v5.76M337.32 200.52h5.76m-2.88 -2.88v5.76M338.04 200.52h5.76m-2.88 -2.88v5.76M338.76 200.52h5.76m-2.88 -2.88v5.76M339.48 200.52h5.76m-2.88 -2.88v5.76M340.2 200.52h5.76m-2.88 -2.88v5.76M340.92 200.52h5.76m-2.88 -2.88v5.76M341.64 200.52h5.76m-2.88 -2.88v5.76M341.64 200.52h5.76m-2.88 -2.88v5.76M342.36 200.52h5.76m-2.88 -2.88v5.76M343.08 200.52h5.76m-2.88 -2.88v5.76M343.8 200.52h5.76m-2.88 -2.88v5.76M344.52 200.52h5.76m-2.88 -2.88v5.76M345.24 200.52h5.76m-2.88 -2.88v5.76M345.96 200.52h5.76m-2.88 -2.88v5.76M346.68 200.52h5.76m-2.88 -2.88v5.76M346.68 200.52h5.76m-2.88 -2.88v5.76M347.4 200.52h5.76m-2.88 -2.88v5.76M348.12 200.52h5.76m-2.88 -2.88v5.76M348.84 200.52h5.76m-2.88 -2.88v5.76M349.56 200.52h5.76m-2.88 -2.88v5.76M350.28 200.52h5.76m-2.88 -2.88v5.76M351 200.52h5.76m-2.88 -2.88v5.76M351.72 200.52h5.76m-2.88 -2.88v5.76M352.44 200.52h5.76m-2.88 -2.88v5.76M352.44 200.52h5.76m-2.88 -2.88v5.76M353.16 200.52h5.76m-2.88 -2.88v5.76M353.88 200.52h5.76m-2.88 -2.88v5.76M354.6 200.52h5.76m-2.88 -2.88v5.76M355.32 200.52h5.76m-2.88 -2.88v5.76M356.04 200.52h5.76m-2.88 -2.88v5.76M356.76 200.52h5.76m-2.88 -2.88v5.76M357.48 200.52h5.76m-2.88 -2.88v5.76M357.48 200.52h5.76m-2.88 -2.88v5.76M358.2 200.52h5.76m-2.88 -2.88v5.76M358.92 200.52h5.76m-2.88 -2.88v5.76M359.64 200.52h5.76m-2.88 -2.88v5.76M360.36 200.52h5.76m-2.88 -2.88v5.76M361.08 200.52h5.76m-2.88 -2.88v5.76M361.8 200.52h5.76m-2.88 -2.88v5.76M362.52 200.52h5.76m-2.88 -2.88v5.76M363.24 200.52h5.76m-2.88 -2.88v5.76M363.24 200.52h5.76m-2.88 -2.88v5.76M363.96 200.52h5.76m-2.88 -2.88v5.76M364.68 200.52h5.76m-2.88 -2.88v5.76M365.4 200.52h5.76m-2.88 -2.88v5.76M366.12 200.52h5.76m-2.88 -2.88v5.76M366.84 200.52h5.76m-2.88 -2.88v5.76M367.56 200.52h5.76m-2.88 -2.88v5.76M368.28 200.52h5.76m-2.88 -2.88v5.76M368.28 200.52h5.76m-2.88 -2.88v5.76M369 200.52h5.76m-2.88 -2.88v5.76M369.72 200.52h5.76m-2.88 -2.88v5.76M370.44 200.52h5.76m-2.88 -2.88v5.76M371.16 200.52h5.76m-2.88 -2.88v5.76M371.88 200.52h5.76m-2.88 -2.88v5.76M372.6 200.52h5.76m-2.88 -2.88v5.76M373.32 200.52h5.76m-2.88 -2.88v5.76M374.04 200.52h5.76m-2.88 -2.88v5.76M374.04 200.52h5.76m-2.88 -2.88v5.76M374.76 200.52h5.76m-2.88 -2.88v5.76M375.48 200.52h5.76m-2.88 -2.88v5.76M376.2 200.52h5.76m-2.88 -2.88v5.76M376.92 200.52h5.76m-2.88 -2.88v5.76M377.64 200.52h5.76m-2.88 -2.88v5.76M378.36 200.52h5.76m-2.88 -2.88v5.76M379.08 200.52h5.76m-2.88 -2.88v5.76M379.08 200.52h5.76m-2.88 -2.88v5.76M379.8 200.52h5.76m-2.88 -2.88v5.76M380.52 200.52h5.76m-2.88 -2.88v5.76M381.24 200.52h5.76m-2.88 -2.88v5.76M381.96 200.52h5.76m-2.88 -2.88v5.76M382.68 200.52h5.76m-2.88 -2.88v5.76M383.4 200.52h5.76m-2.88 -2.88v5.76M384.12 200.52h5.76m-2.88 -2.88v5.76M384.84 200.52h5.76m-2.88 -2.88v5.76M384.84 200.52h5.76m-2.88 -2.88v5.76M385.56 200.52h5.76m-2.88 -2.88v5.76M386.28 200.52h5.76m-2.88 -2.88v5.76M387 200.52h5.76m-2.88 -2.88v5.76M387.72 200.52h5.76m-2.88 -2.88v5.76M388.44 200.52h5.76m-2.88 -2.88v5.76M389.16 200.52h5.76m-2.88 -2.88v5.76M389.88 200.52h5.76m-2.88 -2.88v5.76M389.88 200.52h5.76m-2.88 -2.88v5.76M390.6 200.52h5.76m-2.88 -2.88v5.76M391.32 200.52h5.76m-2.88 -2.88v5.76M392.04 200.52h5.76m-2.88 -2.88v5.76M392.76 200.52h5.76m-2.88 -2.88v5.76M393.48 200.52h5.76m-2.88 -2.88v5.76M394.2 200.52h5.76m-2.88 -2.88v5.76M394.92 200.52h5.76m-2.88 -2.88v5.76M395.64 200.52h5.76m-2.88 -2.88v5.76M395.64 200.52h5.76m-2.88 -2.88v5.76" style="fill: none; fill: #0000ff; stroke: #0000ff; stroke-width: 1"/></g><g id="patch_9"><path d="M57.96 307.8L57.96 186.84" style="fill: none; stroke: #000000; stroke-width: 0.8; stroke-linejoin: miter; stroke-linecap: square"/></g><g id="patch_10"><path d="M415.08 307.8L415.08 186.84" style="fill: none; stroke: #000000; stroke-width: 0.8; stroke-linejoin: miter; stroke-linecap: square"/></g><g id="patch_11"><path d="M57.96 307.8L415.08 307.8" style="fill: none; stroke: #000000; stroke-width: 0.8; stroke-linejoin: miter; stroke-linecap: square"/></g><g id="patch_12"><path d="M57.96 186.84L415.08 186.84" style="fill: none; stroke: #000000; stroke-width: 0.8; stroke-linejoin: miter; stroke-linecap: square"/></g></g><g id="axes_3"><g id="matplotlib.axis_5"><g id="ytick_11"><g id="line2d_58"><defs><path id="ma3a8fa78a7" d="M 0 0  L 3.5 0  " style="stroke: #000000; stroke-width: 0.8"/></defs><g><use href="#ma3a8fa78a7" x="415.08" y="280.44" style="stroke: #000000; stroke-width: 0.8"/></g></g><g id="text_24"><text style="font-size: 10px; font-family: 'DejaVu Sans', sans-serif; text-anchor: start" x="421.72" y="283.915">0.1</text></g></g><g id="ytick_12"><g id="line2d_59"><g><use href="#ma3a8fa78a7" x="415.08" y="251.64" style="stroke: #000000; stroke-width: 0.8"/></g></g><g id="text_25"><text style="font-size: 10px; font-family: 'DejaVu Sans', sans-serif; text-anchor: start" x="421.72" y="254.863">0.2</text></g></g><g id="ytick_13"><g id="line2d_60"><g><use href="#ma3a8fa78a7" x="415.08" y="222.12" style="stroke: #000000; stroke-width: 0.8"/></g></g><g id="text_26"><text style="font-size: 10px; font-family: 'DejaVu Sans', sans-serif; text-anchor: start" x="421.72" y="225.811">0.3</text></g></g><g id="ytick_14"><g id="line2d_61"><g><use href="#ma3a8fa78a7" x="415.08" y="193.32" style="stroke: #000000; stroke-width: 0.8"/></g></g><g id="text_27"><text style="font-size: 10px; font-family: 'DejaVu Sans', sans-serif; text-anchor: start" x="421.72" y="196.759">0.4</text></g></g><g id="text_28"><g transform="translate(452.523 281.434) rotate(-90)"><text><tspan x="0" y="-0.976" style="font-style: oblique; font-size: 10px; font-family: 'DejaVu Sans', sans-serif">E</tspan><tspan x="22.104" y="-0.976" style="font-style: oblique; font-size: 10px; font-family: 'DejaVu Sans', sans-serif">e</tspan><tspan x="28.256" y="-0.976" style="font-style: oblique; font-size: 10px; font-family: 'DejaVu Sans', sans-serif">r</tspan><tspan x="32.367" y="-0.976" style="font-style: oblique; font-size: 10px; font-family: 'DejaVu Sans', sans-serif">g</tspan><tspan x="42.084" y="-0.976" style="font-style: oblique; font-size: 10px; font-family: 'DejaVu Sans', sans-serif">c</tspan><tspan x="47.582" y="-0.976" style="font-style: oblique; font-size: 10px; font-family: 'DejaVu Sans', sans-serif">m</tspan><tspan x="6.318" y="0.664" style="font-style: oblique; font-size: 7px; font-family: 'DejaVu Sans', sans-serif">r</tspan><tspan x="9.196" y="0.664" style="font-style: oblique; font-size: 7px; font-family: 'DejaVu Sans', sans-serif">a</tspan><tspan x="13.485" y="0.664" style="font-style: oblique; font-size: 7px; font-family: 'DejaVu Sans', sans-serif">d</tspan><tspan x="18.202" y="-0.976" style="font-size: 10px; font-family: 'DejaVu Sans', sans-serif">[</tspan><tspan x="38.715" y="-0.976" style="font-size: 10px; font-family: 'DejaVu Sans', sans-serif">/</tspan><tspan x="62.514" y="-0.976" style="font-size: 10px; font-family: 'DejaVu Sans', sans-serif">]</tspan><tspan x="57.787" y="-4.804" style="font-size: 7px; font-family: 'DejaVu Sans', sans-serif">3</tspan></text></g></g></g><g id="line2d_62"><path d="M 73.842 302.078  L 212.971 301.996  L 215.513 301.800  L 217.418 301.435  L 218.689 300.992  L 219.960 300.288  L 221.230 299.191  L 221.865 298.437  L 222.501 297.504  L 223.136 296.355  L 223.771 294.941  L 224.407 293.210  L 225.042 291.098  L 225.677 288.537  L 226.312 285.449  L 226.948 281.757  L 228.218 272.282  L 229.489 259.742  L 230.760 244.358  L 233.301 210.996  L 233.936 204.033  L 234.571 198.399  L 235.207 194.432  L 235.842 192.381  L 236.477 192.381  L 237.112 194.432  L 237.748 198.399  L 238.383 204.033  L 239.654 218.897  L 242.830 259.742  L 244.101 272.282  L 245.371 281.757  L 246.642 288.537  L 247.912 293.210  L 249.183 296.355  L 250.454 298.437  L 251.724 299.800  L 252.995 300.680  L 254.265 301.239  L 255.536 301.588  L 257.442 301.871  L 260.618 302.036  L 268.242 302.078  L 398.477 302.078  L 398.477 302.078  " clip-path="url(#pf1b9fc8d7d)" style="fill: none; stroke-dasharray: 1.5,2.475; stroke-dashoffset: 0; stroke: #ff0000; stroke-width: 1.5"/></g><g id="line2d_63"><path clip-path="url(#pf1b9fc8d7d)" d="M71.64 299.88l5.76 5.76m-5.76 0l5.76 -5.76M71.64 299.88l5.76 5.76m-5.76 0l5.76 -5.76M72.36 299.88l5.76 5.76m-5.76 0l5.76 -5.76M73.08 299.88l5.76 5.76m-5.76 0l5.76 -5.76M73.8 299.88l5.76 5.76m-5.76 0l5.76 -5.76M74.52 299.88l5.76 5.76m-5.76 0l5.76 -5.76M75.24 299.88l5.76 5.76m-5.76 0l5.76 -5.76M75.96 299.88l5.76 5.76m-5.76 0l5.76 -5.76M76.68 299.88l5.76 5.76m-5.76 0l5.76 -5.76M77.4 299.88l5.76 5.76m-5.76 0l5.76 -5.76M77.4 299.88l5.76 5.76m-5.76 0l5.76 -5.76M78.12 299.88l5.76 5.76m-5.76 0l5.76 -5.76M78.84 299.88l5.76 5.76m-5.76 0l5.76 -5.76M79.56 299.88l5.76 5.76m-5.76 0l5.76 -5.76M80.28 299.88l5.76 5.76m-5.76 0l5.76 -5.76M81 299.88l5.76 5.76m-5.76 0l5.76 -5.76M81.72 299.88l5.76 5.76m-5.76 0l5.76 -5.76M82.44 299.88l5.76 5.76m-5.76 0l5.76 -5.76M82.44 299.88l5.76 5.76m-5.76 0l5.76 -5.76M83.16 299.88l5.76 5.76m-5.76 0l5.76 -5.76M83.88 299.88l5.76 5.76m-5.76 0l5.76 -5.76M84.6 299.88l5.76 5.76m-5.76 0l5.76 -5.76M85.32 299.88l5.76 5.76m-5.76 0l5.76 -5.76M86.04 299.88l5.76 5.76m-5.76 0l5.76 -5.76M86.76 299.88l5.76 5.76m-5.76 0l5.76 -5.76M87.48 299.88l5.76 5.76m-5.76 0l5.76 -5.76M88.2 299.88l5.76 5.76m-5.76 0l5.76 -5.76M88.2 299.88l5.76 5.76m-5.76 0l5.76 -5.76M88.92 299.88l5.76 5.76m-5.76 0l5.76 -5.76M89.64 299.88l5.76 5.76m-5.76 0l5.76 -5.76M90.36 299.88l5.76 5.76m-5.76 0l5.76 -5.76M91.08 299.88l5.76 5.76m-5.76 0l5.76 -5.76M91.8 299.88l5.76 5.76m-5.76 0l5.76 -5.76M92.52 299.88l5.76 5.76m-5.76 0l5.76 -5.76M93.24 299.88l5.76 5.76m-5.76 0l5.76 -5.76M93.24 299.88l5.76 5.76m-5.76 0l5.76 -5.76M93.96 299.88l5.76 5.76m-5.76 0l5.76 -5.76M94.68 299.88l5.76 5.76m-5.76 0l5.76 -5.76M95.4 299.88l5.76 5.76m-5.76 0l5.76 -5.76M96.12 299.88l5.76 5.76m-5.76 0l5.76 -5.76M96.84 299.88l5.76 5.76m-5.76 0l5.76 -5.76M97.56 299.88l5.76 5.76m-5.76 0l5.76 -5.76M98.28 299.88l5.76 5.76m-5.76 0l5.76 -5.76M99 299.88l5.76 5.76m-5.76 0l5.76 -5.76M99 299.88l5.76 5.76m-5.76 0l5.76 -5.76M99.72 299.88l5.76 5.76m-5.76 0l5.76 -5.76M100.44 299.88l5.76 5.76m-5.76 0l5.76 -5.76M101.16 299.88l5.76 5.76m-5.76 0l5.76 -5.76M101.88 299.88l5.76 5.76m-5.76 0l5.76 -5.76M102.6 299.88l5.76 5.76m-5.76 0l5.76 -5.76M103.32 299.88l5.76 5.76m-5.76 0l5.76 -5.76M104.04 299.88l5.76 5.76m-5.76 0l5.76 -5.76M104.04 299.88l5.76 5.76m-5.76 0l5.76 -5.76M104.76 299.88l5.76 5.76m-5.76 0l5.76 -5.76M105.48 299.88l5.76 5.76m-5.76 0l5.76 -5.76M106.2 299.88l5.76 5.76m-5.76 0l5.76 -5.76M106.92 299.88l5.76 5.76m-5.76 0l5.76 -5.76M107.64 299.88l5.76 5.76m-5.76 0l5.76 -5.76M108.36 299.88l5.76 5.76m-5.76 0l5.76 -5.76M109.08 299.88l5.76 5.76m-5.76 0l5.76 -5.76M109.8 299.88l5.76 5.76m-5.76 0l5.76 -5.76M109.8 299.88l5.76 5.76m-5.76 0l5.76 -5.76M110.52 299.88l5.76 5.76m-5.76 0l5.76 -5.76M111.24 299.88l5.76 5.76m-5.76 0l5.76 -5.76M111.96 299.88l5.76 5.76m-5.76 0l5.76 -5.76M112.68 299.88l5.76 5.76m-5.76 0l5.76 -5.76M113.4 299.88l5.76 5.76m-5.76 0l5.76 -5.76M114.12 299.88l5.76 5.76m-5.76 0l5.76 -5.76M114.84 299.88l5.76 5.76m-5.76 0l5.76 -5.76M114.84 299.88l5.76 5.76m-5.76 0l5.76 -5.76M115.56 299.88l5.76 5.76m-5.76 0l5.76 -5.76M116.28 299.88l5.76 5.76m-5.76 0l5.76 -5.76M117 299.88l5.76 5.76m-5.76 0l5.76 -5.76M117.72 299.88l5.76 5.76m-5.76 0l5.76 -5.76M118.44 299.88l5.76 5.76m-5.76 0l5.76 -5.76M119.16 299.88l5.76 5.76m-5.76 0l5.76 -5.76M119.88 299.88l5.76 5.76m-5.76 0l5.76 -5.76M120.6 299.88l5.76 5.76m-5.76 0l5.76 -5.76M120.6 299.88l5.76 5.76m-5.76 0l5.76 -5.76M121.32 299.88l5.76 5.76m-5.76 0l5.76 -5.76M122.04 299.88l5.76 5.76m-5.76 0l5.76 -5.76M122.76 299.88l5.76 5.76m-5.76 0l5.76 -5.76M123.48 299.88l5.76 5.76m-5.76 0l5.76 -5.76M124.2 299.88l5.76 5.76m-5.76 0l5.76 -5.76M124.92 299.88l5.76 5.76m-5.76 0l5.76 -5.76M125.64 299.88l5.76 5.76m-5.76 0l5.76 -5.76M125.64 299.88l5.76 5.76m-5.76 0l5.76 -5.76M126.36 299.88l5.76 5.76m-5.76 0l5.76 -5.76M127.08 299.88l5.76 5.76m-5.76 0l5.76 -5.76M127.8 299.88l5.76 5.76m-5.76 0l5.76 -5.76M128.52 299.88l5.76 5.76m-5.76 0l5.76 -5.76M129.24 299.88l5.76 5.76m-5.76 0l5.76 -5.76M129.96 299.88l5.76 5.76m-5.76 0l5.76 -5.76M130.68 299.88l5.76 5.76m-5.76 0l5.76 -5.76M131.4 299.88l5.76 5.76m-5.76 0l5.76 -5.76M131.4 299.88l5.76 5.76m-5.76 0l5.76 -5.76M132.12 299.88l5.76 5.76m-5.76 0l5.76 -5.76M132.84 299.88l5.76 5.76m-5.76 0l5.76 -5.76M133.56 299.88l5.76 5.76m-5.76 0l5.76 -5.76M134.28 299.88l5.76 5.76m-5.76 0l5.76 -5.76M135 299.88l5.76 5.76m-5.76 0l5.76 -5.76M135.72 299.88l5.76 5.76m-5.76 0l5.76 -5.76M136.44 299.88l5.76 5.76m-5.76 0l5.76 -5.76M136.44 299.88l5.76 5.76m-5.76 0l5.76 -5.76M137.16 299.88l5.76 5.76m-5.76 0l5.76 -5.76M137.88 299.88l5.76 5.76m-5.76 0l5.76 -5.76M138.6 299.88l5.76 5.76m-5.76 0l5.76 -5.76M139.32 299.88l5.76 5.76m-5.76 0l5.76 -5.76M140.04 299.88l5.76 5.76m-5.76 0l5.76 -5.76M140.76 299.88l5.76 5.76m-5.76 0l5.76 -5.76M141.48 299.88l5.76 5.76m-5.76 0l5.76 -5.76M142.2 299.88l5.76 5.76m-5.76 0l5.76 -5.76M142.2 299.88l5.76 5.76m-5.76 0l5.76 -5.76M142.92 299.88l5.76 5.76m-5.76 0l5.76 -5.76M143.64 299.88l5.76 5.76m-5.76 0l5.76 -5.76M144.36 299.88l5.76 5.76m-5.76 0l5.76 -5.76M145.08 299.88l5.76 5.76m-5.76 0l5.76 -5.76M145.8 299.88l5.76 5.76m-5.76 0l5.76 -5.76M146.52 299.88l5.76 5.76m-5.76 0l5.76 -5.76M147.24 299.88l5.76 5.76m-5.76 0l5.76 -5.76M147.24 299.88l5.76 5.76m-5.76 0l5.76 -5.76M147.96 299.88l5.76 5.76m-5.76 0l5.76 -5.76M148.68 299.88l5.76 5.76m-5.76 0l5.76 -5.76M149.4 299.88l5.76 5.76m-5.76 0l5.76 -5.76M150.12 299.88l5.76 5.76m-5.76 0l5.76 -5.76M150.84 299.88l5.76 5.76m-5.76 0l5.76 -5.76M151.56 299.88l5.76 5.76m-5.76 0l5.76 -5.76M152.28 299.88l5.76 5.76m-5.76 0l5.76 -5.76M153 299.88l5.76 5.76m-5.76 0l5.76 -5.76M153 299.88l5.76 5.76m-5.76 0l5.76 -5.76M153.72 299.88l5.76 5.76m-5.76 0l5.76 -5.76M154.44 299.88l5.76 5.76m-5.76 0l5.76 -5.76M155.16 299.88l5.76 5.76m-5.76 0l5.76 -5.76M155.88 299.88l5.76 5.76m-5.76 0l5.76 -5.76M156.6 299.88l5.76 5.76m-5.76 0l5.76 -5.76M157.32 299.88l5.76 5.76m-5.76 0l5.76 -5.76M158.04 299.88l5.76 5.76m-5.76 0l5.76 -5.76M158.04 299.88l5.76 5.76m-5.76 0l5.76 -5.76M158.76 299.88l5.76 5.76m-5.76 0l5.76 -5.76M159.48 299.88l5.76 5.76m-5.76 0l5.76 -5.76M160.2 299.88l5.76 5.76m-5.76 0l5.76 -5.76M160.92 299.88l5.76 5.76m-5.76 0l5.76 -5.76M161.64 299.88l5.76 5.76m-5.76 0l5.76 -5.76M162.36 299.88l5.76 5.76m-5.76 0l5.76 -5.76M163.08 299.88l5.76 5.76m-5.76 0l5.76 -5.76M163.8 299.88l5.76 5.76m-5.76 0l5.76 -5.76M163.8 299.88l5.76 5.76m-5.76 0l5.76 -5.76M164.52 299.88l5.76 5.76m-5.76 0l5.76 -5.76M165.24 299.88l5.76 5.76m-5.76 0l5.76 -5.76M165.96 299.88l5.76 5.76m-5.76 0l5.76 -5.76M166.68 299.88l5.76 5.76m-5.76 0l5.76 -5.76M167.4 299.88l5.76 5.76m-5.76 0l5.76 -5.76M168.12 299.88l5.76 5.76m-5.76 0l5.76 -5.76M168.84 299.88l5.76 5.76m-5.76 0l5.76 -5.76M168.84 299.88l5.76 5.76m-5.76 0l5.76 -5.76M169.56 299.88l5.76 5.76m-5.76 0l5.76 -5.76M170.28 299.88l5.76 5.76m-5.76 0l5.76 -5.76M171 299.88l5.76 5.76m-5.76 0l5.76 -5.76M171.72 299.88l5.76 5.76m-5.76 0l5.76 -5.76M172.44 299.88l5.76 5.76m-5.76 0l5.76 -5.76M173.16 299.88l5.76 5.76m-5.76 0l5.76 -5.76M173.88 299.88l5.76 5.76m-5.76 0l5.76 -5.76M174.6 299.88l5.76 5.76m-5.76 0l5.76 -5.76M174.6 299.88l5.76 5.76m-5.76 0l5.76 -5.76M175.32 299.88l5.76 5.76m-5.76 0l5.76 -5.76M176.04 299.88l5.76 5.76m-5.76 0l5.76 -5.76M176.76 299.88l5.76 5.76m-5.76 0l5.76 -5.76M177.48 299.88l5.76 5.76m-5.76 0l5.76 -5.76M178.2 299.88l5.76 5.76m-5.76 0l5.76 -5.76M178.92 299.88l5.76 5.76m-5.76 0l5.76 -5.76M179.64 299.88l5.76 5.76m-5.76 0l5.76 -5.76M179.64 299.88l5.76 5.76m-5.76 0l5.76 -5.76M180.36 299.88l5.76 5.76m-5.76 0l5.76 -5.76M181.08 299.88l5.76 5.76m-5.76 0l5.76 -5.76M181.8 299.88l5.76 5.76m-5.76 0l5.76 -5.76M182.52 299.88l5.76 5.76m-5.76 0l5.76 -5.76M183.24 299.88l5.76 5.76m-5.76 0l5.76 -5.76M183.96 299.88l5.76 5.76m-5.76 0l5.76 -5.76M184.68 299.88l5.76 5.76m-5.76 0l5.76 -5.76M185.4 299.88l5.76 5.76m-5.76 0l5.76 -5.76M185.4 299.88l5.76 5.76m-5.76 0l5.76 -5.76M186.12 299.88l5.76 5.76m-5.76 0l5.76 -5.76M186.84 299.88l5.76 5.76m-5.76 0l5.76 -5.76M187.56 299.88l5.76 5.76m-5.76 0l5.76 -5.76M188.28 299.88l5.76 5.76m-5.76 0l5.76 -5.76M189 299.88l5.76 5.76m-5.76 0l5.76 -5.76M189.72 299.88l5.76 5.76m-5.76 0l5.76 -5.76M190.44 299.88l5.76 5.76m-5.76 0l5.76 -5.76M190.44 299.88l5.76 5.76m-5.76 0l5.76 -5.76M191.16 299.88l5.76 5.76m-5.76 0l5.76 -5.76M191.88 299.88l5.76 5.76m-5.76 0l5.76 -5.76M192.6 299.88l5.76 5.76m-5.76 0l5.76 -5.76M193.32 299.88l5.76 5.76m-5.76 0l5.76 -5.76M194.04 299.88l5.76 5.76m-5.76 0l5.76 -5.76M194.76 299.88l5.76 5.76m-5.76 0l5.76 -5.76M195.48 299.88l5.76 5.76m-5.76 0l5.76 -5.76M196.2 299.88l5.76 5.76m-5.76 0l5.76 -5.76M196.2 299.88l5.76 5.76m-5.76 0l5.76 -5.76M196.92 299.88l5.76 5.76m-5.76 0l5.76 -5.76M197.64 299.88l5.76 5.76m-5.76 0l5.76 -5.76M198.36 299.88l5.76 5.76m-5.76 0l5.76 -5.76M199.08 299.88l5.76 5.76m-5.76 0l5.76 -5.76M199.8 299.88l5.76 5.76m-5.76 0l5.76 -5.76M200.52 299.88l5.76 5.76m-5.76 0l5.76 -5.76M201.24 299.88l5.76 5.76m-5.76 0l5.76 -5.76M201.24 299.16l5.76 5.76m-5.76 0l5.76 -5.76M201.96 299.16l5.76 5.76m-5.76 0l5.76 -5.76M202.68 299.16l5.76 5.76m-5.76 0l5.76 -5.76M203.4 299.16l5.76 5.76m-5.76 0l5.76 -5.76M204.12 299.16l5.76 5.76m-5.76 0l5.76 -5.76M204.84 299.16l5.76 5.76m-5.76 0l5.76 -5.76M205.56 299.16l5.76 5.76m-5.76 0l5.76 -5.76M206.28 299.16l5.76 5.76m-5.76 0l5.76 -5.76M207 299.16l5.76 5.76m-5.76 0l5.76 -5.76M207 299.16l5.76 5.76m-5.76 0l5.76 -5.76M207.72 299.16l5.76 5.76m-5.76 0l5.76 -5.76M208.44 299.16l5.76 5.76m-5.76 0l5.76 -5.76M209.16 298.44l5.76 5.76m-5.76 0l5.76 -5.76M209.88 298.44l5.76 5.76m-5.76 0l5.76 -5.76M210.6 298.44l5.76 5.76m-5.76 0l5.76 -5.76M211.32 298.44l5.76 5.76m-5.76 0l5.76 -5.76M212.04 298.44l5.76 5.76m-5.76 0l5.76 -5.76M212.04 298.44l5.76 5.76m-5.76 0l5.76 -5.76M212.76 297.72l5.76 5.76m-5.76 0l5.76 -5.76M213.48 297.72l5.76 5.76m-5.76 0l5.76 -5.76M214.2 297.72l5.76 5.76m-5.76 0l5.76 -5.76M214.92 297.72l5.76 5.76m-5.76 0l5.76 -5.76M215.64 297l5.76 5.76m-5.76 0l5.76 -5.76M216.36 297l5.76 5.76m-5.76 0l5.76 -5.76M217.08 296.28l5.76 5.76m-5.76 0l5.76 -5.76M217.8 296.28l5.76 5.76m-5.76 0l5.76 -5.76M217.8 295.56l5.76 5.76m-5.76 0l5.76 -5.76M218.52 294.84l5.76 5.76m-5.76 0l5.76 -5.76M219.24 294.12l5.76 5.76m-5.76 0l5.76 -5.76M219.96 293.4l5.76 5.76m-5.76 0l5.76 -5.76M220.68 291.96l5.76 5.76m-5.76 0l5.76 -5.76M221.4 289.8l5.76 5.76m-5.76 0l5.76 -5.76M222.12 286.92l5.76 5.76m-5.76 0l5.76 -5.76M222.84 284.04l5.76 5.76m-5.76 0l5.76 -5.76M222.84 280.44l5.76 5.76m-5.76 0l5.76 -5.76M223.56 276.84l5.76 5.76m-5.76 0l5.76 -5.76M224.28 272.52l5.76 5.76m-5.76 0l5.76 -5.76M225 266.76l5.76 5.76m-5.76 0l5.76 -5.76M225.72 261.72l5.76 5.76m-5.76 0l5.76 -5.76M226.44 256.68l5.76 5.76m-5.76 0l5.76 -5.76M227.16 251.64l5.76 5.76m-5.76 0l5.76 -5.76M227.88 247.32l5.76 5.76m-5.76 0l5.76 -5.76M228.6 242.28l5.76 5.76m-5.76 0l5.76 -5.76M228.6 236.52l5.76 5.76m-5.76 0l5.76 -5.76M229.32 230.04l5.76 5.76m-5.76 0l5.76 -5.76M230.04 223.56l5.76 5.76m-5.76 0l5.76 -5.76M230.76 217.8l5.76 5.76m-5.76 0l5.76 -5.76M231.48 213.48l5.76 5.76m-5.76 0l5.76 -5.76M232.2 211.32l5.76 5.76m-5.76 0l5.76 -5.76M232.92 210.6l5.76 5.76m-5.76 0l5.76 -5.76M233.64 209.88l5.76 5.76m-5.76 0l5.76 -5.76M233.64 209.88l5.76 5.76m-5.76 0l5.76 -5.76M234.36 210.6l5.76 5.76m-5.76 0l5.76 -5.76M235.08 211.32l5.76 5.76m-5.76 0l5.76 -5.76M235.8 213.48l5.76 5.76m-5.76 0l5.76 -5.76M236.52 217.8l5.76 5.76m-5.76 0l5.76 -5.76M237.24 223.56l5.76 5.76m-5.76 0l5.76 -5.76M237.96 230.04l5.76 5.76m-5.76 0l5.76 -5.76M238.68 236.52l5.76 5.76m-5.76 0l5.76 -5.76M238.68 242.28l5.76 5.76m-5.76 0l5.76 -5.76M239.4 247.32l5.76 5.76m-5.76 0l5.76 -5.76M240.12 251.64l5.76 5.76m-5.76 0l5.76 -5.76M240.84 256.68l5.76 5.76m-5.76 0l5.76 -5.76M241.56 261.72l5.76 5.76m-5.76 0l5.76 -5.76M242.28 266.76l5.76 5.76m-5.76 0l5.76 -5.76M243 272.52l5.76 5.76m-5.76 0l5.76 -5.76M243.72 276.84l5.76 5.76m-5.76 0l5.76 -5.76M244.44 280.44l5.76 5.76m-5.76 0l5.76 -5.76M244.44 284.04l5.76 5.76m-5.76 0l5.76 -5.76M245.16 286.92l5.76 5.76m-5.76 0l5.76 -5.76M245.88 289.8l5.76 5.76m-5.76 0l5.76 -5.76M246.6 291.96l5.76 5.76m-5.76 0l5.76 -5.76M247.32 293.4l5.76 5.76m-5.76 0l5.76 -5.76M248.04 294.12l5.76 5.76m-5.76 0l5.76 -5.76M248.76 294.84l5.76 5.76m-5.76 0l5.76 -5.76M249.48 295.56l5.76 5.76m-5.76 0l5.76 -5.76M249.48 296.28l5.76 5.76m-5.76 0l5.76 -5.76M250.2 296.28l5.76 5.76m-5.76 0l5.76 -5.76M250.92 297l5.76 5.76m-5.76 0l5.76 -5.76M251.64 297l5.76 5.76m-5.76 0l5.76 -5.76M252.36 297.72l5.76 5.76m-5.76 0l5.76 -5.76M253.08 297.72l5.76 5.76m-5.76 0l5.76 -5.76M253.8 297.72l5.76 5.76m-5.76 0l5.76 -5.76M254.52 297.72l5.76 5.76m-5.76 0l5.76 -5.76M255.24 298.44l5.76 5.76m-5.76 0l5.76 -5.76M255.24 298.44l5.76 5.76m-5.76 0l5.76 -5.76M255.96 298.44l5.76 5.76m-5.76 0l5.76 -5.76M256.68 298.44l5.76 5.76m-5.76 0l5.76 -5.76M257.4 298.44l5.76 5.76m-5.76 0l5.76 -5.76M258.12 298.44l5.76 5.76m-5.76 0l5.76 -5.76M258.84 299.16l5.76 5.76m-5.76 0l5.76 -5.76M259.56 299.16l5.76 5.76m-5.76 0l5.76 -5.76M260.28 299.16l5.76 5.76m-5.76 0l5.76 -5.76M260.28 299.16l5.76 5.76m-5.76 0l5.76 -5.76M261 299.16l5.76 5.76m-5.76 0l5.76 -5.76M261.72 299.16l5.76 5.76m-5.76 0l5.76 -5.76M262.44 299.16l5.76 5.76m-5.76 0l5.76 -5.76M263.16 299.16l5.76 5.76m-5.76 0l5.76 -5.76M263.88 299.16l5.76 5.76m-5.76 0l5.76 -5.76M264.6 299.16l5.76 5.76m-5.76 0l5.76 -5.76M265.32 299.16l5.76 5.76m-5.76 0l5.76 -5.76M266.04 299.16l5.76 5.76m-5.76 0l5.76 -5.76M266.04 299.88l5.76 5.76m-5.76 0l5.76 -5.76M266.76 299.88l5.76 5.76m-5.76 0l5.76 -5.76M267.48 299.88l5.76 5.76m-5.76 0l5.76 -5.76M268.2 299.88l5.76 5.76m-5.76 0l5.76 -5.76M268.92 299.88l5.76 5.76m-5.76 0l5.76 -5.76M269.64 299.88l5.76 5.76m-5.76 0l5.76 -5.76M270.36 299.88l5.76 5.76m-5.76 0l5.76 -5.76M271.08 299.88l5.76 5.76m-5.76 0l5.76 -5.76M271.08 299.88l5.76 5.76m-5.76 0l5.76 -5.76M271.8 299.88l5.76 5.76m-5.76 0l5.76 -5.76M272.52 299.88l5.76 5.76m-5.76 0l5.76 -5.76M273.24 299.88l5.76 5.76m-5.76 0l5.76 -5.76M273.96 299.88l5.76 5.76m-5.76 0l5.76 -5.76M274.68 299.88l5.76 5.76m-5.76 0l5.76 -5.76M275.4 299.88l5.76 5.76m-5.76 0l5.76 -5.76M276.12 299.88l5.76 5.76m-5.76 0l5.76 -5.76M276.84 299.88l5.76 5.76m-5.76 0l5.76 -5.76M276.84 299.88l5.76 5.76m-5.76 0l5.76 -5.76M277.56 299.88l5.76 5.76m-5.76 0l5.76 -5.76M278.28 299.88l5.76 5.76m-5.76 0l5.76 -5.76M279 299.88l5.76 5.76m-5.76 0l5.76 -5.76M279.72 299.88l5.76 5.76m-5.76 0l5.76 -5.76M280.44 299.88l5.76 5.76m-5.76 0l5.76 -5.76M281.16 299.88l5.76 5.76m-5.76 0l5.76 -5.76M281.88 299.88l5.76 5.76m-5.76 0l5.76 -5.76M281.88 299.88l5.76 5.76m-5.76 0l5.76 -5.76M282.6 299.88l5.76 5.76m-5.76 0l5.76 -5.76M283.32 299.88l5.76 5.76m-5.76 0l5.76 -5.76M284.04 299.88l5.76 5.76m-5.76 0l5.76 -5.76M284.76 299.88l5.76 5.76m-5.76 0l5.76 -5.76M285.48 299.88l5.76 5.76m-5.76 0l5.76 -5.76M286.2 299.88l5.76 5.76m-5.76 0l5.76 -5.76M286.92 299.88l5.76 5.76m-5.76 0l5.76 -5.76M287.64 299.88l5.76 5.76m-5.76 0l5.76 -5.76M287.64 299.88l5.76 5.76m-5.76 0l5.76 -5.76M288.36 299.88l5.76 5.76m-5.76 0l5.76 -5.76M289.08 299.88l5.76 5.76m-5.76 0l5.76 -5.76M289.8 299.88l5.76 5.76m-5.76 0l5.76 -5.76M290.52 299.88l5.76 5.76m-5.76 0l5.76 -5.76M291.24 299.88l5.76 5.76m-5.76 0l5.76 -5.76M291.96 299.88l5.76 5.76m-5.76 0l5.76 -5.76M292.68 299.88l5.76 5.76m-5.76 0l5.76 -5.76M292.68 299.88l5.76 5.76m-5.76 0l5.76 -5.76M293.4 299.88l5.76 5.76m-5.76 0l5.76 -5.76M294.12 299.88l5.76 5.76m-5.76 0l5.76 -5.76M294.84 299.88l5.76 5.76m-5.76 0l5.76 -5.76M295.56 299.88l5.76 5.76m-5.76 0l5.76 -5.76M296.28 299.88l5.76 5.76m-5.76 0l5.76 -5.76M297 299.88l5.76 5.76m-5.76 0l5.76 -5.76M297.72 299.88l5.76 5.76m-5.76 0l5.76 -5.76M298.44 299.88l5.76 5.76m-5.76 0l5.76 -5.76M298.44 299.88l5.76 5.76m-5.76 0l5.76 -5.76M299.16 299.88l5.76 5.76m-5.76 0l5.76 -5.76M299.88 299.88l5.76 5.76m-5.76 0l5.76 -5.76M300.6 299.88l5.76 5.76m-5.76 0l5.76 -5.76M301.32 299.88l5.76 5.76m-5.76 0l5.76 -5.76M302.04 299.88l5.76 5.76m-5.76 0l5.76 -5.76M302.76 299.88l5.76 5.76m-5.76 0l5.76 -5.76M303.48 299.88l5.76 5.76m-5.76 0l5.76 -5.76M303.48 299.88l5.76 5.76m-5.76 0l5.76 -5.76M304.2 299.88l5.76 5.76m-5.76 0l5.76 -5.76M304.92 299.88l5.76 5.76m-5.76 0l5.76 -5.76M305.64 299.88l5.76 5.76m-5.76 0l5.76 -5.76M306.36 299.88l5.76 5.76m-5.76 0l5.76 -5.76M307.08 299.88l5.76 5.76m-5.76 0l5.76 -5.76M307.8 299.88l5.76 5.76m-5.76 0l5.76 -5.76M308.52 299.88l5.76 5.76m-5.76 0l5.76 -5.76M309.24 299.88l5.76 5.76m-5.76 0l5.76 -5.76M309.24 299.88l5.76 5.76m-5.76 0l5.76 -5.76M309.96 299.88l5.76 5.76m-5.76 0l5.76 -5.76M310.68 299.88l5.76 5.76m-5.76 0l5.76 -5.76M311.4 299.88l5.76 5.76m-5.76 0l5.76 -5.76M312.12 299.88l5.76 5.76m-5.76 0l5.76 -5.76M312.84 299.88l5.76 5.76m-5.76 0l5.76 -5.76M313.56 299.88l5.76 5.76m-5.76 0l5.76 -5.76M314.28 299.88l5.76 5.76m-5.76 0l5.76 -5.76M314.28 299.88l5.76 5.76m-5.76 0l5.76 -5.76M315 299.88l5.76 5.76m-5.76 0l5.76 -5.76M315.72 299.88l5.76 5.76m-5.76 0l5.76 -5.76M316.44 299.88l5.76 5.76m-5.76 0l5.76 -5.76M317.16 299.88l5.76 5.76m-5.76 0l5.76 -5.76M317.88 299.88l5.76 5.76m-5.76 0l5.76 -5.76M318.6 299.88l5.76 5.76m-5.76 0l5.76 -5.76M319.32 299.88l5.76 5.76m-5.76 0l5.76 -5.76M320.04 299.88l5.76 5.76m-5.76 0l5.76 -5.76M320.04 299.88l5.76 5.76m-5.76 0l5.76 -5.76M320.76 299.88l5.76 5.76m-5.76 0l5.76 -5.76M321.48 299.88l5.76 5.76m-5.76 0l5.76 -5.76M322.2 299.88l5.76 5.76m-5.76 0l5.76 -5.76M322.92 299.88l5.76 5.76m-5.76 0l5.76 -5.76M323.64 299.88l5.76 5.76m-5.76 0l5.76 -5.76M324.36 299.88l5.76 5.76m-5.76 0l5.76 -5.76M325.08 299.88l5.76 5.76m-5.76 0l5.76 -5.76M325.08 299.88l5.76 5.76m-5.76 0l5.76 -5.76M325.8 299.88l5.76 5.76m-5.76 0l5.76 -5.76M326.52 299.88l5.76 5.76m-5.76 0l5.76 -5.76M327.24 299.88l5.76 5.76m-5.76 0l5.76 -5.76M327.96 299.88l5.76 5.76m-5.76 0l5.76 -5.76M328.68 299.88l5.76 5.76m-5.76 0l5.76 -5.76M329.4 299.88l5.76 5.76m-5.76 0l5.76 -5.76M330.12 299.88l5.76 5.76m-5.76 0l5.76 -5.76M330.84 299.88l5.76 5.76m-5.76 0l5.76 -5.76M330.84 299.88l5.76 5.76m-5.76 0l5.76 -5.76M331.56 299.88l5.76 5.76m-5.76 0l5.76 -5.76M332.28 299.88l5.76 5.76m-5.76 0l5.76 -5.76M333 299.88l5.76 5.76m-5.76 0l5.76 -5.76M333.72 299.88l5.76 5.76m-5.76 0l5.76 -5.76M334.44 299.88l5.76 5.76m-5.76 0l5.76 -5.76M335.16 299.88l5.76 5.76m-5.76 0l5.76 -5.76M335.88 299.88l5.76 5.76m-5.76 0l5.76 -5.76M335.88 299.88l5.76 5.76m-5.76 0l5.76 -5.76M336.6 299.88l5.76 5.76m-5.76 0l5.76 -5.76M337.32 299.88l5.76 5.76m-5.76 0l5.76 -5.76M338.04 299.88l5.76 5.76m-5.76 0l5.76 -5.76M338.76 299.88l5.76 5.76m-5.76 0l5.76 -5.76M339.48 299.88l5.76 5.76m-5.76 0l5.76 -5.76M340.2 299.88l5.76 5.76m-5.76 0l5.76 -5.76M340.92 299.88l5.76 5.76m-5.76 0l5.76 -5.76M341.64 299.88l5.76 5.76m-5.76 0l5.76 -5.76M341.64 299.88l5.76 5.76m-5.76 0l5.76 -5.76M342.36 299.88l5.76 5.76m-5.76 0l5.76 -5.76M343.08 299.88l5.76 5.76m-5.76 0l5.76 -5.76M343.8 299.88l5.76 5.76m-5.76 0l5.76 -5.76M344.52 299.88l5.76 5.76m-5.76 0l5.76 -5.76M345.24 299.88l5.76 5.76m-5.76 0l5.76 -5.76M345.96 299.88l5.76 5.76m-5.76 0l5.76 -5.76M346.68 299.88l5.76 5.76m-5.76 0l5.76 -5.76M346.68 299.88l5.76 5.76m-5.76 0l5.76 -5.76M347.4 299.88l5.76 5.76m-5.76 0l5.76 -5.76M348.12 299.88l5.76 5.76m-5.76 0l5.76 -5.76M348.84 299.88l5.76 5.76m-5.76 0l5.76 -5.76M349.56 299.88l5.76 5.76m-5.76 0l5.76 -5.76M350.28 299.88l5.76 5.76m-5.76 0l5.76 -5.76M351 299.88l5.76 5.76m-5.76 0l5.76 -5.76M351.72 299.88l5.76 5.76m-5.76 0l5.76 -5.76M352.44 299.88l5.76 5.76m-5.76 0l5.76 -5.76M352.44 299.88l5.76 5.76m-5.76 0l5.76 -5.76M353.16 299.88l5.76 5.76m-5.76 0l5.76 -5.76M353.88 299.88l5.76 5.76m-5.76 0l5.76 -5.76M354.6 299.88l5.76 5.76m-5.76 0l5.76 -5.76M355.32 299.88l5.76 5.76m-5.76 0l5.76 -5.76M356.04 299.88l5.76 5.76m-5.76 0l5.76 -5.76M356.76 299.88l5.76 5.76m-5.76 0l5.76 -5.76M357.48 299.88l5.76 5.76m-5.76 0l5.76 -5.76M357.48 299.88l5.76 5.76m-5.76 0l5.76 -5.76M358.2 299.88l5.76 5.76m-5.76 0l5.76 -5.76M358.92 299.88l5.76 5.76m-5.76 0l5.76 -5.76M359.64 299.88l5.76 5.76m-5.76 0l5.76 -5.76M360.36 299.88l5.76 5.76m-5.76 0l5.76 -5.76M361.08 299.88l5.76 5.76m-5.76 0l5.76 -5.76M361.8 299.88l5.76 5.76m-5.76 0l5.76 -5.76M362.52 299.88l5.76 5.76m-5.76 0l5.76 -5.76M363.24 299.88l5.76 5.76m-5.76 0l5.76 -5.76M363.24 299.88l5.76 5.76m-5.76 0l5.76 -5.76M363.96 299.88l5.76 5.76m-5.76 0l5.76 -5.76M364.68 299.88l5.76 5.76m-5.76 0l5.76 -5.76M365.4 299.88l5.76 5.76m-5.76 0l5.76 -5.76M366.12 299.88l5.76 5.76m-5.76 0l5.76 -5.76M366.84 299.88l5.76 5.76m-5.76 0l5.76 -5.76M367.56 299.88l5.76 5.76m-5.76 0l5.76 -5.76M368.28 299.88l5.76 5.76m-5.76 0l5.76 -5.76M368.28 299.88l5.76 5.76m-5.76 0l5.76 -5.76M369 299.88l5.76 5.76m-5.76 0l5.76 -5.76M369.72 299.88l5.76 5.76m-5.76 0l5.76 -5.76M370.44 299.88l5.76 5.76m-5.76 0l5.76 -5.76M371.16 299.88l5.76 5.76m-5.76 0l5.76 -5.76M371.88 299.88l5.76 5.76m-5.76 0l5.76 -5.76M372.6 299.88l5.76 5.76m-5.76 0l5.76 -5.76M373.32 299.88l5.76 5.76m-5.76 0l5.76 -5.76M374.04 299.88l5.76 5.76m-5.76 0l5.76 -5.76M374.04 299.88l5.76 5.76m-5.76 0l5.76 -5.76M374.76 299.88l5.76 5.76m-5.76 0l5.76 -5.76M375.48 299.88l5.76 5.76m-5.76 0l5.76 -5.76M376.2 299.88l5.76 5.76m-5.76 0l5.76 -5.76M376.92 299.88l5.76 5.76m-5.76 0l5.76 -5.76M377.64 299.88l5.76 5.76m-5.76 0l5.76 -5.76M378.36 299.88l5.76 5.76m-5.76 0l5.76 -5.76M379.08 299.88l5.76 5.76m-5.76 0l5.76 -5.76M379.08 299.88l5.76 5.76m-5.76 0l5.76 -5.76M379.8 299.88l5.76 5.76m-5.76 0l5.76 -5.76M380.52 299.88l5.76 5.76m-5.76 0l5.76 -5.76M381.24 299.88l5.76 5.76m-5.76 0l5.76 -5.76M381.96 299.88l5.76 5.76m-5.76 0l5.76 -5.76M382.68 299.88l5.76 5.76m-5.76 0l5.76 -5.76M383.4 299.88l5.76 5.76m-5.76 0l5.76 -5.76M384.12 299.88l5.76 5.76m-5.76 0l5.76 -5.76M384.84 299.88l5.76 5.76m-5.76 0l5.76 -5.76M384.84 299.88l5.76 5.76m-5.76 0l5.76 -5.76M385.56 299.88l5.76 5.76m-5.76 0l5.76 -5.76M386.28 299.88l5.76 5.76m-5.76 0l5.76 -5.76M387 299.88l5.76 5.76m-5.76 0l5.76 -5.76M387.72 299.88l5.76 5.76m-5.76 0l5.76 -5.76M388.44 299.88l5.76 5.76m-5.76 0l5.76 -5.76M389.16 299.88l5.76 5.76m-5.76 0l5.76 -5.76M389.88 299.88l5.76 5.76m-5.76 0l5.76 -5.76M389.88 299.88l5.76 5.76m-5.76 0l5.76 -5.76M390.6 299.88l5.76 5.76m-5.76 0l5.76 -5.76M391.32 299.88l5.76 5.76m-5.76 0l5.76 -5.76M392.04 299.88l5.76 5.76m-5.76 0l5.76 -5.76M392.76 299.88l5.76 5.76m-5.76 0l5.76 -5.76M393.48 299.88l5.76 5.76m-5.76 0l5.76 -5.76M394.2 299.88l5.76 5.76m-5.76 0l5.76 -5.76M394.92 299.88l5.76 5.76m-5.76 0l5.76 -5.76M395.64 299.88l5.76 5.76m-5.76 0l5.76 -5.76M395.64 299.88l5.76 5.76m-5.76 0l5.76 -5.76" style="fill: none; fill: #ff0000; stroke: #ff0000; stroke-width: 1"/></g><g id="line2d_64"><path clip-path="url(#pf1b9fc8d7d)" d="M71.64 302.76h5.76m-2.88 -2.88v5.76M71.64 302.76h5.76m-2.88 -2.88v5.76M72.36 302.76h5.76m-2.88 -2.88v5.76M73.08 302.76h5.76m-2.88 -2.88v5.76M73.8 302.76h5.76m-2.88 -2.88v5.76M74.52 302.76h5.76m-2.88 -2.88v5.76M75.24 302.76h5.76m-2.88 -2.88v5.76M75.96 302.76h5.76m-2.88 -2.88v5.76M76.68 302.76h5.76m-2.88 -2.88v5.76M77.4 302.76h5.76m-2.88 -2.88v5.76M77.4 302.76h5.76m-2.88 -2.88v5.76M78.12 302.76h5.76m-2.88 -2.88v5.76M78.84 302.76h5.76m-2.88 -2.88v5.76M79.56 302.76h5.76m-2.88 -2.88v5.76M80.28 302.76h5.76m-2.88 -2.88v5.76M81 302.76h5.76m-2.88 -2.88v5.76M81.72 302.76h5.76m-2.88 -2.88v5.76M82.44 302.76h5.76m-2.88 -2.88v5.76M82.44 302.76h5.76m-2.88 -2.88v5.76M83.16 302.76h5.76m-2.88 -2.88v5.76M83.88 302.76h5.76m-2.88 -2.88v5.76M84.6 302.76h5.76m-2.88 -2.88v5.76M85.32 302.76h5.76m-2.88 -2.88v5.76M86.04 302.76h5.76m-2.88 -2.88v5.76M86.76 302.76h5.76m-2.88 -2.88v5.76M87.48 302.76h5.76m-2.88 -2.88v5.76M88.2 302.76h5.76m-2.88 -2.88v5.76M88.2 302.76h5.76m-2.88 -2.88v5.76M88.92 302.76h5.76m-2.88 -2.88v5.76M89.64 302.76h5.76m-2.88 -2.88v5.76M90.36 302.76h5.76m-2.88 -2.88v5.76M91.08 302.76h5.76m-2.88 -2.88v5.76M91.8 302.76h5.76m-2.88 -2.88v5.76M92.52 302.76h5.76m-2.88 -2.88v5.76M93.24 302.76h5.76m-2.88 -2.88v5.76M93.24 302.76h5.76m-2.88 -2.88v5.76M93.96 302.76h5.76m-2.88 -2.88v5.76M94.68 302.76h5.76m-2.88 -2.88v5.76M95.4 302.76h5.76m-2.88 -2.88v5.76M96.12 302.76h5.76m-2.88 -2.88v5.76M96.84 302.76h5.76m-2.88 -2.88v5.76M97.56 302.76h5.76m-2.88 -2.88v5.76M98.28 302.76h5.76m-2.88 -2.88v5.76M99 302.76h5.76m-2.88 -2.88v5.76M99 302.76h5.76m-2.88 -2.88v5.76M99.72 302.76h5.76m-2.88 -2.88v5.76M100.44 302.76h5.76m-2.88 -2.88v5.76M101.16 302.76h5.76m-2.88 -2.88v5.76M101.88 302.76h5.76m-2.88 -2.88v5.76M102.6 302.76h5.76m-2.88 -2.88v5.76M103.32 302.76h5.76m-2.88 -2.88v5.76M104.04 302.76h5.76m-2.88 -2.88v5.76M104.04 302.76h5.76m-2.88 -2.88v5.76M104.76 302.76h5.76m-2.88 -2.88v5.76M105.48 302.76h5.76m-2.88 -2.88v5.76M106.2 302.76h5.76m-2.88 -2.88v5.76M106.92 302.76h5.76m-2.88 -2.88v5.76M107.64 302.76h5.76m-2.88 -2.88v5.76M108.36 302.76h5.76m-2.88 -2.88v5.76M109.08 302.76h5.76m-2.88 -2.88v5.76M109.8 302.76h5.76m-2.88 -2.88v5.76M109.8 302.76h5.76m-2.88 -2.88v5.76M110.52 302.76h5.76m-2.88 -2.88v5.76M111.24 302.76h5.76m-2.88 -2.88v5.76M111.96 302.76h5.76m-2.88 -2.88v5.76M112.68 302.76h5.76m-2.88 -2.88v5.76M113.4 302.76h5.76m-2.88 -2.88v5.76M114.12 302.76h5.76m-2.88 -2.88v5.76M114.84 302.76h5.76m-2.88 -2.88v5.76M114.84 302.76h5.76m-2.88 -2.88v5.76M115.56 302.76h5.76m-2.88 -2.88v5.76M116.28 302.76h5.76m-2.88 -2.88v5.76M117 302.76h5.76m-2.88 -2.88v5.76M117.72 302.76h5.76m-2.88 -2.88v5.76M118.44 302.76h5.76m-2.88 -2.88v5.76M119.16 302.76h5.76m-2.88 -2.88v5.76M119.88 302.76h5.76m-2.88 -2.88v5.76M120.6 302.76h5.76m-2.88 -2.88v5.76M120.6 302.76h5.76m-2.88 -2.88v5.76M121.32 302.76h5.76m-2.88 -2.88v5.76M122.04 302.76h5.76m-2.88 -2.88v5.76M122.76 302.76h5.76m-2.88 -2.88v5.76M123.48 302.76h5.76m-2.88 -2.88v5.76M124.2 302.76h5.76m-2.88 -2.88v5.76M124.92 302.76h5.76m-2.88 -2.88v5.76M125.64 302.76h5.76m-2.88 -2.88v5.76M125.64 302.76h5.76m-2.88 -2.88v5.76M126.36 302.76h5.76m-2.88 -2.88v5.76M127.08 302.76h5.76m-2.88 -2.88v5.76M127.8 302.76h5.76m-2.88 -2.88v5.76M128.52 302.76h5.76m-2.88 -2.88v5.76M129.24 302.76h5.76m-2.88 -2.88v5.76M129.96 302.76h5.76m-2.88 -2.88v5.76M130.68 302.76h5.76m-2.88 -2.88v5.76M131.4 302.76h5.76m-2.88 -2.88v5.76M131.4 302.76h5.76m-2.88 -2.88v5.76M132.12 302.76h5.76m-2.88 -2.88v5.76M132.84 302.76h5.76m-2.88 -2.88v5.76M133.56 302.76h5.76m-2.88 -2.88v5.76M134.28 302.76h5.76m-2.88 -2.88v5.76M135 302.76h5.76m-2.88 -2.88v5.76M135.72 302.76h5.76m-2.88 -2.88v5.76M136.44 302.76h5.76m-2.88 -2.88v5.76M136.44 302.76h5.76m-2.88 -2.88v5.76M137.16 302.76h5.76m-2.88 -2.88v5.76M137.88 302.76h5.76m-2.88 -2.88v5.76M138.6 302.76h5.76m-2.88 -2.88v5.76M139.32 302.76h5.76m-2.88 -2.88v5.76M140.04 302.76h5.76m-2.88 -2.88v5.76M140.76 302.76h5.76m-2.88 -2.88v5.76M141.48 302.76h5.76m-2.88 -2.88v5.76M142.2 302.76h5.76m-2.88 -2.88v5.76M142.2 302.76h5.76m-2.88 -2.88v5.76M142.92 302.76h5.76m-2.88 -2.88v5.76M143.64 302.76h5.76m-2.88 -2.88v5.76M144.36 302.76h5.76m-2.88 -2.88v5.76M145.08 302.76h5.76m-2.88 -2.88v5.76M145.8 302.76h5.76m-2.88 -2.88v5.76M146.52 302.76h5.76m-2.88 -2.88v5.76M147.24 302.76h5.76m-2.88 -2.88v5.76M147.24 302.76h5.76m-2.88 -2.88v5.76M147.96 302.76h5.76m-2.88 -2.88v5.76M148.68 302.76h5.76m-2.88 -2.88v5.76M149.4 302.76h5.76m-2.88 -2.88v5.76M150.12 302.76h5.76m-2.88 -2.88v5.76M150.84 302.76h5.76m-2.88 -2.88v5.76M151.56 302.76h5.76m-2.88 -2.88v5.76M152.28 302.76h5.76m-2.88 -2.88v5.76M153 302.76h5.76m-2.88 -2.88v5.76M153 302.76h5.76m-2.88 -2.88v5.76M153.72 302.76h5.76m-2.88 -2.88v5.76M154.44 302.76h5.76m-2.88 -2.88v5.76M155.16 302.76h5.76m-2.88 -2.88v5.76M155.88 302.76h5.76m-2.88 -2.88v5.76M156.6 302.76h5.76m-2.88 -2.88v5.76M157.32 302.76h5.76m-2.88 -2.88v5.76M158.04 302.76h5.76m-2.88 -2.88v5.76M158.04 302.76h5.76m-2.88 -2.88v5.76M158.76 302.76h5.76m-2.88 -2.88v5.76M159.48 302.76h5.76m-2.88 -2.88v5.76M160.2 302.76h5.76m-2.88 -2.88v5.76M160.92 302.76h5.76m-2.88 -2.88v5.76M161.64 302.76h5.76m-2.88 -2.88v5.76M162.36 302.76h5.76m-2.88 -2.88v5.76M163.08 302.76h5.76m-2.88 -2.88v5.76M163.8 302.76h5.76m-2.88 -2.88v5.76M163.8 302.76h5.76m-2.88 -2.88v5.76M164.52 302.76h5.76m-2.88 -2.88v5.76M165.24 302.76h5.76m-2.88 -2.88v5.76M165.96 302.76h5.76m-2.88 -2.88v5.76M166.68 302.76h5.76m-2.88 -2.88v5.76M167.4 302.76h5.76m-2.88 -2.88v5.76M168.12 302.76h5.76m-2.88 -2.88v5.76M168.84 302.76h5.76m-2.88 -2.88v5.76M168.84 302.76h5.76m-2.88 -2.88v5.76M169.56 302.76h5.76m-2.88 -2.88v5.76M170.28 302.76h5.76m-2.88 -2.88v5.76M171 302.76h5.76m-2.88 -2.88v5.76M171.72 302.76h5.76m-2.88 -2.88v5.76M172.44 302.76h5.76m-2.88 -2.88v5.76M173.16 302.76h5.76m-2.88 -2.88v5.76M173.88 302.76h5.76m-2.88 -2.88v5.76M174.6 302.76h5.76m-2.88 -2.88v5.76M174.6 302.76h5.76m-2.88 -2.88v5.76M175.32 302.76h5.76m-2.88 -2.88v5.76M176.04 302.76h5.76m-2.88 -2.88v5.76M176.76 302.76h5.76m-2.88 -2.88v5.76M177.48 302.76h5.76m-2.88 -2.88v5.76M178.2 302.76h5.76m-2.88 -2.88v5.76M178.92 302.76h5.76m-2.88 -2.88v5.76M179.64 302.76h5.76m-2.88 -2.88v5.76M179.64 302.76h5.76m-2.88 -2.88v5.76M180.36 302.76h5.76m-2.88 -2.88v5.76M181.08 302.76h5.76m-2.88 -2.88v5.76M181.8 302.76h5.76m-2.88 -2.88v5.76M182.52 302.76h5.76m-2.88 -2.88v5.76M183.24 302.76h5.76m-2.88 -2.88v5.76M183.96 302.76h5.76m-2.88 -2.88v5.76M184.68 302.76h5.76m-2.88 -2.88v5.76M185.4 302.76h5.76m-2.88 -2.88v5.76M185.4 302.76h5.76m-2.88 -2.88v5.76M186.12 302.76h5.76m-2.88 -2.88v5.76M186.84 302.76h5.76m-2.88 -2.88v5.76M187.56 302.76h5.76m-2.88 -2.88v5.76M188.28 302.76h5.76m-2.88 -2.88v5.76M189 302.76h5.76m-2.88 -2.88v5.76M189.72 302.76h5.76m-2.88 -2.88v5.76M190.44 302.76h5.76m-2.88 -2.88v5.76M190.44 302.76h5.76m-2.88 -2.88v5.76M191.16 302.76h5.76m-2.88 -2.88v5.76M191.88 302.76h5.76m-2.88 -2.88v5.76M192.6 302.76h5.76m-2.88 -2.88v5.76M193.32 302.76h5.76m-2.88 -2.88v5.76M194.04 302.76h5.76m-2.88 -2.88v5.76M194.76 302.76h5.76m-2.88 -2.88v5.76M195.48 302.76h5.76m-2.88 -2.88v5.76M196.2 302.76h5.76m-2.88 -2.88v5.76M196.2 302.76h5.76m-2.88 -2.88v5.76M196.92 302.76h5.76m-2.88 -2.88v5.76M197.64 302.76h5.76m-2.88 -2.88v5.76M198.36 302.76h5.76m-2.88 -2.88v5.76M199.08 302.76h5.76m-2.88 -2.88v5.76M199.8 302.76h5.76m-2.88 -2.88v5.76M200.52 302.76h5.76m-2.88 -2.88v5.76M201.24 302.76h5.76m-2.88 -2.88v5.76M201.24 302.76h5.76m-2.88 -2.88v5.76M201.96 302.76h5.76m-2.88 -2.88v5.76M202.68 302.76h5.76m-2.88 -2.88v5.76M203.4 302.76h5.76m-2.88 -2.88v5.76M204.12 302.76h5.76m-2.88 -2.88v5.76M204.84 302.76h5.76m-2.88 -2.88v5.76M205.56 302.76h5.76m-2.88 -2.88v5.76M206.28 302.76h5.76m-2.88 -2.88v5.76M207 302.76h5.76m-2.88 -2.88v5.76M207 302.76h5.76m-2.88 -2.88v5.76M207.72 302.76h5.76m-2.88 -2.88v5.76M208.44 302.76h5.76m-2.88 -2.88v5.76M209.16 302.76h5.76m-2.88 -2.88v5.76M209.88 302.76h5.76m-2.88 -2.88v5.76M210.6 302.76h5.76m-2.88 -2.88v5.76M211.32 302.76h5.76m-2.88 -2.88v5.76M212.04 302.76h5.76m-2.88 -2.88v5.76M212.04 302.76h5.76m-2.88 -2.88v5.76M212.76 302.76h5.76m-2.88 -2.88v5.76M213.48 302.76h5.76m-2.88 -2.88v5.76M214.2 302.76h5.76m-2.88 -2.88v5.76M214.92 302.04h5.76m-2.88 -2.88v5.76M215.64 302.04h5.76m-2.88 -2.88v5.76M216.36 302.04h5.76m-2.88 -2.88v5.76M217.08 302.04h5.76m-2.88 -2.88v5.76M217.8 302.04h5.76m-2.88 -2.88v5.76M217.8 302.04h5.76m-2.88 -2.88v5.76M218.52 302.04h5.76m-2.88 -2.88v5.76M219.24 302.04h5.76m-2.88 -2.88v5.76M219.96 302.04h5.76m-2.88 -2.88v5.76M220.68 302.04h5.76m-2.88 -2.88v5.76M221.4 302.04h5.76m-2.88 -2.88v5.76M222.12 302.04h5.76m-2.88 -2.88v5.76M222.84 301.32h5.76m-2.88 -2.88v5.76M222.84 301.32h5.76m-2.88 -2.88v5.76M223.56 301.32h5.76m-2.88 -2.88v5.76M224.28 301.32h5.76m-2.88 -2.88v5.76M225 301.32h5.76m-2.88 -2.88v5.76M225.72 301.32h5.76m-2.88 -2.88v5.76M226.44 300.6h5.76m-2.88 -2.88v5.76M227.16 300.6h5.76m-2.88 -2.88v5.76M227.88 300.6h5.76m-2.88 -2.88v5.76M228.6 300.6h5.76m-2.88 -2.88v5.76M228.6 299.88h5.76m-2.88 -2.88v5.76M229.32 299.88h5.76m-2.88 -2.88v5.76M230.04 299.88h5.76m-2.88 -2.88v5.76M230.76 299.16h5.76m-2.88 -2.88v5.76M231.48 298.44h5.76m-2.88 -2.88v5.76M232.2 298.44h5.76m-2.88 -2.88v5.76M232.92 297.72h5.76m-2.88 -2.88v5.76M233.64 296.28h5.76m-2.88 -2.88v5.76M233.64 294.84h5.76m-2.88 -2.88v5.76M234.36 292.68h5.76m-2.88 -2.88v5.76M235.08 290.52h5.76m-2.88 -2.88v5.76M235.8 286.92h5.76m-2.88 -2.88v5.76M236.52 283.32h5.76m-2.88 -2.88v5.76M237.24 279.72h5.76m-2.88 -2.88v5.76M237.96 275.4h5.76m-2.88 -2.88v5.76M238.68 270.36h5.76m-2.88 -2.88v5.76M238.68 265.32h5.76m-2.88 -2.88v5.76M239.4 260.28h5.76m-2.88 -2.88v5.76M240.12 255.24h5.76m-2.88 -2.88v5.76M240.84 250.92h5.76m-2.88 -2.88v5.76M241.56 245.88h5.76m-2.88 -2.88v5.76M242.28 239.4h5.76m-2.88 -2.88v5.76M243 233.64h5.76m-2.88 -2.88v5.76M243.72 227.16h5.76m-2.88 -2.88v5.76M244.44 221.4h5.76m-2.88 -2.88v5.76M244.44 217.08h5.76m-2.88 -2.88v5.76M245.16 214.2h5.76m-2.88 -2.88v5.76M245.88 213.48h5.76m-2.88 -2.88v5.76M246.6 212.76h5.76m-2.88 -2.88v5.76M247.32 212.76h5.76m-2.88 -2.88v5.76M248.04 212.76h5.76m-2.88 -2.88v5.76M248.76 214.2h5.76m-2.88 -2.88v5.76M249.48 216.36h5.76m-2.88 -2.88v5.76M249.48 220.68h5.76m-2.88 -2.88v5.76M250.2 225.72h5.76m-2.88 -2.88v5.76M250.92 232.2h5.76m-2.88 -2.88v5.76M251.64 238.68h5.76m-2.88 -2.88v5.76M252.36 244.44h5.76m-2.88 -2.88v5.76M253.08 249.48h5.76m-2.88 -2.88v5.76M253.8 254.52h5.76m-2.88 -2.88v5.76M254.52 258.84h5.76m-2.88 -2.88v5.76M255.24 263.88h5.76m-2.88 -2.88v5.76M255.24 269.64h5.76m-2.88 -2.88v5.76M255.96 274.68h5.76m-2.88 -2.88v5.76M256.68 279h5.76m-2.88 -2.88v5.76M257.4 282.6h5.76m-2.88 -2.88v5.76M258.12 286.2h5.76m-2.88 -2.88v5.76M258.84 289.8h5.76m-2.88 -2.88v5.76M259.56 292.68h5.76m-2.88 -2.88v5.76M260.28 294.84h5.76m-2.88 -2.88v5.76M260.28 296.28h5.76m-2.88 -2.88v5.76M261 297h5.76m-2.88 -2.88v5.76M261.72 297.72h5.76m-2.88 -2.88v5.76M262.44 298.44h5.76m-2.88 -2.88v5.76M263.16 299.16h5.76m-2.88 -2.88v5.76M263.88 299.16h5.76m-2.88 -2.88v5.76M264.6 299.88h5.76m-2.88 -2.88v5.76M265.32 299.88h5.76m-2.88 -2.88v5.76M266.04 300.6h5.76m-2.88 -2.88v5.76M266.04 300.6h5.76m-2.88 -2.88v5.76M266.76 300.6h5.76m-2.88 -2.88v5.76M267.48 300.6h5.76m-2.88 -2.88v5.76M268.2 301.32h5.76m-2.88 -2.88v5.76M268.92 301.32h5.76m-2.88 -2.88v5.76M269.64 301.32h5.76m-2.88 -2.88v5.76M270.36 301.32h5.76m-2.88 -2.88v5.76M271.08 301.32h5.76m-2.88 -2.88v5.76M271.08 301.32h5.76m-2.88 -2.88v5.76M271.8 302.04h5.76m-2.88 -2.88v5.76M272.52 302.04h5.76m-2.88 -2.88v5.76M273.24 302.04h5.76m-2.88 -2.88v5.76M273.96 302.04h5.76m-2.88 -2.88v5.76M274.68 302.04h5.76m-2.88 -2.88v5.76M275.4 302.04h5.76m-2.88 -2.88v5.76M276.12 302.04h5.76m-2.88 -2.88v5.76M276.84 302.04h5.76m-2.88 -2.88v5.76M276.84 302.04h5.76m-2.88 -2.88v5.76M277.56 302.04h5.76m-2.88 -2.88v5.76M278.28 302.04h5.76m-2.88 -2.88v5.76M279 302.04h5.76m-2.88 -2.88v5.76M279.72 302.76h5.76m-2.88 -2.88v5.76M280.44 302.76h5.76m-2.88 -2.88v5.76M281.16 302.76h5.76m-2.88 -2.88v5.76M281.88 302.76h5.76m-2.88 -2.88v5.76M281.88 302.76h5.76m-2.88 -2.88v5.76M282.6 302.76h5.76m-2.88 -2.88v5.76M283.32 302.76h5.76m-2.88 -2.88v5.76M284.04 302.76h5.76m-2.88 -2.88v5.76M284.76 302.76h5.76m-2.88 -2.88v5.76M285.48 302.76h5.76m-2.88 -2.88v5.76M286.2 302.76h5.76m-2.88 -2.88v5.76M286.92 302.76h5.76m-2.88 -2.88v5.76M287.64 302.76h5.76m-2.88 -2.88v5.76M287.64 302.76h5.76m-2.88 -2.88v5.76M288.36 302.76h5.76m-2.88 -2.88v5.76M289.08 302.76h5.76m-2.88 -2.88v5.76M289.8 302.76h5.76m-2.88 -2.88v5.76M290.52 302.76h5.76m-2.88 -2.88v5.76M291.24 302.76h5.76m-2.88 -2.88v5.76M291.96 302.76h5.76m-2.88 -2.88v5.76M292.68 302.76h5.76m-2.88 -2.88v5.76M292.68 302.76h5.76m-2.88 -2.88v5.76M293.4 302.76h5.76m-2.88 -2.88v5.76M294.12 302.76h5.76m-2.88 -2.88v5.76M294.84 302.76h5.76m-2.88 -2.88v5.76M295.56 302.76h5.76m-2.88 -2.88v5.76M296.28 302.76h5.76m-2.88 -2.88v5.76M297 302.76h5.76m-2.88 -2.88v5.76M297.72 302.76h5.76m-2.88 -2.88v5.76M298.44 302.76h5.76m-2.88 -2.88v5.76M298.44 302.76h5.76m-2.88 -2.88v5.76M299.16 302.76h5.76m-2.88 -2.88v5.76M299.88 302.76h5.76m-2.88 -2.88v5.76M300.6 302.76h5.76m-2.88 -2.88v5.76M301.32 302.76h5.76m-2.88 -2.88v5.76M302.04 302.76h5.76m-2.88 -2.88v5.76M302.76 302.76h5.76m-2.88 -2.88v5.76M303.48 302.76h5.76m-2.88 -2.88v5.76M303.48 302.76h5.76m-2.88 -2.88v5.76M304.2 302.76h5.76m-2.88 -2.88v5.76M304.92 302.76h5.76m-2.88 -2.88v5.76M305.64 302.76h5.76m-2.88 -2.88v5.76M306.36 302.76h5.76m-2.88 -2.88v5.76M307.08 302.76h5.76m-2.88 -2.88v5.76M307.8 302.76h5.76m-2.88 -2.88v5.76M308.52 302.76h5.76m-2.88 -2.88v5.76M309.24 302.76h5.76m-2.88 -2.88v5.76M309.24 302.76h5.76m-2.88 -2.88v5.76M309.96 302.76h5.76m-2.88 -2.88v5.76M310.68 302.76h5.76m-2.88 -2.88v5.76M311.4 302.76h5.76m-2.88 -2.88v5.76M312.12 302.76h5.76m-2.88 -2.88v5.76M312.84 302.76h5.76m-2.88 -2.88v5.76M313.56 302.76h5.76m-2.88 -2.88v5.76M314.28 302.76h5.76m-2.88 -2.88v5.76M314.28 302.76h5.76m-2.88 -2.88v5.76M315 302.76h5.76m-2.88 -2.88v5.76M315.72 302.76h5.76m-2.88 -2.88v5.76M316.44 302.76h5.76m-2.88 -2.88v5.76M317.16 302.76h5.76m-2.88 -2.88v5.76M317.88 302.76h5.76m-2.88 -2.88v5.76M318.6 302.76h5.76m-2.88 -2.88v5.76M319.32 302.76h5.76m-2.88 -2.88v5.76M320.04 302.76h5.76m-2.88 -2.88v5.76M320.04 302.76h5.76m-2.88 -2.88v5.76M320.76 302.76h5.76m-2.88 -2.88v5.76M321.48 302.76h5.76m-2.88 -2.88v5.76M322.2 302.76h5.76m-2.88 -2.88v5.76M322.92 302.76h5.76m-2.88 -2.88v5.76M323.64 302.76h5.76m-2.88 -2.88v5.76M324.36 302.76h5.76m-2.88 -2.88v5.76M325.08 302.76h5.76m-2.88 -2.88v5.76M325.08 302.76h5.76m-2.88 -2.88v5.76M325.8 302.76h5.76m-2.88 -2.88v5.76M326.52 302.76h5.76m-2.88 -2.88v5.76M327.24 302.76h5.76m-2.88 -2.88v5.76M327.96 302.76h5.76m-2.88 -2.88v5.76M328.68 302.76h5.76m-2.88 -2.88v5.76M329.4 302.76h5.76m-2.88 -2.88v5.76M330.12 302.76h5.76m-2.88 -2.88v5.76M330.84 302.76h5.76m-2.88 -2.88v5.76M330.84 302.76h5.76m-2.88 -2.88v5.76M331.56 302.76h5.76m-2.88 -2.88v5.76M332.28 302.76h5.76m-2.88 -2.88v5.76M333 302.76h5.76m-2.88 -2.88v5.76M333.72 302.76h5.76m-2.88 -2.88v5.76M334.44 302.76h5.76m-2.88 -2.88v5.76M335.16 302.76h5.76m-2.88 -2.88v5.76M335.88 302.76h5.76m-2.88 -2.88v5.76M335.88 302.76h5.76m-2.88 -2.88v5.76M336.6 302.76h5.76m-2.88 -2.88v5.76M337.32 302.76h5.76m-2.88 -2.88v5.76M338.04 302.76h5.76m-2.88 -2.88v5.76M338.76 302.76h5.76m-2.88 -2.88v5.76M339.48 302.76h5.76m-2.88 -2.88v5.76M340.2 302.76h5.76m-2.88 -2.88v5.76M340.92 302.76h5.76m-2.88 -2.88v5.76M341.64 302.76h5.76m-2.88 -2.88v5.76M341.64 302.76h5.76m-2.88 -2.88v5.76M342.36 302.76h5.76m-2.88 -2.88v5.76M343.08 302.76h5.76m-2.88 -2.88v5.76M343.8 302.76h5.76m-2.88 -2.88v5.76M344.52 302.76h5.76m-2.88 -2.88v5.76M345.24 302.76h5.76m-2.88 -2.88v5.76M345.96 302.76h5.76m-2.88 -2.88v5.76M346.68 302.76h5.76m-2.88 -2.88v5.76M346.68 302.76h5.76m-2.88 -2.88v5.76M347.4 302.76h5.76m-2.88 -2.88v5.76M348.12 302.76h5.76m-2.88 -2.88v5.76M348.84 302.76h5.76m-2.88 -2.88v5.76M349.56 302.76h5.76m-2.88 -2.88v5.76M350.28 302.76h5.76m-2.88 -2.88v5.76M351 302.76h5.76m-2.88 -2.88v5.76M351.72 302.76h5.76m-2.88 -2.88v5.76M352.44 302.76h5.76m-2.88 -2.88v5.76M352.44 302.76h5.76m-2.88 -2.88v5.76M353.16 302.76h5.76m-2.88 -2.88v5.76M353.88 302.76h5.76m-2.88 -2.88v5.76M354.6 302.76h5.76m-2.88 -2.88v5.76M355.32 302.76h5.76m-2.88 -2.88v5.76M356.04 302.76h5.76m-2.88 -2.88v5.76M356.76 302.76h5.76m-2.88 -2.88v5.76M357.48 302.76h5.76m-2.88 -2.88v5.76M357.48 302.76h5.76m-2.88 -2.88v5.76M358.2 302.76h5.76m-2.88 -2.88v5.76M358.92 302.76h5.76m-2.88 -2.88v5.76M359.64 302.76h5.76m-2.88 -2.88v5.76M360.36 302.76h5.76m-2.88 -2.88v5.76M361.08 302.76h5.76m-2.88 -2.88v5.76M361.8 302.76h5.76m-2.88 -2.88v5.76M362.52 302.76h5.76m-2.88 -2.88v5.76M363.24 302.76h5.76m-2.88 -2.88v5.76M363.24 302.76h5.76m-2.88 -2.88v5.76M363.96 302.76h5.76m-2.88 -2.88v5.76M364.68 302.76h5.76m-2.88 -2.88v5.76M365.4 302.76h5.76m-2.88 -2.88v5.76M366.12 302.76h5.76m-2.88 -2.88v5.76M366.84 302.76h5.76m-2.88 -2.88v5.76M367.56 302.76h5.76m-2.88 -2.88v5.76M368.28 302.76h5.76m-2.88 -2.88v5.76M368.28 302.76h5.76m-2.88 -2.88v5.76M369 302.76h5.76m-2.88 -2.88v5.76M369.72 302.76h5.76m-2.88 -2.88v5.76M370.44 302.76h5.76m-2.88 -2.88v5.76M371.16 302.76h5.76m-2.88 -2.88v5.76M371.88 302.76h5.76m-2.88 -2.88v5.76M372.6 302.76h5.76m-2.88 -2.88v5.76M373.32 302.76h5.76m-2.88 -2.88v5.76M374.04 302.76h5.76m-2.88 -2.88v5.76M374.04 302.76h5.76m-2.88 -2.88v5.76M374.76 302.76h5.76m-2.88 -2.88v5.76M375.48 302.76h5.76m-2.88 -2.88v5.76M376.2 302.76h5.76m-2.88 -2.88v5.76M376.92 302.76h5.76m-2.88 -2.88v5.76M377.64 302.76h5.76m-2.88 -2.88v5.76M378.36 302.76h5.76m-2.88 -2.88v5.76M379.08 302.76h5.76m-2.88 -2.88v5.76M379.08 302.76h5.76m-2.88 -2.88v5.76M379.8 302.76h5.76m-2.88 -2.88v5.76M380.52 302.76h5.76m-2.88 -2.88v5.76M381.24 302.76h5.76m-2.88 -2.88v5.76M381.96 302.76h5.76m-2.88 -2.88v5.76M382.68 302.76h5.76m-2.88 -2.88v5.76M383.4 302.76h5.76m-2.88 -2.88v5.76M384.12 302.76h5.76m-2.88 -2.88v5.76M384.84 302.76h5.76m-2.88 -2.88v5.76M384.84 302.76h5.76m-2.88 -2.88v5.76M385.56 302.76h5.76m-2.88 -2.88v5.76M386.28 302.76h5.76m-2.88 -2.88v5.76M387 302.76h5.76m-2.88 -2.88v5.76M387.72 302.76h5.76m-2.88 -2.88v5.76M388.44 302.76h5.76m-2.88 -2.88v5.76M389.16 302.76h5.76m-2.88 -2.88v5.76M389.88 302.76h5.76m-2.88 -2.88v5.76M389.88 302.76h5.76m-2.88 -2.88v5.76M390.6 302.76h5.76m-2.88 -2.88v5.76M391.32 302.76h5.76m-2.88 -2.88v5.76M392.04 302.76h5.76m-2.88 -2.88v5.76M392.76 302.76h5.76m-2.88 -2.88v5.76M393.48 302.76h5.76m-2.88 -2.88v5.76M394.2 302.76h5.76m-2.88 -2.88v5.76M394.92 302.76h5.76m-2.88 -2.88v5.76M395.64 302.76h5.76m-2.88 -2.88v5.76M395.64 302.76h5.76m-2.88 -2.88v5.76" style="fill: none; fill: #ff0000; stroke: #ff0000; stroke-width: 1"/></g><g id="patch_13"><path d="M57.96 307.8L57.96 186.84" style="fill: none; stroke: #000000; stroke-width: 0.8; stroke-linejoin: miter; stroke-linecap: square"/></g><g id="patch_14"><path d="M415.08 307.8L415.08 186.84" style="fill: none; stroke: #000000; stroke-width: 0.8; stroke-linejoin: miter; stroke-linecap: square"/></g><g id="patch_15"><path d="M57.96 307.8L415.08 307.8" style="fill: none; stroke: #000000; stroke-width: 0.8; stroke-linejoin: miter; stroke-linecap: square"/></g><g id="patch_16"><path d="M57.96 186.84L415.08 186.84" style="fill: none; stroke: #000000; stroke-width: 0.8; stroke-linejoin: miter; stroke-linecap: square"/></g></g></g><defs><clipPath id="p5a04fdbafb"><rect x="57.6" y="41.472" width="357.12" height="120.96"/></clipPath><clipPath id="pf1b9fc8d7d"><rect x="57.6" y="186.624" width="357.12" height="120.96"/></clipPath></defs></svg> 
</body></html>
